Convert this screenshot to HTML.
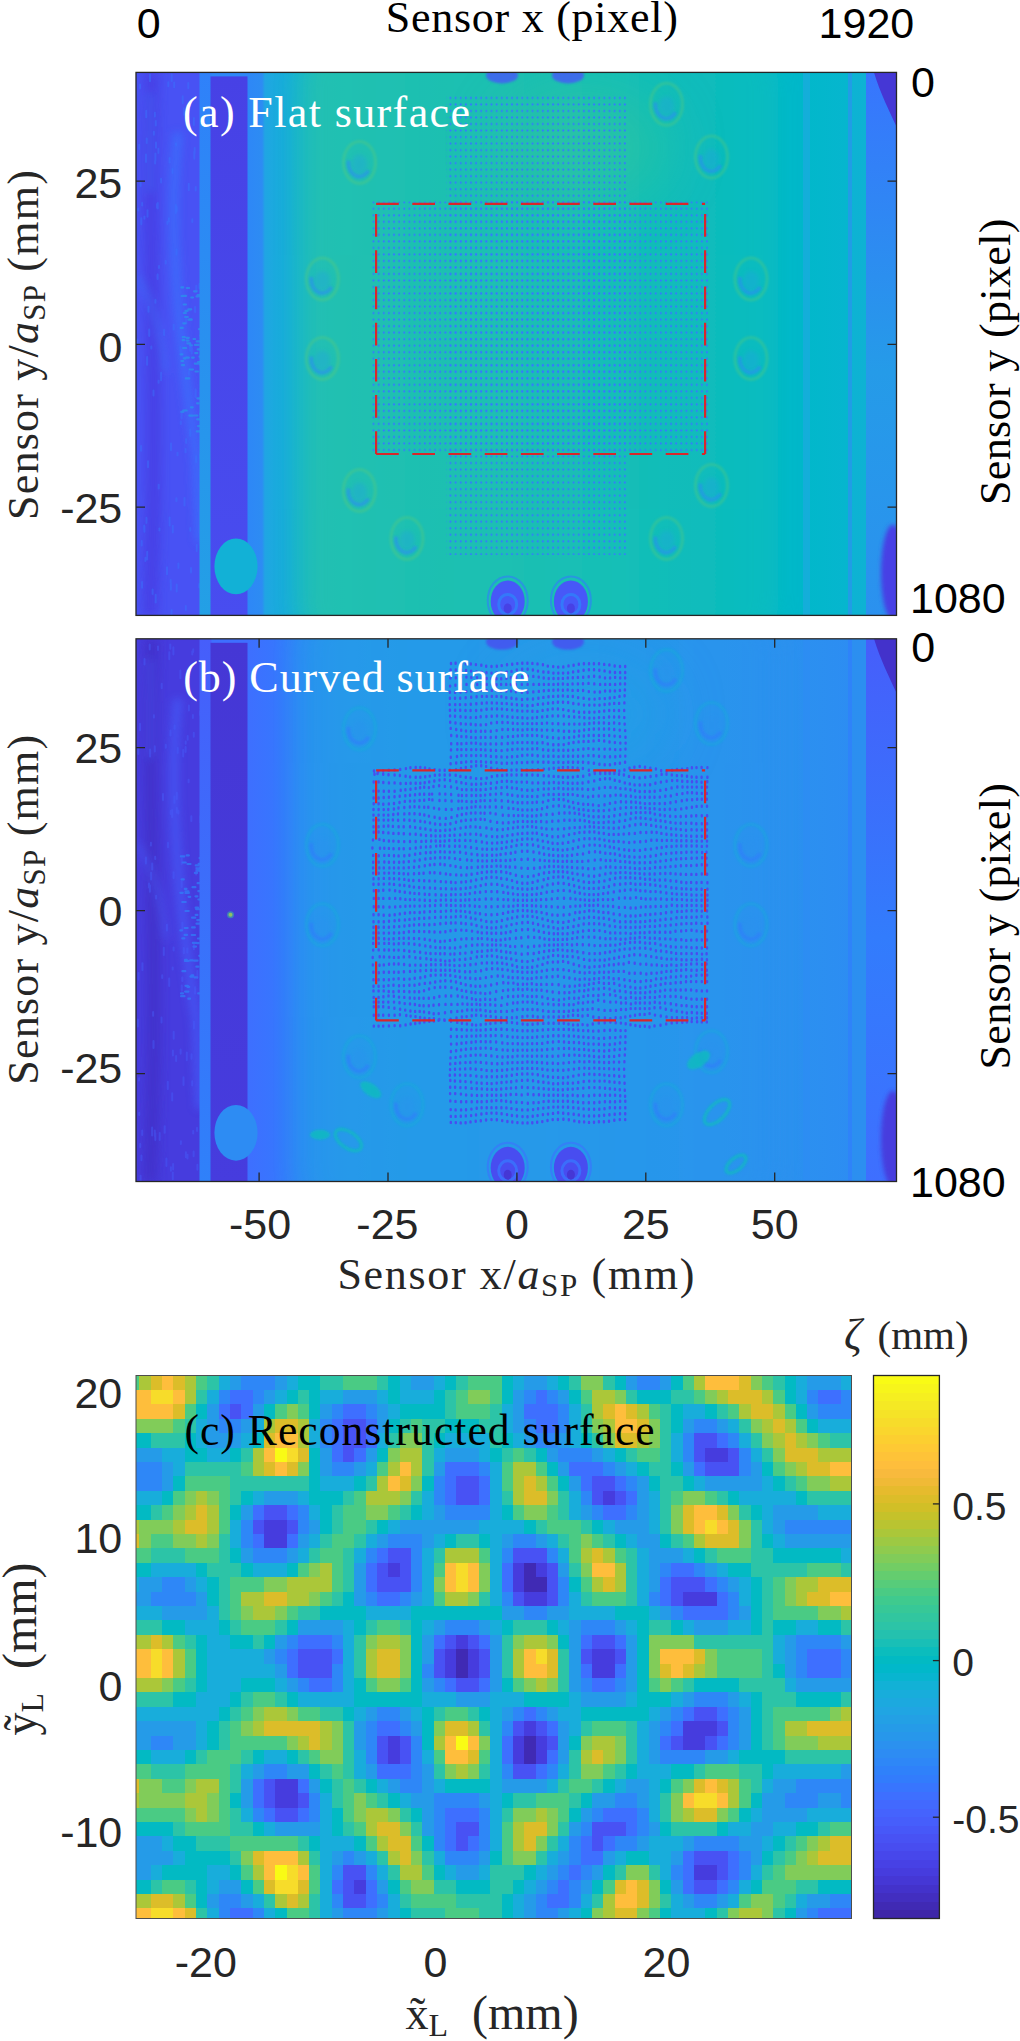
<!DOCTYPE html><html><head><meta charset="utf-8"><title>Figure</title><style>html,body{margin:0;padding:0;background:#fff;}svg{display:block;}</style></head><body><svg width="1020" height="2041" viewBox="0 0 1020 2041">
<defs>
<filter id="blur20" x="-50%" y="-50%" width="200%" height="200%"><feGaussianBlur stdDeviation="30"/></filter>
<filter id="blur8" x="-20%" y="-20%" width="140%" height="140%"><feGaussianBlur stdDeviation="8"/></filter>
<filter id="blur12" x="-20%" y="-20%" width="140%" height="140%"><feGaussianBlur stdDeviation="12"/></filter>
<filter id="blur4" x="-50%" y="-50%" width="200%" height="200%"><feGaussianBlur stdDeviation="4"/></filter>
<filter id="blur2" x="-50%" y="-50%" width="200%" height="200%"><feGaussianBlur stdDeviation="2"/></filter>
<filter id="blur1" x="-50%" y="-50%" width="200%" height="200%"><feGaussianBlur stdDeviation="1.2"/></filter>
<linearGradient id="basea" gradientUnits="userSpaceOnUse" x1="136.0" x2="896.5" y1="0" y2="0"><stop offset="0.1466" stop-color="#2e87f7"/><stop offset="0.1657" stop-color="#2d8cf3"/><stop offset="0.1696" stop-color="#20a5e3"/><stop offset="0.1788" stop-color="#1ca9df"/><stop offset="0.2156" stop-color="#12b1d6"/><stop offset="0.2551" stop-color="#08b5d0"/><stop offset="0.3208" stop-color="#01b8ca"/><stop offset="0.4129" stop-color="#02bac3"/><stop offset="0.6759" stop-color="#02bac3"/><stop offset="0.8205" stop-color="#01b8ca"/><stop offset="0.8731" stop-color="#01b8ca"/><stop offset="0.9599" stop-color="#08b5d0"/></linearGradient>
<linearGradient id="stripa" x1="0" x2="0" y1="0" y2="1"><stop offset="0" stop-color="#2f81fa"/><stop offset="1" stop-color="#23a0e5"/></linearGradient>
<linearGradient id="darka" x1="0" x2="0" y1="0" y2="1"><stop offset="0" stop-color="#4741e5"/><stop offset="1" stop-color="#484df0"/></linearGradient>
<linearGradient id="platea" x1="0" x2="1" y1="0" y2="0"><stop offset="0" stop-color="#2cc4a7"/><stop offset="0.5" stop-color="#24c1ae"/><stop offset="1" stop-color="#0bbdbd"/></linearGradient>
<linearGradient id="rba" x1="0" x2="0" y1="0" y2="1"><stop offset="0" stop-color="#3875fe"/><stop offset="0.55" stop-color="#259be8"/><stop offset="1" stop-color="#2b91ef"/></linearGradient>
<pattern id="dotsa" x="370.94" y="199.04" width="5.13" height="6.52" patternUnits="userSpaceOnUse"><circle cx="2.56" cy="3.26" r="1.08" fill="#327cfc"/></pattern>
<linearGradient id="baseb" gradientUnits="userSpaceOnUse" x1="136.0" x2="896.5" y1="0" y2="0"><stop offset="0.1466" stop-color="#3e6fff"/><stop offset="0.1788" stop-color="#3875fe"/><stop offset="0.2156" stop-color="#2e87f7"/><stop offset="0.2682" stop-color="#2b91ef"/><stop offset="0.3471" stop-color="#2797eb"/><stop offset="0.6759" stop-color="#2797eb"/><stop offset="0.8600" stop-color="#2b91ef"/><stop offset="0.9599" stop-color="#2d8cf3"/></linearGradient>
<linearGradient id="stripb" x1="0" x2="0" y1="0" y2="1"><stop offset="0" stop-color="#465efb"/><stop offset="1" stop-color="#2f81fa"/></linearGradient>
<linearGradient id="darkb" x1="0" x2="0" y1="0" y2="1"><stop offset="0" stop-color="#4537d5"/><stop offset="1" stop-color="#463cde"/></linearGradient>
<linearGradient id="plateb" x1="0" x2="1" y1="0" y2="0"><stop offset="0" stop-color="#23a0e5"/><stop offset="0.5" stop-color="#259be8"/><stop offset="1" stop-color="#2b91ef"/></linearGradient>
<linearGradient id="rbb" x1="0" x2="0" y1="0" y2="1"><stop offset="0" stop-color="#465efb"/><stop offset="0.55" stop-color="#327cfc"/><stop offset="1" stop-color="#3e6fff"/></linearGradient>
<pattern id="dotsb" x="370.94" y="765.44" width="5.13" height="6.52" patternUnits="userSpaceOnUse"><circle cx="2.56" cy="3.26" r="1.7" fill="#484df0"/></pattern>
</defs>
<rect width="1020" height="2041" fill="#ffffff"/>
<clipPath id="clipa"><rect x="136.0" y="72.4" width="760.5" height="543.0"/></clipPath>
<g clip-path="url(#clipa)">
<rect x="136.0" y="72.4" width="760.5" height="543.0" fill="url(#basea)"/>
<rect x="300" y="42.400000000000006" width="478" height="603.0" rx="40" fill="url(#platea)" opacity="0.75" filter="url(#blur12)"/>
<ellipse cx="585" cy="147.4" rx="80" ry="55" fill="#37c897" opacity="0.5" filter="url(#blur20)"/>
<rect x="136.0" y="72.4" width="75.0" height="543.0" fill="#4852f4"/>
<g filter="url(#blur4)" opacity="0.85">
<path d="M152,72.4 C146,222.4 160,372.4 150,615.4" stroke="#4741e5" stroke-width="16" fill="none"/>
<path d="M178,132.4 C168,222.4 178,332.4 196,452.4 L200,542.4" stroke="#3875fe" stroke-width="9" fill="none" opacity="0.8"/>
<path d="M137,277.4 C150,297.4 160,322.4 166,372.4" stroke="#3875fe" stroke-width="4" fill="none" opacity="0.7"/>
<path d="M150,92.4 L150,192.4" stroke="#3875fe" stroke-width="5" fill="none" opacity="0.5"/>
</g>
<path d="M188.4 309.3h2.8M181.9 365.1h2.2M181.5 361.0h1.6M191.3 297.5h1.7M191.0 407.3h1.7M185.8 378.4h3.4M195.0 344.9h3.5M181.2 411.9h2.1M183.8 304.5h2.1M201.2 313.6h2.7M196.6 341.4h2.6M181.6 296.0h1.9M197.7 349.4h2.1M195.2 353.1h2.1M200.7 388.8h2.0M194.9 363.6h3.3M199.0 329.2h3.5M183.1 348.0h3.0M184.0 358.3h1.6M197.4 398.3h2.6M202.8 332.9h2.9M195.5 371.5h2.4M201.8 424.4h2.4M197.3 296.2h2.9M196.8 431.4h3.1M187.4 343.3h2.8M180.6 354.3h1.8M183.0 295.9h3.0M183.4 323.3h2.3M202.7 299.1h2.4M194.3 415.5h3.1M202.5 327.8h2.3M189.3 415.6h3.4M183.9 313.0h2.0M186.1 357.7h2.7M186.8 288.0h2.3M189.6 369.5h3.4M198.0 362.1h2.7M197.6 295.2h3.3M200.3 414.2h3.1M190.2 345.3h1.7M196.5 296.4h1.6M185.4 310.9h2.2M181.4 287.4h1.8M182.6 340.1h1.6M202.7 376.4h1.8M186.6 337.8h2.2M183.2 410.5h3.5M192.1 357.6h1.7M182.7 337.1h2.0M201.6 310.8h1.5M204.7 364.0h1.8M194.1 291.3h2.6M205.4 412.6h2.9M186.8 340.6h1.8M200.1 364.6h3.1M188.6 319.7h3.1M205.6 411.0h3.1M201.3 394.7h2.0M193.5 339.0h1.6M180.7 327.9h2.0M198.0 426.1h2.4M204.4 430.7h3.4M189.5 319.4h2.0M185.1 317.0h2.7M203.4 409.3h2.5M197.0 403.3h1.7M197.2 419.3h3.1M199.5 356.7h1.9M200.5 335.6h3.1" stroke="#2797eb" stroke-width="2.2" stroke-linecap="round" opacity="0.7"/>
<path d="M206.0 287.3v4.4M204.2 466.0v3.0M146.0 154.5v7.4M194.3 151.8v7.0M206.6 429.3v4.1M176.0 143.5v2.1M205.9 425.2v5.2M203.3 308.0v7.2M195.7 187.0v3.5M157.8 203.0v5.5M155.4 299.9v2.8M201.6 264.5v4.7M178.4 563.4v4.5M202.2 344.8v5.2M174.2 82.6v4.6M150.0 74.5v6.8M149.2 329.5v6.4M176.5 249.4v5.1M176.4 498.3v2.6M176.8 207.3v3.7M191.8 348.1v5.4M191.0 567.9v4.7M180.5 346.9v5.1M186.2 318.0v5.2M170.9 583.6v6.2M199.2 584.0v3.6M176.7 584.6v7.0M146.7 138.4v4.7M142.2 203.1v2.4M184.5 498.1v7.4M148.0 461.3v6.0M147.2 551.8v7.8M152.6 589.6v4.4M171.6 609.9v7.0M148.5 306.7v5.1M161.1 178.7v3.9M188.3 83.0v5.3M168.3 82.2v4.0M181.3 350.6v2.4M206.9 500.5v7.8M144.4 216.6v2.2M192.3 219.3v2.8M167.0 567.3v6.9M155.4 153.5v7.5M177.5 452.7v2.5M141.1 446.1v4.6M142.1 581.9v5.8M193.9 117.9v7.1M141.7 540.9v4.7M161.1 372.7v7.6M156.0 142.6v5.2M153.9 131.8v3.0M140.6 182.0v3.9M158.7 484.8v3.7M172.5 169.0v4.1M138.3 208.4v2.1M189.0 371.6v3.1M170.7 579.9v2.6M195.1 307.1v5.0M196.3 285.8v5.0M185.8 605.9v4.1M196.1 456.2v5.8M165.7 261.1v2.3M146.2 110.8v6.4M155.1 161.0v2.5M196.7 545.1v6.0M157.0 203.9v3.8M169.6 157.9v4.7M155.7 594.7v7.8M175.8 205.1v7.8M159.0 266.0v2.0M164.1 330.1v5.0M151.3 346.5v2.0M155.8 121.1v4.4M140.0 84.6v3.8M153.5 390.4v5.2M190.3 429.4v6.3M199.4 283.9v4.0M206.9 153.6v6.3M182.7 96.2v7.0M200.3 413.0v6.4M194.7 148.0v5.1M172.8 525.8v6.8M195.7 389.5v7.4M185.5 448.9v3.4M139.2 144.7v4.2M144.4 526.3v5.4M181.6 412.4v6.1M171.7 74.2v6.8M190.1 345.5v5.2M183.8 108.3v6.4M154.9 112.8v3.6M188.8 183.8v6.4M206.3 340.6v4.3M171.0 443.6v6.6M180.8 421.4v2.5M147.5 210.3v6.5M158.6 380.7v2.1M141.3 218.3v6.0M186.1 439.3v3.7M173.7 324.7v4.8M145.4 557.7v3.2M206.4 580.8v2.1M169.6 517.6v7.8M168.9 218.3v3.3M204.1 186.8v5.5M147.1 357.0v7.7M146.4 517.8v5.1M200.0 454.3v3.4M200.7 336.4v2.1M137.3 339.4v4.7M158.4 148.8v4.1M159.4 528.6v2.0M190.3 528.0v2.7M202.8 459.6v7.4M157.6 274.5v4.4M207.9 392.3v4.2M167.4 221.8v2.3M144.2 525.6v3.7M203.4 207.8v3.6" stroke="#3875fe" stroke-width="2" stroke-linecap="round" opacity="0.45"/>
<rect x="199.5" y="72.4" width="12" height="543.0" fill="url(#stripa)"/>
<rect x="210.5" y="76.4" width="37" height="543.0" fill="url(#darka)"/>
<rect x="803" y="72.4" width="7" height="543.0" fill="#1ca9df" opacity="0.7"/>
<rect x="848" y="72.4" width="4" height="543.0" fill="#2797eb" opacity="0.8"/>
<rect x="852" y="72.4" width="14" height="543.0" fill="#12b1d6" opacity="0.6"/>
<rect x="866" y="72.4" width="30.5" height="543.0" fill="url(#rba)"/>
<path d="M874,72.4 L897,72.4 L897,127.4 C890,112.4 880,92.4 874,72.4Z" fill="#4537d5"/>
<ellipse cx="893" cy="572.4" rx="12" ry="48" fill="#4741e5" filter="url(#blur2)"/>
<ellipse cx="236" cy="566.4" rx="21.6" ry="27.9" fill="#12b1d6"/>
<rect x="446" y="94.9" width="181" height="460" fill="url(#dotsa)"/>
<rect x="372" y="201.4" width="336" height="252" fill="url(#dotsa)"/>
<ellipse cx="359.5" cy="162.4" rx="16" ry="21" fill="none" stroke="#64cd6f" stroke-width="3" opacity="0.35" filter="url(#blur1)"/>
<path d="M348.5,160.4 A11 14 0 0 0 368.5,170.4" fill="none" stroke="#2d8cf3" stroke-width="4" opacity="0.6" filter="url(#blur1)"/>
<ellipse cx="359.5" cy="164.4" rx="8" ry="10" fill="#23a0e5" opacity="0.35" filter="url(#blur2)"/>
<ellipse cx="322.4" cy="278.9" rx="16" ry="21" fill="none" stroke="#64cd6f" stroke-width="3" opacity="0.35" filter="url(#blur1)"/>
<path d="M311.4,276.9 A11 14 0 0 0 331.4,286.9" fill="none" stroke="#2d8cf3" stroke-width="4" opacity="0.6" filter="url(#blur1)"/>
<ellipse cx="322.4" cy="280.9" rx="8" ry="10" fill="#23a0e5" opacity="0.35" filter="url(#blur2)"/>
<ellipse cx="322.4" cy="358.4" rx="16" ry="21" fill="none" stroke="#64cd6f" stroke-width="3" opacity="0.35" filter="url(#blur1)"/>
<path d="M311.4,356.4 A11 14 0 0 0 331.4,366.4" fill="none" stroke="#2d8cf3" stroke-width="4" opacity="0.6" filter="url(#blur1)"/>
<ellipse cx="322.4" cy="360.4" rx="8" ry="10" fill="#23a0e5" opacity="0.35" filter="url(#blur2)"/>
<ellipse cx="359.4" cy="490.4" rx="16" ry="21" fill="none" stroke="#64cd6f" stroke-width="3" opacity="0.35" filter="url(#blur1)"/>
<path d="M348.4,488.4 A11 14 0 0 0 368.4,498.4" fill="none" stroke="#2d8cf3" stroke-width="4" opacity="0.6" filter="url(#blur1)"/>
<ellipse cx="359.4" cy="492.4" rx="8" ry="10" fill="#23a0e5" opacity="0.35" filter="url(#blur2)"/>
<ellipse cx="407" cy="538.4" rx="16" ry="21" fill="none" stroke="#64cd6f" stroke-width="3" opacity="0.35" filter="url(#blur1)"/>
<path d="M396,536.4 A11 14 0 0 0 416,546.4" fill="none" stroke="#2d8cf3" stroke-width="4" opacity="0.6" filter="url(#blur1)"/>
<ellipse cx="407" cy="540.4" rx="8" ry="10" fill="#23a0e5" opacity="0.35" filter="url(#blur2)"/>
<ellipse cx="666.5" cy="104.2" rx="16" ry="21" fill="none" stroke="#64cd6f" stroke-width="3" opacity="0.35" filter="url(#blur1)"/>
<path d="M655.5,102.2 A11 14 0 0 0 675.5,112.2" fill="none" stroke="#2d8cf3" stroke-width="4" opacity="0.6" filter="url(#blur1)"/>
<ellipse cx="666.5" cy="106.2" rx="8" ry="10" fill="#23a0e5" opacity="0.35" filter="url(#blur2)"/>
<ellipse cx="711.5" cy="157.10000000000002" rx="16" ry="21" fill="none" stroke="#64cd6f" stroke-width="3" opacity="0.35" filter="url(#blur1)"/>
<path d="M700.5,155.10000000000002 A11 14 0 0 0 720.5,165.10000000000002" fill="none" stroke="#2d8cf3" stroke-width="4" opacity="0.6" filter="url(#blur1)"/>
<ellipse cx="711.5" cy="159.10000000000002" rx="8" ry="10" fill="#23a0e5" opacity="0.35" filter="url(#blur2)"/>
<ellipse cx="751" cy="278.9" rx="16" ry="21" fill="none" stroke="#64cd6f" stroke-width="3" opacity="0.35" filter="url(#blur1)"/>
<path d="M740,276.9 A11 14 0 0 0 760,286.9" fill="none" stroke="#2d8cf3" stroke-width="4" opacity="0.6" filter="url(#blur1)"/>
<ellipse cx="751" cy="280.9" rx="8" ry="10" fill="#23a0e5" opacity="0.35" filter="url(#blur2)"/>
<ellipse cx="751" cy="358.4" rx="16" ry="21" fill="none" stroke="#64cd6f" stroke-width="3" opacity="0.35" filter="url(#blur1)"/>
<path d="M740,356.4 A11 14 0 0 0 760,366.4" fill="none" stroke="#2d8cf3" stroke-width="4" opacity="0.6" filter="url(#blur1)"/>
<ellipse cx="751" cy="360.4" rx="8" ry="10" fill="#23a0e5" opacity="0.35" filter="url(#blur2)"/>
<ellipse cx="711.5" cy="485.4" rx="16" ry="21" fill="none" stroke="#64cd6f" stroke-width="3" opacity="0.35" filter="url(#blur1)"/>
<path d="M700.5,483.4 A11 14 0 0 0 720.5,493.4" fill="none" stroke="#2d8cf3" stroke-width="4" opacity="0.6" filter="url(#blur1)"/>
<ellipse cx="711.5" cy="487.4" rx="8" ry="10" fill="#23a0e5" opacity="0.35" filter="url(#blur2)"/>
<ellipse cx="666.5" cy="538.4" rx="16" ry="21" fill="none" stroke="#64cd6f" stroke-width="3" opacity="0.35" filter="url(#blur1)"/>
<path d="M655.5,536.4 A11 14 0 0 0 675.5,546.4" fill="none" stroke="#2d8cf3" stroke-width="4" opacity="0.6" filter="url(#blur1)"/>
<ellipse cx="666.5" cy="540.4" rx="8" ry="10" fill="#23a0e5" opacity="0.35" filter="url(#blur2)"/>
<ellipse cx="502" cy="75.4" rx="16" ry="8" fill="#4758f8" opacity="0.8" filter="url(#blur1)"/>
<ellipse cx="568" cy="75.4" rx="16" ry="8" fill="#4758f8" opacity="0.8" filter="url(#blur1)"/>
<path d="M490,569.0 H590" stroke="#64cd6f" stroke-width="2.5" opacity="0.5" filter="url(#blur1)"/>
<ellipse cx="507.7" cy="600.4" rx="20" ry="24" fill="none" stroke="#327cfc" stroke-width="2" opacity="0.6"/>
<ellipse cx="507.7" cy="601.4" rx="17" ry="21" fill="#4758f8"/>
<ellipse cx="507.7" cy="604.4" rx="9" ry="10" fill="none" stroke="#2f81fa" stroke-width="3" opacity="0.8"/>
<ellipse cx="507.7" cy="608.4" rx="4" ry="5" fill="#4741e5"/>
<ellipse cx="570.9" cy="600.4" rx="20" ry="24" fill="none" stroke="#327cfc" stroke-width="2" opacity="0.6"/>
<ellipse cx="570.9" cy="601.4" rx="17" ry="21" fill="#4758f8"/>
<ellipse cx="570.9" cy="604.4" rx="9" ry="10" fill="none" stroke="#2f81fa" stroke-width="3" opacity="0.8"/>
<ellipse cx="570.9" cy="608.4" rx="4" ry="5" fill="#4741e5"/>
<path d="M376.1,203.9 H705.1" stroke="#d9262b" stroke-width="2.2" stroke-dasharray="22.7 13.5" fill="none"/>
<path d="M376.1,454.0 H705.1" stroke="#d9262b" stroke-width="2.2" stroke-dasharray="22.7 13.5" fill="none"/>
<path d="M376.1,454.0 V203.9" stroke="#d9262b" stroke-width="2.2" stroke-dasharray="22.7 13.5" fill="none"/>
<path d="M705.1,454.0 V203.9" stroke="#d9262b" stroke-width="2.2" stroke-dasharray="22.7 13.5" fill="none"/>
</g>
<clipPath id="clipb"><rect x="136.0" y="638.8" width="760.5" height="543.0"/></clipPath>
<g clip-path="url(#clipb)">
<rect x="136.0" y="638.8" width="760.5" height="543.0" fill="url(#baseb)"/>
<rect x="300" y="608.8" width="478" height="603.0" rx="40" fill="url(#plateb)" opacity="0.5" filter="url(#blur12)"/>
<ellipse cx="585" cy="713.8" rx="80" ry="55" fill="#20a5e3" opacity="0.5" filter="url(#blur20)"/>
<rect x="136.0" y="638.8" width="75.0" height="543.0" fill="#463cde"/>
<g filter="url(#blur4)" opacity="0.85">
<path d="M152,638.8 C146,788.8 160,938.8 150,1181.8" stroke="#4332cb" stroke-width="16" fill="none"/>
<path d="M178,698.8 C168,788.8 178,898.8 196,1018.8 L200,1108.8" stroke="#465efb" stroke-width="9" fill="none" opacity="0.8"/>
<path d="M137,843.8 C150,863.8 160,888.8 166,938.8" stroke="#465efb" stroke-width="4" fill="none" opacity="0.7"/>
<path d="M150,658.8 L150,758.8" stroke="#465efb" stroke-width="5" fill="none" opacity="0.5"/>
</g>
<path d="M191.8 935.0h3.3M192.1 927.4h2.7M184.8 928.0h2.8M200.6 867.4h2.1M182.4 971.2h2.9M181.1 996.2h3.4M197.0 943.1h1.8M180.4 930.4h1.6M184.9 888.9h1.6M192.1 917.7h3.2M193.5 946.6h2.5M197.2 920.1h2.1M205.9 998.2h3.2M198.4 899.5h2.0M187.5 864.0h3.0M190.4 976.6h2.3M204.9 976.7h1.5M185.5 985.8h2.4M205.5 911.4h1.6M196.4 966.7h2.0M182.3 902.0h3.4M199.7 870.9h2.0M182.6 862.5h3.1M184.6 934.9h2.4M185.0 959.9h1.8M196.7 870.7h2.3M185.5 892.9h3.4M200.9 897.9h3.3M185.5 911.0h3.2M196.7 868.3h3.5M185.5 891.3h3.0M188.6 896.8h1.6M182.3 938.3h2.0M195.6 907.7h2.4M204.9 923.9h2.6M202.5 880.3h1.8M203.6 972.4h2.0M184.9 961.0h3.4M185.1 991.6h3.3M195.7 914.9h1.7M181.0 993.4h2.0M198.3 891.1h3.1M195.5 896.3h1.9M198.7 863.8h2.0M194.5 977.4h2.7M187.3 986.8h1.9M180.4 892.8h2.4M181.6 879.4h2.2M194.9 872.9h2.2M203.2 996.0h2.8M198.0 938.5h1.8M180.9 856.4h3.3M198.2 993.4h1.5M196.5 923.7h3.0M188.3 998.7h1.7M194.2 960.7h3.3M199.2 955.8h3.1M203.8 904.8h2.9M203.4 980.1h2.3M200.6 979.0h2.6M196.2 909.2h2.7M195.8 865.4h2.8M205.8 981.4h3.0M190.1 960.4h2.7M191.5 975.4h1.7M199.5 858.1h2.7M192.5 887.2h2.9M192.9 942.9h3.3M186.7 855.4h2.1M197.6 883.2h1.8" stroke="#2f81fa" stroke-width="2.2" stroke-linecap="round" opacity="0.7"/>
<path d="M201.3 997.2v4.7M200.3 816.3v6.0M151.1 872.8v6.8M201.9 1116.8v4.3M178.4 810.7v2.8M172.2 1093.3v7.1M187.5 1154.7v3.7M149.0 883.5v3.7M152.2 863.6v5.8M172.1 810.0v7.0M206.7 884.5v2.4M139.2 1112.7v2.2M187.3 948.6v3.9M193.2 649.2v2.8M169.3 652.2v7.0M153.9 715.3v2.3M181.7 881.2v5.8M183.5 1077.2v7.8M185.6 747.0v4.9M149.7 644.6v4.8M187.7 736.1v3.6M161.5 1017.4v5.1M180.6 1049.4v4.4M193.2 1130.9v2.5M203.2 1031.1v2.8M169.2 978.5v7.5M163.8 947.7v7.3M193.6 1151.5v4.8M183.2 750.1v6.3M195.1 987.2v6.3M152.1 1127.5v7.9M206.4 930.4v6.7M159.7 1132.9v7.1M161.7 683.7v4.6M176.1 1056.0v4.9M139.0 1078.2v2.4M193.8 732.7v4.0M192.9 715.1v2.9M173.7 1031.7v7.0M185.9 1152.3v5.0M204.4 685.5v3.3M174.4 796.4v6.4M182.4 922.7v7.1M176.8 808.1v4.3M197.0 1127.8v3.2M197.4 1164.7v5.1M177.7 747.9v5.2M172.7 967.4v2.2M205.8 919.0v4.4M193.9 944.4v4.9M186.1 674.6v5.2M166.4 1158.4v7.5M156.1 895.7v2.8M167.8 1081.7v7.4M170.8 811.0v3.1M180.9 1141.2v2.8M192.3 651.2v3.2M153.1 1011.9v3.9M162.2 975.3v2.6M188.9 705.5v5.1M154.8 746.2v5.2M168.0 842.8v4.5M174.6 725.5v3.2M181.8 985.5v5.2M197.4 971.0v7.1M153.5 1041.0v6.9M201.1 810.3v3.9M202.5 757.3v8.0M200.0 711.5v3.4M188.6 779.7v2.6M196.1 867.7v6.7M145.9 857.5v6.1M138.3 747.9v6.1M201.7 1164.6v2.7M172.9 1050.5v5.0M185.7 741.4v2.4M144.5 659.1v5.3M173.6 947.6v2.9M150.1 749.5v7.0M207.3 1142.1v2.6M141.4 1155.5v4.8M191.3 816.3v4.8M173.6 872.3v5.6M137.9 1019.5v7.1M149.9 885.3v6.4M165.8 744.8v3.0M173.4 647.2v7.4M193.9 1021.4v7.2M181.7 858.4v5.6M172.8 1172.4v6.8M155.3 1133.6v6.5M192.2 1081.2v4.4M200.7 1116.6v6.2M191.5 1054.3v4.4M188.3 677.1v4.1M170.3 644.6v4.1M182.3 977.6v3.4M204.1 1000.5v4.0M183.8 948.1v5.2M164.7 1181.7v5.9M186.8 1052.4v7.9M138.6 973.0v6.4M155.2 856.8v2.3M150.9 842.8v2.6M154.8 1130.6v5.3M173.1 1164.0v5.4M207.7 985.2v6.9M142.4 963.3v6.6M140.2 1143.9v3.0M170.5 730.6v5.0M180.4 670.6v7.7M166.9 924.8v5.6M163.0 794.0v5.9M176.8 792.8v6.3M158.0 646.4v3.5M140.0 723.8v6.5M164.7 1126.2v6.5M140.6 1175.7v7.7M142.2 1130.5v4.6M170.9 1167.2v3.5" stroke="#465efb" stroke-width="2" stroke-linecap="round" opacity="0.45"/>
<rect x="199.5" y="638.8" width="12" height="543.0" fill="url(#stripb)"/>
<rect x="210.5" y="642.8" width="37" height="543.0" fill="url(#darkb)"/>
<rect x="803" y="638.8" width="7" height="543.0" fill="#2d8cf3" opacity="0.7"/>
<rect x="848" y="638.8" width="4" height="543.0" fill="#2f81fa" opacity="0.8"/>
<rect x="852" y="638.8" width="14" height="543.0" fill="#2b91ef" opacity="0.6"/>
<rect x="866" y="638.8" width="30.5" height="543.0" fill="url(#rbb)"/>
<path d="M874,638.8 L897,638.8 L897,693.8 C890,678.8 880,658.8 874,638.8Z" fill="#4332cb"/>
<ellipse cx="893" cy="1138.8" rx="12" ry="48" fill="#463cde" filter="url(#blur2)"/>
<circle cx="230.5" cy="914.8" r="2" fill="#e6bb2d"/><circle cx="230.5" cy="914.8" r="3.5" fill="#37c897" opacity="0.5"/>
<ellipse cx="236" cy="1132.8" rx="21.6" ry="27.9" fill="#2d8cf3"/>
<path d="M451.0 663.0v1M455.6 662.7v1M460.9 663.0v1M465.8 663.3v1M470.8 663.5v1M475.9 664.1v1M481.3 664.8v1M486.2 665.7v1M491.5 666.0v1M496.8 665.8v1M501.7 665.1v1M507.0 664.2v1M512.2 663.7v1M517.3 663.1v1M522.3 662.7v1M527.4 662.7v1M532.4 662.9v1M537.5 663.4v1M542.9 664.2v1M547.8 665.6v1M553.2 666.1v1M558.2 666.6v1M563.3 666.4v1M568.5 665.4v1M573.6 664.8v1M578.8 663.8v1M583.9 663.3v1M589.0 663.3v1M593.9 663.3v1M599.0 663.3v1M604.2 663.9v1M609.4 664.4v1M614.7 665.5v1M620.0 666.0v1M625.2 666.0v1M450.6 669.5v1M455.8 669.5v1M461.1 669.8v1M466.0 670.0v1M471.1 670.6v1M476.5 671.4v1M481.6 672.0v1M486.5 672.2v1M491.5 672.6v1M496.4 672.4v1M501.4 672.0v1M506.7 671.8v1M511.5 670.9v1M516.8 669.5v1M522.2 668.7v1M527.6 668.8v1M532.9 669.5v1M538.0 670.6v1M543.4 671.5v1M548.4 671.7v1M553.4 672.6v1M558.3 672.6v1M563.1 672.6v1M568.1 672.4v1M573.1 671.4v1M578.3 670.8v1M583.6 669.7v1M588.9 669.2v1M594.0 669.3v1M599.3 669.8v1M604.6 670.4v1M609.9 671.5v1M615.0 672.0v1M620.1 672.0v1M625.2 672.0v1M450.4 677.4v1M455.8 677.2v1M460.9 676.6v1M466.4 676.6v1M471.3 676.9v1M477.0 677.1v1M481.8 677.6v1M486.7 678.0v1M491.5 678.0v1M496.5 678.2v1M501.2 678.3v1M506.4 677.8v1M510.9 677.2v1M516.2 676.7v1M522.0 676.2v1M527.7 675.8v1M533.3 675.9v1M538.7 676.6v1M543.7 677.5v1M548.7 678.0v1M553.5 678.0v1M558.3 678.0v1M562.9 677.9v1M567.8 677.4v1M572.8 677.3v1M577.9 676.9v1M583.2 676.8v1M588.7 676.3v1M594.1 675.8v1M599.7 676.4v1M605.0 677.4v1M610.1 677.4v1M615.1 676.9v1M620.2 677.4v1M625.1 677.4v1M450.1 685.6v1M455.4 684.8v1M460.5 684.2v1M466.5 683.9v1M471.3 683.9v1M477.2 683.9v1M481.9 683.9v1M486.7 683.9v1M491.7 684.1v1M496.5 684.3v1M501.1 683.9v1M506.2 683.9v1M510.8 684.1v1M515.9 684.3v1M521.8 683.9v1M527.6 683.9v1M533.5 683.9v1M539.0 683.9v1M543.9 683.9v1M548.7 683.9v1M553.5 683.9v1M558.1 683.8v1M562.9 683.5v1M567.7 683.9v1M572.6 683.4v1M577.9 683.4v1M583.0 683.3v1M588.5 682.9v1M594.3 683.4v1M600.1 683.9v1M605.2 683.9v1M610.0 683.9v1M615.1 683.9v1M620.2 683.4v1M625.0 683.4v1M449.9 691.8v1M455.1 691.9v1M460.4 691.6v1M466.2 691.1v1M471.3 690.5v1M477.0 690.2v1M481.9 689.9v1M486.7 689.9v1M491.8 689.9v1M496.5 690.1v1M501.1 690.5v1M506.2 690.5v1M511.1 690.6v1M515.9 691.2v1M521.9 691.7v1M527.5 692.0v1M533.3 691.4v1M538.8 690.9v1M543.8 690.3v1M548.7 689.9v1M553.4 689.8v1M558.1 689.5v1M562.9 689.8v1M567.7 689.4v1M572.6 689.9v1M577.9 689.9v1M583.1 690.0v1M588.8 691.1v1M594.6 691.6v1M599.9 691.5v1M605.1 690.5v1M610.0 690.5v1M614.9 690.4v1M619.9 689.9v1M624.9 689.4v1M449.9 697.8v1M455.0 697.8v1M460.2 697.8v1M465.7 697.3v1M471.2 696.7v1M476.6 696.2v1M481.9 695.9v1M486.7 695.9v1M491.8 695.9v1M496.6 695.9v1M501.4 696.3v1M506.3 697.2v1M511.5 697.7v1M516.4 698.4v1M522.0 699.0v1M527.4 698.6v1M533.0 698.5v1M538.4 697.8v1M543.4 696.9v1M548.5 696.3v1M553.2 695.9v1M558.1 695.8v1M562.9 695.4v1M567.8 695.9v1M572.8 696.0v1M578.1 697.1v1M583.6 697.7v1M589.2 698.6v1M594.6 698.6v1M599.6 698.1v1M604.8 698.1v1M609.8 697.5v1M614.5 696.9v1M619.5 695.9v1M624.6 695.3v1M449.7 704.1v1M455.2 704.1v1M460.0 704.1v1M465.5 704.1v1M470.8 703.8v1M476.3 703.3v1M481.8 702.7v1M486.7 702.4v1M491.8 702.4v1M496.8 702.6v1M501.8 702.9v1M506.7 703.1v1M511.8 703.7v1M516.9 704.2v1M522.1 704.8v1M527.4 705.2v1M532.6 704.9v1M537.8 703.9v1M543.0 703.4v1M548.1 702.8v1M553.0 702.3v1M557.9 701.8v1M563.0 701.8v1M568.1 702.0v1M573.3 703.0v1M578.6 703.6v1M584.0 704.6v1M589.3 704.6v1M594.4 704.6v1M599.5 704.6v1M604.6 704.0v1M609.5 703.5v1M614.2 702.9v1M619.1 702.9v1M624.4 702.4v1M449.9 709.7v1M455.1 709.8v1M460.2 709.7v1M465.5 710.0v1M470.6 710.0v1M476.1 710.0v1M481.3 709.6v1M486.6 708.7v1M491.8 708.4v1M497.0 708.4v1M501.9 708.6v1M507.0 709.1v1M512.2 709.6v1M517.3 710.2v1M522.3 710.6v1M527.4 710.6v1M532.4 710.7v1M537.4 710.9v1M542.6 709.9v1M547.7 709.2v1M552.7 708.4v1M557.9 708.5v1M563.2 709.1v1M568.5 710.1v1M573.8 710.7v1M579.0 711.7v1M584.2 711.7v1M589.3 711.7v1M594.4 711.6v1M599.2 711.1v1M604.2 710.5v1M609.2 710.0v1M614.1 710.0v1M619.0 710.0v1M624.2 710.0v1M450.1 715.4v1M455.0 715.7v1M460.5 716.2v1M465.6 716.8v1M470.6 717.1v1M476.0 716.9v1M480.7 716.3v1M486.4 716.0v1M491.7 715.8v1M497.0 715.4v1M502.2 715.6v1M507.4 716.2v1M512.5 716.7v1M517.5 717.1v1M522.4 717.3v1M527.4 717.6v1M532.4 717.5v1M537.0 717.0v1M542.2 716.4v1M547.2 715.9v1M552.6 715.4v1M558.1 715.4v1M563.7 715.5v1M568.9 716.1v1M574.2 716.5v1M579.3 716.6v1M584.3 717.2v1M589.4 717.6v1M594.1 717.6v1M599.0 717.1v1M603.9 717.1v1M609.1 716.5v1M614.1 716.5v1M619.1 716.5v1M624.3 717.1v1M450.2 721.7v1M455.5 722.5v1M460.8 723.3v1M465.8 723.6v1M470.8 723.8v1M475.7 724.2v1M480.7 724.4v1M486.0 724.1v1M491.2 722.6v1M496.9 722.0v1M502.4 722.0v1M507.7 722.1v1M512.8 722.7v1M517.5 723.1v1M522.6 723.1v1M527.5 723.1v1M532.2 723.1v1M536.7 723.1v1M541.9 722.9v1M547.0 722.6v1M552.6 723.1v1M558.2 723.2v1M563.9 723.6v1M569.1 723.6v1M574.3 723.6v1M579.4 723.6v1M584.4 723.5v1M589.3 723.0v1M594.0 722.5v1M598.9 722.5v1M603.9 722.5v1M609.0 723.0v1M614.1 722.5v1M619.4 723.1v1M624.7 723.6v1M450.7 727.9v1M456.2 729.0v1M461.2 729.8v1M466.0 730.4v1M471.0 730.7v1M475.7 730.7v1M480.9 730.7v1M485.3 730.7v1M490.8 730.7v1M496.6 730.1v1M502.4 729.0v1M507.9 729.0v1M513.1 729.0v1M517.7 729.2v1M522.5 729.4v1M527.4 729.0v1M532.2 729.0v1M536.8 729.2v1M541.8 729.6v1M547.1 729.6v1M552.7 729.7v1M558.5 730.2v1M563.9 730.7v1M569.1 730.7v1M574.3 730.7v1M579.2 730.5v1M584.1 729.5v1M589.0 729.0v1M593.8 728.5v1M598.9 728.5v1M604.0 728.5v1M609.0 728.5v1M614.2 729.0v1M619.7 729.6v1M625.2 730.1v1M451.2 735.0v1M456.9 735.5v1M461.4 736.1v1M466.3 736.3v1M471.1 736.9v1M475.7 737.2v1M480.8 737.0v1M485.4 736.9v1M490.7 737.0v1M496.0 736.8v1M502.1 736.8v1M507.9 736.1v1M513.0 735.9v1M517.8 735.4v1M522.3 735.0v1M527.4 735.0v1M532.2 735.0v1M537.1 735.1v1M542.0 735.8v1M547.3 736.8v1M553.0 737.3v1M558.6 737.7v1M564.0 737.2v1M569.1 737.1v1M574.1 736.5v1M578.9 735.5v1M583.8 735.5v1M588.7 735.0v1M593.7 735.0v1M598.9 735.0v1M604.0 735.0v1M609.2 735.0v1M614.6 735.6v1M620.0 736.1v1M625.5 736.7v1M451.2 743.2v1M457.3 743.2v1M461.4 743.2v1M466.4 742.9v1M471.3 742.6v1M475.9 742.8v1M480.6 743.4v1M485.5 743.5v1M490.6 743.4v1M496.1 743.5v1M501.7 743.2v1M507.7 743.0v1M512.6 742.4v1M517.5 742.1v1M522.3 742.1v1M527.4 742.1v1M532.3 742.2v1M537.2 742.5v1M542.6 742.3v1M547.8 743.4v1M553.3 744.3v1M558.5 744.3v1M563.7 744.1v1M568.7 743.0v1M573.5 742.0v1M578.6 741.4v1M583.6 741.0v1M588.5 740.9v1M593.6 740.4v1M598.9 739.9v1M604.2 740.5v1M609.5 741.5v1M614.9 742.1v1M620.3 742.6v1M625.6 742.6v1M451.0 749.4v1M457.3 749.1v1M461.4 749.1v1M466.2 749.1v1M471.3 749.1v1M476.1 749.1v1M480.9 749.1v1M485.4 749.4v1M490.8 749.7v1M496.0 749.9v1M501.6 750.1v1M507.4 749.5v1M512.3 749.0v1M517.5 748.6v1M522.3 748.6v1M527.4 748.6v1M532.4 748.4v1M537.2 748.3v1M543.1 749.3v1M548.3 749.7v1M553.4 749.7v1M558.5 749.7v1M563.4 749.7v1M568.2 749.7v1M573.1 749.6v1M578.2 749.1v1M583.4 748.5v1M588.4 748.1v1M593.4 748.6v1M598.9 748.6v1M604.6 748.6v1M609.9 748.6v1M615.2 749.1v1M620.4 749.1v1M625.5 748.6v1M450.8 756.7v1M457.0 756.0v1M461.4 755.1v1M466.2 755.1v1M471.3 755.1v1M476.1 755.1v1M480.9 755.1v1M485.8 755.3v1M490.9 755.9v1M496.3 756.2v1M501.5 756.4v1M507.1 756.6v1M512.0 756.2v1M517.3 755.9v1M522.2 755.0v1M527.4 754.6v1M532.3 754.7v1M537.7 755.2v1M543.4 755.7v1M548.3 755.7v1M553.5 755.8v1M558.5 756.1v1M563.4 755.7v1M568.2 755.7v1M573.0 755.7v1M578.0 755.7v1M583.1 755.6v1M588.4 755.1v1M593.6 755.2v1M599.0 755.7v1M604.6 756.2v1M610.0 756.2v1M615.3 756.2v1M620.2 755.7v1M625.3 755.6v1M450.6 763.3v1M456.2 762.5v1M461.3 761.9v1M466.1 761.4v1M471.3 761.1v1M476.1 761.1v1M481.0 761.3v1M486.0 761.6v1M491.1 761.7v1M496.5 762.1v1M501.7 762.7v1M506.9 762.8v1M511.9 762.6v1M516.8 762.2v1M521.9 762.1v1M527.3 762.0v1M532.5 761.6v1M537.9 761.6v1M543.4 761.7v1M548.4 761.8v1M553.6 762.1v1M558.4 761.8v1M563.3 762.1v1M568.2 761.7v1M573.0 761.7v1M578.0 761.7v1M583.0 761.7v1M588.4 762.2v1M593.9 762.8v1M599.4 763.8v1M604.7 764.3v1M609.9 764.3v1M615.0 763.2v1M619.9 762.7v1M625.1 761.7v1M374.0 770.4v1M378.2 771.2v1M383.2 770.3v1M388.8 769.8v1M394.6 769.5v1M400.2 768.9v1M405.9 768.1v1M410.4 767.3v1M415.7 766.9v1M420.3 766.9v1M425.0 767.4v1M429.5 768.4v1M434.6 769.3v1M439.6 769.7v1M444.7 769.8v1M449.9 769.7v1M456.0 769.2v1M461.0 767.9v1M465.8 766.9v1M471.3 766.1v1M476.1 765.2v1M481.2 765.2v1M486.1 765.9v1M491.2 767.6v1M497.2 768.7v1M501.9 769.1v1M506.9 769.6v1M511.5 769.6v1M516.6 769.5v1M521.7 769.5v1M526.8 769.5v1M532.4 769.5v1M538.0 769.3v1M543.8 768.6v1M549.0 768.5v1M553.7 767.8v1M558.7 767.6v1M563.0 767.0v1M567.9 766.9v1M572.7 767.1v1M577.6 767.8v1M582.9 768.0v1M588.8 769.7v1M594.6 771.3v1M600.2 771.5v1M605.2 771.5v1M609.7 771.5v1M614.5 771.4v1M619.3 770.5v1M624.4 769.5v1M629.5 767.7v1M634.4 766.8v1M639.7 766.0v1M645.0 766.7v1M650.3 767.6v1M655.9 768.5v1M661.2 770.2v1M666.6 770.5v1M672.1 769.8v1M677.0 769.0v1M682.0 768.8v1M687.3 768.1v1M691.9 767.2v1M696.5 767.1v1M701.6 767.0v1M707.4 767.1v1M374.5 773.8v1M377.5 773.1v1M383.2 773.8v1M388.5 774.2v1M394.6 774.5v1M399.9 775.0v1M405.6 775.7v1M410.1 776.4v1M415.7 776.7v1M420.3 776.7v1M425.2 776.3v1M429.8 775.6v1M434.9 774.8v1M439.6 774.5v1M444.7 774.5v1M449.9 774.5v1M455.7 774.8v1M460.4 775.9v1M465.8 776.7v1M470.7 777.3v1M476.1 778.1v1M481.2 778.1v1M486.7 777.6v1M491.8 776.1v1M497.2 775.2v1M502.2 775.0v1M506.9 774.5v1M511.5 774.5v1M516.6 774.5v1M521.7 774.5v1M526.8 774.5v1M532.4 774.5v1M537.8 774.7v1M543.7 775.2v1M548.7 775.4v1M553.7 775.9v1M558.4 776.1v1M562.9 776.7v1M567.9 776.7v1M572.9 776.6v1M577.7 775.9v1M583.2 775.8v1M589.4 774.3v1M594.8 773.0v1M600.2 773.0v1M605.2 773.0v1M609.7 773.0v1M614.4 773.1v1M619.0 773.8v1M623.9 774.5v1M629.0 775.9v1M634.1 776.7v1M639.6 777.4v1M645.2 776.7v1M650.6 776.0v1M656.3 775.3v1M661.6 773.9v1M666.5 773.8v1M671.8 774.4v1M676.9 775.1v1M681.9 775.2v1M687.0 775.8v1M691.7 776.5v1M696.5 776.7v1M701.6 776.7v1M707.4 776.7v1M373.7 781.5v1M378.6 781.4v1M383.3 782.0v1M388.9 782.4v1M394.6 782.4v1M400.5 783.0v1M405.9 782.9v1M410.6 782.7v1M415.7 782.8v1M420.3 782.8v1M424.7 782.3v1M429.2 781.4v1M434.3 780.5v1M439.5 779.6v1M444.7 779.2v1M450.1 780.0v1M456.3 781.3v1M461.4 782.2v1M466.0 783.1v1M471.6 783.7v1M476.1 783.8v1M481.1 783.5v1M485.8 782.9v1M490.9 782.7v1M496.9 782.0v1M501.8 780.9v1M506.9 780.8v1M511.6 781.1v1M516.6 781.6v1M521.7 781.6v1M526.9 781.8v1M532.5 782.4v1M538.1 782.4v1M543.8 782.5v1M549.0 782.4v1M553.8 782.0v1M558.7 782.5v1M563.1 782.1v1M567.9 782.8v1M572.6 782.8v1M577.5 782.7v1M582.6 782.5v1M588.4 781.5v1M594.2 780.4v1M600.0 778.9v1M605.1 778.2v1M609.9 778.3v1M614.8 779.8v1M619.6 780.7v1M624.8 782.4v1M629.8 783.4v1M634.6 784.4v1M639.7 784.5v1M644.8 784.4v1M650.1 784.3v1M655.4 782.7v1M660.9 781.6v1M666.6 780.8v1M672.1 780.1v1M677.2 780.1v1M682.2 780.8v1M687.4 781.0v1M692.0 781.2v1M696.6 781.2v1M701.6 781.8v1M707.3 781.3v1M373.5 790.6v1M378.6 790.6v1M383.8 790.7v1M388.9 790.7v1M394.6 790.7v1M400.7 789.8v1M405.4 789.2v1M410.5 788.7v1M415.6 788.0v1M420.1 787.2v1M424.2 786.8v1M428.9 787.1v1M433.5 786.0v1M439.1 785.2v1M444.9 785.9v1M451.0 786.4v1M457.1 787.7v1M461.9 789.1v1M466.4 789.2v1M471.6 789.3v1M476.1 789.3v1M480.6 789.3v1M485.7 788.9v1M490.8 788.1v1M496.0 787.5v1M501.6 787.1v1M507.0 786.8v1M512.0 787.4v1M516.8 788.0v1M521.8 789.3v1M527.3 789.8v1M532.4 789.8v1M538.0 789.0v1M543.8 788.4v1M548.6 788.4v1M554.0 788.1v1M558.5 787.8v1M563.3 788.3v1M568.0 788.4v1M572.6 788.4v1M577.5 788.4v1M582.4 788.5v1M588.0 789.0v1M593.4 788.8v1M599.2 787.7v1M604.9 786.9v1M610.4 786.9v1M615.5 787.2v1M620.4 788.1v1M625.5 788.4v1M630.4 789.3v1M635.0 790.2v1M639.7 791.0v1M644.8 791.0v1M649.7 791.0v1M654.7 790.7v1M660.3 789.9v1M666.0 789.0v1M671.6 787.4v1M677.3 786.5v1M682.5 786.5v1M687.4 786.6v1M692.0 786.6v1M696.7 786.6v1M701.8 786.7v1M707.0 786.6v1M373.6 797.5v1M378.6 797.5v1M383.7 797.0v1M388.9 796.8v1M394.5 796.3v1M399.7 795.8v1M405.3 795.2v1M410.0 794.8v1M415.0 794.2v1M419.7 793.8v1M424.2 793.7v1M429.3 793.8v1M432.1 793.6v1M439.6 793.4v1M445.3 793.6v1M451.1 794.0v1M458.5 794.7v1M461.9 795.0v1M466.4 795.0v1M471.6 795.0v1M476.1 795.0v1M480.6 795.0v1M485.1 794.6v1M490.3 794.0v1M495.9 793.6v1M501.3 793.3v1M507.5 794.0v1M512.2 794.8v1M517.7 795.5v1M522.3 795.8v1M527.4 795.9v1M532.1 796.0v1M537.4 796.0v1M543.6 794.6v1M548.6 794.0v1M553.6 794.0v1M558.8 793.9v1M563.5 794.0v1M568.0 794.0v1M572.7 794.1v1M577.6 794.9v1M582.8 795.6v1M588.1 796.4v1M593.1 795.7v1M598.7 795.5v1M604.7 795.4v1M610.3 795.3v1M615.7 794.6v1M620.7 794.8v1M625.8 795.5v1M630.9 795.7v1M635.5 796.6v1M640.0 796.8v1M644.8 796.8v1M649.7 796.8v1M654.5 796.8v1M659.8 796.6v1M665.3 795.8v1M670.8 795.4v1M676.8 793.9v1M682.4 793.1v1M687.4 792.3v1M692.0 792.2v1M696.8 792.8v1M701.8 792.9v1M706.9 792.9v1M373.7 803.3v1M378.6 803.3v1M383.3 803.7v1M388.8 803.4v1M394.0 803.0v1M399.5 802.0v1M404.8 800.9v1M410.0 800.6v1M414.5 800.5v1M419.6 800.0v1M424.2 799.7v1M429.1 798.9v1M432.4 799.4v1M439.5 800.0v1M445.4 800.0v1M451.6 800.5v1M458.5 800.6v1M461.9 800.6v1M466.5 800.9v1M471.6 801.3v1M476.0 801.0v1M480.5 800.3v1M484.7 800.1v1M490.2 800.1v1M495.5 799.8v1M501.7 800.2v1M508.1 800.7v1M512.8 801.6v1M517.7 802.2v1M522.3 802.2v1M527.4 802.2v1M532.4 802.1v1M536.8 801.8v1M542.9 801.6v1M548.3 800.1v1M553.6 798.9v1M558.8 798.9v1M563.6 799.2v1M568.2 800.6v1M573.1 802.0v1M578.2 802.9v1M583.3 803.7v1M588.1 803.9v1M593.0 804.4v1M598.7 805.1v1M604.5 804.3v1M609.9 802.9v1M615.4 802.0v1M620.9 801.3v1M626.0 801.5v1M631.2 801.5v1M635.8 801.7v1M640.1 802.4v1M644.9 803.1v1M649.7 803.1v1M654.5 803.1v1M659.6 803.1v1M664.9 803.0v1M670.4 802.3v1M675.9 801.3v1M681.8 800.3v1M686.9 799.4v1M692.1 799.3v1M697.1 798.8v1M701.8 798.7v1M706.8 798.7v1M373.5 809.0v1M378.6 809.0v1M383.7 809.1v1M388.3 809.0v1M393.9 808.5v1M398.5 807.5v1M404.3 807.0v1M409.9 806.5v1M414.5 806.2v1M419.2 806.5v1M424.2 806.7v1M428.3 806.8v1M434.0 807.6v1M439.1 808.5v1M445.9 808.9v1M451.6 809.0v1M458.3 808.3v1M461.9 807.6v1M466.9 807.4v1M471.5 806.8v1M475.5 806.3v1M480.2 806.4v1M485.1 806.5v1M489.8 806.4v1M495.9 806.5v1M501.9 806.7v1M508.5 807.7v1M513.3 808.1v1M517.9 808.9v1M522.4 809.4v1M527.4 809.4v1M532.0 809.4v1M537.0 809.1v1M542.0 808.3v1M547.2 806.7v1M553.3 805.6v1M558.8 805.2v1M564.3 805.8v1M569.3 806.4v1M573.9 807.6v1M578.8 809.0v1M583.5 809.3v1M588.4 809.9v1M593.5 810.1v1M598.6 810.3v1M603.8 810.1v1M609.2 809.6v1M614.8 808.7v1M620.5 807.8v1M626.0 807.1v1M631.2 807.1v1M636.0 807.1v1M640.6 807.3v1M645.2 807.6v1M649.8 808.2v1M654.5 808.3v1M659.7 808.9v1M664.7 809.0v1M669.9 808.8v1M675.4 809.1v1M681.2 808.4v1M686.5 807.5v1M691.9 806.8v1M696.6 805.9v1M701.8 805.8v1M707.0 805.8v1M373.5 814.6v1M378.6 814.6v1M383.7 814.6v1M388.3 814.6v1M393.3 814.0v1M398.0 813.5v1M404.3 813.4v1M409.4 813.3v1M414.5 813.2v1M419.8 813.7v1M424.3 814.5v1M428.9 815.6v1M434.6 816.8v1M439.7 817.7v1M445.8 817.9v1M451.5 816.9v1M457.2 815.3v1M461.8 814.0v1M466.3 813.3v1M471.0 812.6v1M475.5 812.5v1M480.6 812.6v1M484.6 812.7v1M490.3 812.6v1M495.7 813.4v1M502.8 814.7v1M508.6 815.0v1M513.8 815.1v1M518.3 815.1v1M522.5 815.0v1M527.4 815.5v1M532.0 815.5v1M536.5 815.3v1M541.1 814.5v1M546.6 814.0v1M552.7 813.7v1M559.0 812.8v1M564.5 812.5v1M569.6 812.5v1M574.7 812.8v1M579.2 813.4v1M583.9 814.7v1M588.7 815.6v1M593.5 816.2v1M598.6 816.2v1M603.8 816.2v1M608.9 816.1v1M614.3 815.2v1M620.0 814.3v1M625.7 813.4v1M631.1 812.8v1M636.0 812.1v1M640.6 812.1v1M645.4 812.1v1M650.1 812.3v1M654.8 813.6v1M660.1 814.5v1M664.8 815.2v1M670.1 815.8v1M675.6 816.1v1M680.7 816.0v1M686.0 815.7v1M691.4 815.5v1M696.2 815.2v1M701.8 815.2v1M707.1 815.2v1M373.5 819.6v1M378.6 819.6v1M383.7 819.6v1M388.3 819.6v1M392.9 819.4v1M398.1 819.7v1M404.2 819.5v1M409.5 819.7v1M414.6 820.3v1M420.3 820.7v1M424.9 821.4v1M430.0 822.4v1M435.1 823.5v1M440.2 824.0v1M445.3 824.0v1M450.4 823.3v1M456.0 821.8v1M461.2 820.4v1M465.8 819.8v1M470.9 819.4v1M475.5 819.0v1M480.6 818.8v1M484.8 819.1v1M490.5 820.8v1M497.1 821.9v1M502.9 822.4v1M508.5 822.2v1M513.7 821.6v1M517.8 821.1v1M522.9 820.9v1M527.5 821.1v1M532.0 821.1v1M536.1 821.1v1M541.1 821.0v1M546.6 821.4v1M552.3 820.8v1M558.4 820.4v1M564.3 819.7v1M569.6 819.7v1M574.7 819.7v1M579.9 819.7v1M584.7 820.3v1M589.2 821.2v1M593.8 822.1v1M598.6 822.1v1M603.7 822.0v1M608.6 821.4v1M613.8 821.8v1M619.4 820.8v1M625.1 819.9v1M630.5 818.4v1M635.7 817.5v1M640.6 817.5v1M645.5 818.1v1M650.6 818.7v1M655.7 819.8v1M660.6 820.2v1M665.4 821.0v1M670.5 821.9v1M675.6 822.6v1M680.7 822.7v1M686.0 822.7v1M691.4 822.7v1M696.3 823.2v1M701.8 823.3v1M707.1 823.3v1M373.5 826.2v1M378.6 826.2v1M383.7 825.7v1M388.3 825.5v1M392.9 825.9v1M398.6 826.3v1M403.7 826.3v1M410.0 826.3v1M415.2 827.0v1M420.3 827.7v1M425.4 828.5v1M430.6 829.4v1M435.6 830.0v1M440.2 830.1v1M445.3 829.8v1M449.9 829.4v1M454.9 828.6v1M460.6 827.6v1M465.8 826.8v1M470.4 826.3v1M475.6 826.4v1M480.1 826.9v1M486.4 827.4v1M491.6 828.5v1M497.2 829.2v1M502.8 829.0v1M508.0 828.3v1M513.1 827.4v1M517.8 826.8v1M522.8 826.6v1M527.5 826.1v1M532.1 826.3v1M536.2 826.9v1M541.6 827.6v1M546.4 828.4v1M552.2 828.6v1M558.0 828.6v1M564.1 828.2v1M569.5 827.6v1M574.7 827.1v1M579.8 827.0v1M584.9 826.4v1M589.7 826.2v1M594.0 826.5v1M598.7 827.1v1M603.5 827.1v1M608.7 827.4v1M613.7 827.7v1M618.8 827.4v1M624.2 826.5v1M629.6 825.3v1M635.3 824.3v1M640.8 823.7v1M646.0 824.0v1M651.2 824.9v1M656.1 825.8v1M660.8 826.4v1M666.0 827.3v1M671.1 828.2v1M676.0 828.6v1M680.8 829.1v1M686.0 829.7v1M691.5 829.3v1M696.7 829.5v1M701.8 829.5v1M707.0 829.5v1M373.7 831.8v1M378.6 831.5v1M383.2 832.0v1M388.4 832.4v1M393.4 832.9v1M398.6 833.0v1M403.8 833.3v1M410.0 833.6v1M415.7 833.8v1M420.9 834.4v1M426.0 835.0v1M431.1 835.3v1M435.6 835.5v1M440.2 835.5v1M444.7 835.3v1M449.8 834.9v1M454.5 834.7v1M460.1 834.4v1M465.3 833.8v1M470.4 833.6v1M476.1 833.7v1M480.8 834.5v1M486.4 835.6v1M492.1 836.1v1M497.2 836.3v1M502.3 836.0v1M507.4 835.1v1M512.5 834.2v1M517.7 833.4v1M522.3 832.9v1M527.4 832.7v1M532.5 832.6v1M536.8 832.8v1M542.1 834.1v1M547.0 835.1v1M552.4 836.3v1M558.0 836.2v1M563.6 835.5v1M569.0 834.1v1M574.5 833.1v1M579.4 832.1v1M584.4 831.8v1M589.5 831.5v1M594.3 831.5v1M598.9 832.4v1M603.8 833.0v1M608.9 833.9v1M613.7 833.9v1M618.6 833.9v1M623.7 833.6v1M629.1 833.3v1M634.8 832.9v1M640.5 832.0v1M646.2 832.0v1M651.7 831.8v1M656.6 832.0v1M661.4 832.9v1M666.5 833.8v1M671.4 834.2v1M676.2 834.7v1M681.3 835.1v1M686.3 835.4v1M691.2 835.7v1M696.7 835.7v1M701.8 835.7v1M707.0 835.7v1M373.0 839.4v1M379.4 838.9v1M383.8 840.0v1M388.9 840.5v1M393.4 840.6v1M398.6 841.0v1M404.2 841.1v1M410.0 841.0v1M415.7 841.0v1M421.4 840.9v1M426.0 840.8v1M431.1 840.5v1M435.7 840.5v1M440.2 840.8v1M444.7 840.5v1M449.3 840.0v1M455.0 840.0v1M459.5 840.0v1M465.3 839.9v1M470.4 840.1v1M476.1 840.7v1M481.9 841.5v1M486.9 842.4v1M492.1 842.6v1M497.2 842.4v1M501.8 841.9v1M506.8 841.4v1M512.0 840.5v1M517.1 839.6v1M522.2 838.8v1M527.4 838.4v1M532.1 838.6v1M537.6 839.5v1M542.8 840.6v1M548.0 841.6v1M552.6 842.7v1M557.6 843.1v1M562.7 842.7v1M568.2 841.9v1M573.5 840.5v1M579.0 839.2v1M584.4 838.2v1M589.5 838.2v1M594.7 838.3v1M599.5 838.6v1M604.4 839.6v1M609.2 840.4v1M613.7 841.0v1M618.6 841.0v1M623.7 841.6v1M629.1 842.1v1M634.5 841.6v1M640.2 841.2v1M645.9 840.7v1M651.3 839.8v1M656.8 839.7v1M661.9 840.0v1M666.8 839.9v1M671.6 839.9v1M676.6 840.2v1M681.3 840.2v1M686.4 840.2v1M691.6 840.5v1M696.7 840.6v1M701.8 840.6v1M707.0 840.6v1M372.4 847.5v1M380.0 847.8v1M384.3 847.7v1M388.9 847.9v1M393.5 848.2v1M399.1 848.3v1M403.7 848.3v1M410.0 848.1v1M415.7 847.5v1M420.8 846.8v1M426.0 846.4v1M430.5 846.2v1M436.2 845.6v1M440.2 845.3v1M444.2 845.4v1M449.3 845.7v1M455.0 845.8v1M459.6 845.7v1M465.3 846.3v1M471.0 847.0v1M476.7 847.9v1M482.4 848.6v1M486.9 848.8v1M492.1 848.8v1M496.6 848.6v1M501.7 848.0v1M506.3 847.0v1M511.4 846.1v1M516.5 845.0v1M521.7 844.1v1M527.3 844.2v1M533.0 844.5v1M538.3 845.8v1M543.4 847.2v1M548.5 848.1v1M553.2 848.9v1M557.8 849.3v1M562.7 849.6v1M567.4 849.0v1M572.8 848.2v1M578.1 846.8v1M583.9 845.5v1M589.5 844.6v1M594.7 844.6v1M599.8 845.1v1M605.0 845.5v1M609.8 846.4v1M614.0 847.3v1M618.9 848.4v1M624.3 849.3v1M629.1 849.7v1M634.3 849.9v1M639.9 849.9v1M645.4 849.0v1M651.0 848.6v1M656.8 847.6v1M661.7 847.0v1M666.5 846.1v1M671.6 846.0v1M676.5 845.6v1M681.3 845.5v1M686.4 845.5v1M691.6 845.5v1M696.7 845.5v1M701.8 845.9v1M706.9 845.6v1M373.2 854.9v1M378.7 855.3v1M384.3 854.9v1M388.9 854.9v1M394.0 855.2v1M398.6 855.4v1M404.3 855.3v1M409.4 854.7v1M415.1 853.8v1M420.2 852.9v1M425.9 852.3v1M430.5 852.0v1M435.1 851.6v1M440.2 851.2v1M444.7 851.4v1M449.8 851.6v1M454.4 851.6v1M460.1 851.8v1M465.9 852.7v1M471.6 853.6v1M477.3 854.2v1M482.4 854.8v1M486.9 854.8v1M492.1 854.8v1M496.6 854.6v1M500.6 854.0v1M505.7 853.3v1M510.8 852.8v1M515.4 851.7v1M522.0 850.8v1M527.4 850.8v1M533.5 851.5v1M539.3 852.5v1M544.1 853.7v1M549.1 854.5v1M553.3 854.9v1M558.2 855.3v1M562.5 855.2v1M567.3 855.2v1M572.0 854.7v1M577.3 853.9v1M583.0 853.4v1M589.1 851.7v1M595.0 851.3v1M600.1 851.7v1M605.3 852.7v1M610.3 853.1v1M614.9 853.5v1M619.8 854.8v1M624.6 855.7v1M629.4 856.2v1M634.5 856.6v1M639.7 856.6v1M645.0 856.2v1M650.5 855.7v1M655.9 855.0v1M661.1 853.6v1M666.1 853.1v1M671.4 852.6v1M676.2 852.2v1M681.3 852.1v1M686.4 851.7v1M691.6 851.6v1M696.8 851.6v1M702.1 852.0v1M706.5 851.7v1M373.2 861.8v1M378.7 861.6v1M384.3 861.5v1M388.9 861.7v1M394.0 861.8v1M399.1 861.8v1M403.7 861.5v1M408.8 861.1v1M414.5 860.4v1M419.7 859.5v1M425.4 858.5v1M430.5 857.9v1M435.0 857.4v1M440.2 857.2v1M444.7 857.2v1M449.3 857.4v1M455.0 858.1v1M460.1 858.9v1M467.0 859.5v1M471.6 860.0v1M477.9 860.2v1M482.4 860.4v1M486.9 860.4v1M492.1 860.2v1M496.1 859.9v1M500.6 860.0v1M505.7 860.0v1M510.3 859.7v1M514.9 859.1v1M521.5 859.0v1M527.8 858.8v1M534.1 859.2v1M539.9 859.7v1M544.7 860.1v1M549.2 860.4v1M553.8 860.5v1M557.9 860.8v1M562.7 860.9v1M567.0 860.8v1M571.8 860.9v1M577.3 860.9v1M582.3 860.9v1M588.3 860.4v1M594.8 859.6v1M600.7 859.2v1M605.8 860.0v1M610.3 860.0v1M615.2 860.0v1M620.3 860.9v1M625.2 861.3v1M629.7 861.8v1M634.6 862.2v1M639.7 862.2v1M644.8 862.2v1M650.2 861.9v1M655.4 861.4v1M660.4 860.6v1M665.9 860.0v1M671.0 859.2v1M676.2 858.6v1M681.1 858.2v1M686.0 858.1v1M691.6 857.7v1M696.8 857.6v1M702.1 857.2v1M706.5 857.6v1M373.1 867.4v1M379.3 867.4v1M383.8 867.4v1M389.4 867.4v1M394.0 867.4v1M398.6 867.4v1M403.7 867.4v1M408.8 867.1v1M414.0 866.7v1M419.1 866.2v1M424.8 865.3v1M429.9 864.4v1M434.5 864.0v1M440.2 863.8v1M444.7 864.2v1M450.4 865.1v1M455.6 866.0v1M460.7 866.9v1M467.0 867.2v1M471.6 867.0v1M477.8 866.8v1M482.4 866.3v1M486.9 866.0v1M491.5 865.9v1M496.6 865.6v1M500.7 865.7v1M505.7 866.2v1M509.8 866.5v1M515.3 866.8v1M521.5 867.6v1M527.8 867.9v1M534.1 867.8v1M539.9 867.2v1M544.7 866.4v1M549.2 866.0v1M553.8 866.0v1M558.3 866.1v1M562.5 866.5v1M567.3 866.6v1M572.0 867.0v1M577.3 867.4v1M582.7 867.5v1M588.2 868.3v1M594.2 868.3v1M600.5 867.4v1M605.8 866.5v1M610.3 866.5v1M615.5 867.0v1M620.6 867.0v1M625.2 867.0v1M630.0 867.4v1M634.9 867.9v1M639.7 868.3v1M644.8 867.9v1M649.9 867.9v1M655.1 867.0v1M660.2 867.0v1M665.3 866.6v1M670.5 866.1v1M675.6 865.7v1M680.9 865.2v1M686.3 865.1v1M691.1 865.1v1M696.7 864.8v1M701.8 864.3v1M707.0 864.6v1M373.2 872.6v1M378.7 872.8v1M384.3 872.6v1M388.9 872.6v1M394.0 872.6v1M399.1 872.9v1M403.7 873.3v1M408.2 873.5v1M414.0 873.2v1M419.1 873.0v1M423.6 872.7v1M429.9 872.3v1M434.5 872.3v1M440.2 872.7v1M445.9 873.4v1M450.4 874.1v1M456.2 874.4v1M461.3 874.6v1M466.4 874.5v1M471.6 873.8v1M477.3 872.9v1M481.8 871.9v1M486.9 871.5v1M491.5 871.2v1M496.1 871.2v1M501.2 871.3v1M506.3 872.0v1M510.4 873.1v1M515.9 874.8v1M522.1 875.9v1M527.9 876.1v1M533.6 875.4v1M538.8 874.0v1M544.0 872.5v1M549.1 871.9v1M553.8 871.2v1M558.3 871.2v1M562.9 871.3v1M567.4 871.8v1M572.4 872.7v1M577.5 873.6v1M583.0 874.5v1M588.7 875.4v1M594.1 875.7v1M599.6 874.8v1M605.3 873.4v1M610.6 872.6v1M615.5 872.6v1M620.3 872.1v1M625.5 872.1v1M630.3 872.6v1M635.1 872.6v1M639.7 873.1v1M644.5 873.5v1M649.7 873.5v1M654.7 873.5v1M660.2 873.1v1M665.3 873.0v1M670.5 873.0v1M675.6 873.4v1M680.7 873.8v1M686.0 873.9v1M691.4 873.9v1M696.3 873.9v1M701.8 873.5v1M707.1 873.8v1M373.5 878.2v1M378.6 878.2v1M383.8 877.9v1M389.4 878.0v1M394.0 878.2v1M399.1 878.5v1M404.3 878.9v1M408.8 879.7v1M413.4 880.0v1M419.1 880.0v1M424.2 880.2v1M429.4 880.4v1M435.0 880.6v1M440.8 881.1v1M445.9 881.4v1M451.0 881.8v1M455.6 882.1v1M461.3 881.6v1M465.9 881.2v1M471.0 880.5v1M476.1 879.4v1M481.8 878.2v1M486.4 877.3v1M491.5 876.8v1M496.6 877.1v1M501.2 878.0v1M506.8 878.8v1M512.0 880.1v1M517.1 881.8v1M522.3 882.8v1M527.4 882.7v1M532.6 881.9v1M537.7 880.5v1M543.7 879.2v1M548.2 877.9v1M553.5 876.7v1M558.3 876.4v1M562.9 876.5v1M568.2 877.4v1M573.1 878.8v1M578.5 880.1v1M583.8 881.4v1M589.0 881.9v1M593.7 881.8v1M599.0 881.3v1M604.4 880.4v1M609.8 879.0v1M615.2 877.7v1M620.3 877.3v1M625.5 877.3v1M630.3 877.3v1M635.1 877.7v1M640.2 877.7v1M645.1 878.7v1M649.9 878.7v1M654.8 879.6v1M659.8 879.5v1M665.3 879.5v1M670.6 880.3v1M676.2 880.8v1M681.3 881.7v1M686.3 882.2v1M691.1 881.9v1M696.5 882.2v1M701.6 881.9v1M707.4 882.2v1M373.5 883.8v1M378.6 883.8v1M383.8 883.6v1M389.4 883.4v1M394.0 883.9v1M399.7 884.6v1M404.3 885.0v1M409.4 885.7v1M413.9 886.6v1M419.1 887.0v1M424.2 887.2v1M429.9 887.4v1M435.1 887.7v1M440.8 888.1v1M445.9 888.3v1M451.6 888.4v1M455.6 888.4v1M460.7 888.2v1M465.8 887.7v1M470.4 887.1v1M475.5 886.2v1M480.7 885.1v1M485.8 884.0v1M491.5 883.7v1M497.2 883.9v1M502.3 884.9v1M507.4 886.4v1M512.6 887.3v1M517.7 888.1v1M522.3 888.5v1M527.4 888.7v1M532.1 888.3v1M537.1 887.7v1M542.3 886.4v1M547.4 884.4v1M552.9 883.5v1M558.2 882.8v1M563.7 883.0v1M569.0 884.0v1M574.1 885.3v1M579.2 886.7v1M584.0 887.6v1M589.0 887.9v1M593.7 887.9v1M598.7 887.8v1M603.8 886.9v1M608.9 886.0v1M614.4 884.2v1M620.1 883.7v1M625.5 883.3v1M630.6 882.9v1M635.4 883.8v1M640.3 883.8v1M645.1 883.8v1M650.2 884.2v1M655.4 884.7v1M660.2 885.6v1M665.7 886.0v1M671.4 887.3v1M676.3 887.8v1M681.7 888.3v1M686.3 888.4v1M691.1 888.7v1M696.5 888.8v1M701.6 888.8v1M707.4 888.8v1M373.8 890.2v1M378.6 890.2v1M383.3 889.8v1M389.5 889.6v1M395.1 890.3v1M399.7 891.0v1M404.8 891.7v1M410.0 892.4v1M414.5 892.9v1M419.1 893.3v1M424.8 893.8v1M429.4 894.0v1M435.6 894.2v1M441.3 894.5v1M445.9 894.6v1M451.1 894.3v1M455.6 894.1v1M460.7 894.1v1M465.3 893.8v1M469.8 893.1v1M475.0 892.3v1M480.1 891.7v1M485.8 891.1v1M491.5 891.1v1M497.2 891.2v1M503.4 891.9v1M508.1 892.8v1M513.1 893.4v1M517.8 894.1v1M522.8 894.2v1M527.0 894.5v1M532.0 894.1v1M536.6 893.8v1M541.2 892.9v1M546.7 891.8v1M552.4 890.9v1M558.0 890.1v1M563.7 889.9v1M569.8 890.4v1M574.9 891.8v1M579.8 892.7v1M584.6 893.6v1M589.2 894.1v1M593.7 894.1v1M598.3 894.0v1M603.2 893.1v1M608.0 892.5v1M613.8 891.4v1M619.8 890.4v1M624.9 889.8v1M630.6 889.3v1M635.7 889.4v1M640.3 890.2v1M645.4 890.5v1M650.5 891.1v1M655.6 891.1v1M660.7 891.6v1M666.3 892.5v1M672.0 893.1v1M676.7 893.6v1M681.7 893.7v1M686.4 894.0v1M691.5 894.5v1M696.5 894.6v1M701.6 894.6v1M707.4 894.6v1M373.8 897.9v1M378.6 897.9v1M383.3 897.9v1M389.5 897.9v1M395.2 897.9v1M400.3 898.3v1M405.4 898.9v1M410.0 899.1v1M414.5 899.1v1M419.6 899.4v1M424.8 899.7v1M429.9 900.0v1M435.6 900.1v1M440.8 899.6v1M445.9 899.5v1M451.0 899.7v1M455.6 899.7v1M460.7 899.7v1M465.3 899.5v1M469.3 899.2v1M474.9 899.1v1M479.5 898.9v1M485.8 898.5v1M491.5 898.5v1M497.7 898.7v1M503.5 899.1v1M508.1 899.2v1M513.7 899.5v1M517.9 899.7v1M522.9 899.7v1M527.0 899.7v1M531.9 899.7v1M536.2 899.5v1M541.0 899.1v1M546.2 899.0v1M551.8 898.4v1M557.5 897.9v1M564.0 897.7v1M570.4 898.0v1M575.5 898.6v1M580.4 899.1v1M584.8 899.4v1M589.2 899.7v1M593.7 899.7v1M598.0 899.3v1M603.0 899.1v1M608.0 899.1v1M612.9 899.1v1M619.0 897.7v1M624.9 897.4v1M630.3 897.7v1M636.0 897.1v1M641.1 897.9v1M645.7 898.5v1M650.5 898.5v1M655.6 898.5v1M661.0 898.5v1M666.7 899.0v1M672.0 898.8v1M676.8 899.1v1M681.9 899.1v1M686.8 899.6v1M691.6 899.7v1M696.5 899.7v1M701.6 899.7v1M707.4 899.7v1M373.8 906.2v1M378.6 906.2v1M383.3 906.5v1M389.5 906.6v1M395.2 906.4v1M400.3 906.1v1M405.4 905.7v1M410.0 905.6v1M414.5 905.6v1M419.7 905.6v1M424.8 905.4v1M429.9 905.3v1M435.1 905.0v1M440.8 904.7v1M446.4 904.8v1M451.0 905.0v1M455.6 905.1v1M460.7 905.3v1M464.7 905.2v1M469.7 905.3v1M474.9 905.8v1M479.5 906.1v1M485.8 906.2v1M491.5 906.2v1M497.7 906.1v1M503.5 905.8v1M508.6 905.7v1M513.3 905.6v1M517.8 905.0v1M522.9 905.0v1M527.0 905.1v1M531.9 905.3v1M536.1 905.4v1M541.0 905.7v1M546.2 906.0v1M551.7 906.3v1M557.8 906.6v1M563.8 906.7v1M570.3 906.1v1M575.5 905.6v1M580.1 905.5v1M585.0 904.7v1M589.4 905.0v1M593.4 905.0v1M598.0 904.8v1M603.2 905.6v1M608.0 905.6v1M613.1 906.0v1M618.9 906.9v1M624.9 906.9v1M630.6 907.5v1M635.7 907.5v1M640.9 906.6v1M645.7 906.3v1M650.5 906.2v1M655.6 906.0v1M661.0 905.9v1M666.5 905.7v1M671.8 904.8v1M677.1 905.2v1M681.9 905.3v1M686.8 905.0v1M691.6 905.0v1M696.5 905.0v1M701.6 905.2v1M707.4 905.0v1M373.5 914.3v1M378.6 914.3v1M383.7 914.7v1M389.5 914.7v1M394.7 914.2v1M399.8 913.4v1M404.9 912.7v1M410.0 912.3v1M414.5 912.1v1M419.7 912.0v1M424.3 911.5v1M429.9 911.1v1M435.1 910.9v1M440.8 910.9v1M446.0 910.6v1M451.0 910.3v1M456.1 910.5v1M460.7 910.6v1M465.2 911.1v1M469.8 911.8v1M475.4 912.4v1M480.0 913.3v1M485.8 914.1v1M491.5 914.3v1M497.2 913.9v1M503.0 912.9v1M508.1 911.8v1M512.7 910.9v1M517.7 910.2v1M522.9 910.0v1M527.4 910.2v1M532.0 910.7v1M536.5 911.2v1M541.6 912.1v1M546.7 913.3v1M552.3 914.4v1M557.6 914.8v1M563.6 914.5v1M569.5 914.0v1M575.2 912.3v1M579.7 911.8v1M584.5 911.1v1M589.2 910.3v1M593.7 910.4v1M598.6 911.3v1M603.4 911.9v1M608.3 912.2v1M613.7 913.4v1M619.7 914.3v1M625.4 915.5v1M630.6 915.5v1M635.5 915.5v1M640.3 914.9v1M645.4 914.3v1M650.3 914.0v1M655.3 913.4v1M660.8 913.1v1M666.0 912.2v1M671.5 911.6v1M677.2 911.0v1M681.7 910.9v1M686.5 910.4v1M691.6 910.3v1M696.7 910.3v1M701.8 910.6v1M707.0 910.4v1M373.5 921.2v1M378.6 921.2v1M383.8 921.2v1M389.0 920.7v1M394.6 920.3v1M399.2 919.8v1M404.9 919.4v1M409.5 918.9v1M414.5 918.5v1M419.2 918.0v1M424.2 917.7v1M429.4 917.4v1M435.1 916.9v1M440.8 916.7v1M445.9 916.6v1M451.0 916.6v1M455.7 916.2v1M460.7 916.0v1M465.8 916.5v1M470.8 917.5v1M475.5 918.6v1M481.1 919.6v1M486.3 920.9v1M491.5 921.4v1M496.7 921.1v1M501.9 920.0v1M507.5 918.5v1M512.1 917.4v1M517.2 916.5v1M522.8 915.8v1M527.5 915.7v1M532.5 916.1v1M537.1 917.1v1M542.5 918.4v1M547.8 919.9v1M552.6 921.3v1M558.0 921.8v1M563.3 921.9v1M568.6 920.9v1M574.1 919.4v1M579.3 917.9v1M584.1 917.4v1M589.0 916.8v1M594.0 916.9v1M598.8 917.5v1M603.7 917.8v1M609.1 918.7v1M614.5 920.3v1M620.0 921.2v1M625.5 921.2v1M630.6 921.2v1M635.4 921.2v1M640.3 921.2v1M645.2 920.9v1M650.0 920.3v1M655.1 920.2v1M660.3 919.4v1M665.6 918.7v1M671.1 918.4v1M676.5 917.3v1M681.7 916.9v1M686.4 916.8v1M691.6 916.8v1M696.6 916.6v1M701.6 916.0v1M707.3 916.5v1M373.5 926.8v1M378.6 926.8v1M383.8 926.8v1M388.9 926.8v1M394.1 926.3v1M399.2 926.1v1M404.4 925.5v1M409.4 925.0v1M414.0 924.5v1M419.1 924.3v1M424.2 924.3v1M429.3 924.3v1M434.6 923.9v1M440.3 923.2v1M445.9 922.8v1M451.0 922.5v1M455.6 922.4v1M461.2 922.7v1M465.8 923.2v1M471.5 923.7v1M476.5 925.0v1M481.7 926.4v1M486.9 927.0v1M491.5 927.5v1M496.1 927.2v1M501.3 926.5v1M506.5 925.6v1M511.5 924.1v1M516.6 923.1v1M522.3 922.2v1M527.8 921.9v1M533.0 922.7v1M538.1 924.0v1M543.3 925.4v1M548.4 926.3v1M553.5 927.3v1M557.9 928.3v1M562.8 927.6v1M567.9 926.9v1M573.5 926.0v1M578.5 925.0v1M583.7 923.5v1M589.0 923.3v1M594.1 923.3v1M599.2 923.4v1M604.3 924.3v1M609.7 925.4v1M615.1 926.1v1M620.3 926.8v1M625.5 926.8v1M630.6 927.0v1M635.4 926.8v1M640.0 926.8v1M644.9 926.1v1M649.9 925.9v1M654.9 925.9v1M659.9 925.2v1M665.4 925.2v1M670.7 924.6v1M676.2 924.1v1M681.4 923.4v1M686.4 923.1v1M691.4 923.1v1M696.2 922.7v1M701.6 922.9v1M707.5 922.7v1M373.5 932.4v1M378.6 932.4v1M383.8 932.6v1M388.9 932.6v1M394.0 932.5v1M399.1 932.4v1M403.8 932.0v1M408.9 931.3v1M414.0 931.0v1M419.1 931.0v1M424.2 931.1v1M429.3 931.3v1M434.5 931.5v1M440.2 931.6v1M445.4 931.2v1M450.5 930.3v1M455.6 929.7v1M461.3 929.6v1M466.3 929.9v1M472.0 930.6v1M477.7 931.6v1M481.8 932.4v1M486.9 932.5v1M491.5 932.7v1M496.1 932.8v1M501.2 932.8v1M505.8 932.3v1M510.5 931.2v1M516.0 929.9v1M522.1 929.2v1M527.9 929.0v1M533.9 929.5v1M538.8 930.8v1M543.9 931.9v1M549.0 932.8v1M553.8 933.3v1M557.9 933.3v1M562.7 933.3v1M567.5 933.2v1M572.9 932.3v1M577.8 931.4v1M583.1 930.5v1M588.8 929.9v1M594.1 929.9v1M599.5 930.1v1M605.1 931.1v1M610.2 932.4v1M615.2 932.4v1M620.3 932.6v1M625.7 932.6v1M630.6 933.1v1M635.2 932.4v1M640.0 932.2v1M644.6 932.2v1M649.6 931.7v1M654.8 931.7v1M659.8 931.7v1M665.3 931.7v1M670.3 931.7v1M675.5 930.7v1M681.2 930.5v1M686.1 930.1v1M691.5 929.8v1M696.6 930.4v1M701.8 931.1v1M707.0 930.6v1M373.3 937.8v1M378.7 937.8v1M384.2 938.3v1M388.9 938.6v1M393.6 938.2v1M399.1 937.9v1M403.7 937.8v1M408.8 937.8v1M414.0 938.0v1M419.1 938.1v1M424.7 938.7v1M429.8 939.6v1M435.0 940.5v1M440.2 941.0v1M444.8 940.6v1M450.0 939.9v1M455.1 939.2v1M461.3 938.6v1M466.4 938.3v1M472.1 938.2v1M477.9 938.1v1M481.8 938.1v1M487.4 938.5v1M492.0 939.2v1M496.1 939.7v1M500.7 939.4v1M505.3 938.8v1M509.8 938.2v1M515.9 937.7v1M521.3 937.2v1M528.2 936.5v1M534.2 936.9v1M539.7 937.3v1M544.5 938.4v1M549.2 939.0v1M553.8 939.0v1M557.9 939.0v1M562.7 938.9v1M567.1 938.7v1M572.3 938.1v1M577.2 937.2v1M582.9 936.6v1M588.7 936.6v1M594.4 936.8v1M600.0 937.5v1M605.5 938.2v1M610.3 938.2v1M615.5 938.2v1M620.6 938.8v1M625.5 938.6v1M630.4 937.7v1M634.9 937.7v1M639.7 937.0v1M644.8 937.1v1M649.9 937.8v1M654.8 937.8v1M659.8 938.2v1M665.3 938.4v1M670.4 938.6v1M675.7 939.2v1M681.3 939.3v1M686.2 939.9v1M691.2 939.6v1M696.7 939.5v1M701.8 939.5v1M707.0 939.5v1M373.2 942.9v1M378.7 942.9v1M384.3 942.9v1M388.9 942.9v1M393.9 943.4v1M398.7 943.2v1M403.7 943.0v1M408.8 943.2v1M414.4 943.7v1M419.6 944.5v1M425.3 945.4v1M430.4 946.2v1M435.5 947.0v1M440.2 947.3v1M444.7 947.3v1M449.9 947.4v1M455.0 947.4v1M460.4 946.6v1M466.0 945.4v1M472.1 944.8v1M477.4 944.4v1M482.3 944.2v1M487.5 944.6v1M492.1 944.5v1M496.1 944.5v1M500.6 944.6v1M505.6 945.0v1M510.2 945.9v1M515.1 946.1v1M521.8 945.6v1M528.0 946.4v1M534.1 945.8v1M539.5 945.4v1M544.6 944.7v1M549.2 944.6v1M553.8 944.5v1M557.9 944.4v1M562.4 944.3v1M567.2 943.9v1M572.0 944.5v1M577.0 944.0v1M582.8 944.2v1M589.0 944.4v1M594.6 945.1v1M600.2 945.1v1M605.5 944.9v1M610.3 944.7v1M615.3 944.6v1M620.1 943.6v1M625.0 942.7v1M630.1 942.0v1M634.9 941.8v1M639.9 941.8v1M645.1 942.5v1M649.9 942.7v1M655.2 943.0v1M660.6 944.4v1M665.8 945.4v1M670.8 946.3v1M675.8 946.6v1M681.3 946.6v1M686.4 946.6v1M691.5 947.2v1M696.7 947.3v1M701.8 947.5v1M707.0 947.4v1M373.2 949.6v1M378.7 949.4v1M384.3 949.5v1M388.9 949.5v1M394.0 949.6v1M398.6 949.6v1M404.2 950.0v1M409.3 950.7v1M414.5 951.1v1M420.1 951.7v1M425.8 952.6v1M430.5 953.0v1M435.6 953.1v1M440.2 953.2v1M444.7 953.3v1M450.3 953.6v1M454.5 953.5v1M460.1 953.0v1M465.4 952.6v1M471.7 951.7v1M477.3 951.1v1M481.9 950.7v1M487.5 950.2v1M491.6 949.8v1M496.5 949.7v1M501.1 950.7v1M506.2 951.5v1M510.4 952.1v1M515.7 952.8v1M521.7 953.8v1M527.8 953.3v1M533.7 953.0v1M539.0 952.0v1M544.1 951.0v1M549.1 950.3v1M553.4 949.9v1M557.8 949.3v1M562.6 949.6v1M567.4 950.2v1M572.3 950.3v1M577.4 951.3v1M583.3 952.3v1M589.3 953.1v1M594.7 953.1v1M599.9 953.0v1M605.1 952.3v1M609.9 951.4v1M614.7 950.4v1M619.6 949.5v1M624.6 948.6v1M629.8 948.5v1M634.6 947.6v1M639.9 947.6v1M645.3 947.7v1M650.6 948.6v1M655.9 950.2v1M661.0 950.5v1M666.4 951.3v1M671.3 952.1v1M676.1 952.9v1M681.3 953.1v1M686.4 953.1v1M691.6 953.1v1M696.8 953.1v1M702.0 953.6v1M706.6 953.2v1M372.7 957.0v1M379.7 956.2v1M383.9 956.4v1M389.3 956.6v1M394.0 956.9v1M398.6 956.9v1M403.8 956.4v1M409.4 956.2v1M415.4 957.2v1M420.3 957.8v1M426.4 958.3v1M431.0 959.0v1M435.6 959.4v1M440.6 959.8v1M445.2 960.6v1M449.6 960.3v1M454.4 959.5v1M459.7 959.1v1M465.3 958.7v1M470.7 957.9v1M476.8 956.5v1M481.8 955.9v1M487.1 955.6v1M491.9 955.4v1M497.1 956.2v1M501.6 957.1v1M506.3 957.7v1M511.2 958.4v1M516.4 959.9v1M522.1 960.8v1M527.5 961.1v1M532.8 960.1v1M538.3 958.6v1M543.5 957.5v1M548.3 956.4v1M553.1 955.0v1M558.1 955.1v1M562.9 955.7v1M567.4 955.9v1M572.7 956.2v1M578.3 957.3v1M584.0 958.9v1M589.5 959.7v1M594.7 959.6v1M599.8 959.6v1M604.7 959.5v1M609.3 958.6v1M614.2 957.8v1M619.0 956.8v1M624.1 956.0v1M629.3 955.0v1M634.3 954.3v1M640.1 954.4v1M645.8 955.2v1M651.2 956.1v1M656.5 956.9v1M661.4 957.8v1M666.8 958.6v1M671.4 958.6v1M676.3 958.7v1M681.6 959.3v1M686.4 959.4v1M691.6 959.3v1M696.7 959.3v1M701.9 958.7v1M706.9 959.2v1M372.9 964.4v1M379.5 964.8v1M383.8 964.4v1M389.0 963.8v1M394.0 963.5v1M398.6 963.5v1M404.1 964.0v1M409.8 964.8v1M415.3 964.6v1M420.7 964.7v1M426.1 964.6v1M431.1 964.2v1M435.6 964.2v1M440.8 964.2v1M445.3 964.2v1M449.7 964.6v1M454.4 965.1v1M459.5 965.1v1M464.8 964.8v1M470.4 964.3v1M475.8 963.6v1M481.8 962.6v1M486.9 962.4v1M492.1 962.4v1M497.2 962.4v1M502.2 962.7v1M506.8 963.6v1M512.3 964.8v1M517.0 966.2v1M522.3 966.9v1M527.4 966.9v1M532.2 966.7v1M537.3 965.6v1M542.5 963.9v1M547.5 962.3v1M552.9 961.6v1M557.9 961.5v1M563.1 960.9v1M568.2 962.0v1M573.7 963.7v1M579.1 965.3v1M584.6 966.2v1M589.4 966.8v1M594.5 966.1v1M599.5 966.0v1M604.2 965.2v1M609.0 964.4v1M613.8 964.3v1M618.6 963.5v1M623.6 963.5v1M628.9 962.0v1M634.7 962.8v1M640.4 963.6v1M646.2 963.7v1M651.6 964.4v1M656.8 964.5v1M661.9 965.1v1M666.7 965.1v1M671.3 964.4v1M676.5 964.9v1M681.4 964.3v1M686.3 964.1v1M691.2 963.5v1M696.8 963.4v1M702.0 964.0v1M706.6 963.5v1M373.4 971.8v1M378.8 972.2v1M383.8 971.8v1M388.9 971.8v1M394.0 971.8v1M398.6 971.7v1M403.9 971.2v1M410.0 970.9v1M415.1 970.8v1M420.4 970.3v1M426.0 969.9v1M431.1 969.8v1M435.6 969.8v1M440.8 969.8v1M445.3 969.8v1M449.9 969.8v1M454.8 970.3v1M459.5 970.8v1M465.1 971.2v1M470.0 971.3v1M475.5 970.9v1M481.0 970.2v1M486.5 968.7v1M492.1 968.2v1M497.6 968.4v1M502.4 969.0v1M507.7 969.6v1M512.6 970.8v1M517.6 971.1v1M522.3 971.7v1M527.4 971.7v1M532.0 971.7v1M536.7 971.5v1M541.8 970.6v1M546.9 969.7v1M552.8 969.0v1M557.7 969.0v1M563.5 969.2v1M568.9 970.1v1M574.4 971.0v1M579.7 971.9v1M584.7 972.5v1M589.5 971.9v1M594.4 972.5v1M599.3 971.7v1M604.0 971.7v1M608.7 971.6v1M613.5 970.9v1M618.6 970.9v1M623.8 970.9v1M629.3 972.7v1M634.8 972.8v1M640.7 972.8v1M646.3 973.5v1M651.4 972.8v1M656.7 972.6v1M661.5 971.8v1M666.4 970.9v1M671.1 970.8v1M676.3 970.0v1M681.2 969.8v1M686.1 969.2v1M691.4 969.7v1M696.7 969.8v1M701.9 969.1v1M706.8 969.7v1M373.5 979.2v1M378.6 979.2v1M383.8 979.2v1M388.9 979.2v1M393.6 978.6v1M398.6 978.3v1M404.1 978.8v1M409.6 978.6v1M414.7 977.7v1M420.3 977.3v1M425.1 976.3v1M430.7 975.0v1M435.6 974.6v1M440.8 974.6v1M445.3 974.5v1M450.3 975.0v1M455.4 975.9v1M460.0 976.8v1M465.3 977.4v1M470.2 977.8v1M475.5 978.3v1M480.2 977.9v1M485.9 977.1v1M491.6 976.1v1M497.7 975.5v1M502.8 975.8v1M508.4 976.7v1M512.7 977.3v1M517.7 977.3v1M522.7 977.6v1M527.5 978.2v1M531.7 978.0v1M536.5 977.3v1M541.3 977.1v1M546.7 976.5v1M552.5 976.3v1M557.9 975.7v1M564.0 976.7v1M569.4 977.5v1M575.0 978.4v1M579.7 979.0v1M584.7 978.4v1M589.4 979.0v1M594.2 978.2v1M599.0 978.1v1M603.8 977.3v1M608.8 977.3v1M613.6 978.2v1M618.8 978.3v1M624.4 979.2v1M629.8 980.1v1M635.0 981.0v1M640.6 981.0v1M646.1 980.2v1M651.0 980.1v1M656.1 978.4v1M661.2 978.2v1M665.9 977.4v1M670.8 976.5v1M676.0 976.4v1M681.0 975.6v1M686.2 976.2v1M691.1 975.6v1M696.4 974.8v1M701.8 974.6v1M707.1 974.6v1M373.5 985.7v1M378.6 985.7v1M383.7 985.7v1M388.5 985.1v1M393.5 984.8v1M399.0 985.3v1M403.9 985.1v1M409.4 984.8v1M414.5 984.8v1M419.4 983.7v1M424.8 982.9v1M430.1 982.4v1M435.2 981.5v1M440.4 980.6v1M445.3 980.2v1M450.9 980.6v1M456.0 981.5v1M460.9 982.9v1M465.7 984.3v1M470.8 985.2v1M475.5 985.7v1M480.1 985.7v1M485.4 985.4v1M491.1 984.5v1M496.9 983.2v1M503.3 982.3v1M508.2 982.6v1M513.4 982.6v1M517.8 983.8v1M522.9 983.8v1M527.1 983.6v1M531.8 983.2v1M536.6 983.9v1M541.2 983.9v1M546.6 983.9v1M552.3 983.9v1M558.6 984.2v1M564.4 985.7v1M569.6 985.7v1M574.9 985.6v1M579.5 984.8v1M584.5 984.7v1M589.0 983.8v1M593.7 982.9v1M598.9 982.1v1M603.9 982.9v1M608.9 982.9v1M614.2 983.0v1M619.5 984.8v1M625.0 985.7v1M630.4 986.6v1M635.3 987.5v1M640.3 987.5v1M645.6 986.7v1M650.5 985.8v1M655.5 984.9v1M660.7 984.0v1M665.4 983.0v1M670.5 982.9v1M675.7 982.2v1M680.8 982.0v1M686.0 981.3v1M691.0 981.1v1M696.2 981.1v1M701.8 981.1v1M707.1 981.1v1M373.5 990.4v1M378.6 990.4v1M383.7 990.4v1M388.7 991.0v1M393.4 991.3v1M398.8 990.7v1M404.1 990.9v1M409.4 991.3v1M414.5 991.3v1M419.1 991.3v1M424.0 990.3v1M429.1 988.5v1M434.7 987.1v1M440.2 986.7v1M445.3 986.7v1M451.4 987.1v1M457.0 988.5v1M461.7 989.9v1M466.2 990.8v1M471.4 991.7v1M475.5 992.2v1M480.5 992.6v1M485.2 993.1v1M490.1 992.5v1M496.2 991.0v1M503.0 990.1v1M508.1 989.5v1M513.3 989.2v1M518.2 988.8v1M522.6 989.2v1M527.3 988.8v1M532.0 989.5v1M536.6 989.5v1M541.5 989.7v1M547.0 990.6v1M552.7 991.5v1M559.0 992.2v1M564.5 992.2v1M569.3 992.1v1M574.3 991.2v1M579.3 990.4v1M584.2 990.3v1M588.4 989.4v1M593.4 988.5v1M598.7 988.5v1M604.1 987.7v1M609.5 988.6v1M614.7 990.4v1M619.9 990.4v1M625.6 991.3v1M630.8 992.2v1M635.4 992.2v1M640.3 992.2v1M645.2 992.2v1M650.0 991.4v1M655.1 991.3v1M660.2 990.5v1M665.1 989.6v1M670.5 989.5v1M675.6 989.5v1M680.7 989.5v1M685.8 989.5v1M691.1 989.5v1M696.5 990.2v1M701.8 990.4v1M707.0 990.4v1M373.7 996.9v1M378.6 996.9v1M383.4 996.3v1M388.5 995.4v1M393.8 995.7v1M399.0 996.6v1M404.3 996.9v1M409.8 997.5v1M414.5 997.8v1M419.1 997.8v1M423.6 997.8v1M428.8 997.8v1M434.1 997.3v1M439.4 996.0v1M445.7 995.5v1M451.2 995.5v1M457.7 995.5v1M462.3 996.4v1M466.8 997.3v1M471.9 998.2v1M475.9 999.1v1M480.3 999.3v1M485.2 998.7v1M490.1 999.1v1M495.3 999.0v1M502.0 997.2v1M508.0 996.0v1M513.2 996.0v1M518.0 995.7v1M522.7 995.3v1M527.5 996.0v1M532.0 996.0v1M536.6 996.0v1M542.2 996.4v1M547.7 998.0v1M553.3 998.9v1M558.9 999.5v1M564.1 998.6v1M569.1 997.8v1M574.2 997.8v1M578.8 997.6v1M583.5 995.9v1M588.1 995.1v1M593.3 995.1v1M598.4 995.0v1M603.9 994.1v1M610.0 994.2v1M615.5 995.1v1M620.6 996.9v1M625.7 997.8v1M630.9 996.9v1M635.7 997.8v1M640.1 997.8v1M644.9 997.0v1M649.9 996.9v1M654.9 996.9v1M659.7 996.1v1M664.9 996.0v1M670.5 996.0v1M675.7 996.0v1M681.1 996.8v1M686.2 997.7v1M691.4 998.6v1M696.7 998.7v1M701.8 998.7v1M707.0 998.7v1M373.8 1001.6v1M378.6 1001.6v1M383.2 1001.6v1M388.3 1001.6v1M394.0 1001.6v1M399.5 1002.2v1M404.7 1003.1v1M410.0 1003.4v1M414.9 1004.0v1M419.5 1004.9v1M423.6 1005.3v1M428.8 1005.3v1M433.5 1004.8v1M439.0 1004.3v1M445.5 1003.9v1M451.4 1003.9v1M457.5 1003.9v1M462.5 1003.4v1M467.4 1003.8v1M471.8 1003.9v1M476.5 1003.8v1M480.1 1004.3v1M485.2 1004.3v1M490.3 1004.3v1M495.3 1004.7v1M501.3 1004.9v1M507.2 1003.7v1M513.1 1002.5v1M517.5 1002.2v1M522.8 1001.6v1M527.5 1001.6v1M532.4 1001.8v1M537.0 1002.7v1M542.6 1003.4v1M548.2 1003.6v1M553.6 1004.3v1M558.8 1004.3v1M563.9 1004.3v1M569.0 1004.3v1M573.6 1004.1v1M578.3 1002.5v1M583.0 1002.4v1M587.9 1001.6v1M592.8 1001.4v1M598.2 999.8v1M604.2 1000.7v1M610.3 1001.6v1M616.0 1001.6v1M621.1 1002.5v1M625.9 1002.5v1M630.9 1003.4v1M635.6 1002.5v1M640.0 1002.5v1M644.8 1002.5v1M649.8 1002.5v1M654.8 1001.7v1M659.8 1002.4v1M665.1 1002.5v1M670.8 1003.3v1M676.2 1004.2v1M681.6 1005.1v1M686.5 1005.3v1M691.8 1006.0v1M696.7 1006.2v1M701.8 1006.2v1M707.0 1006.2v1M373.8 1006.3v1M378.6 1006.3v1M383.2 1006.3v1M388.7 1006.9v1M394.4 1007.8v1M400.1 1008.7v1M405.2 1009.6v1M410.4 1010.5v1M415.1 1010.9v1M419.7 1010.9v1M424.0 1011.4v1M429.1 1012.3v1M433.7 1013.2v1M438.7 1013.1v1M445.0 1012.2v1M451.2 1011.3v1M457.3 1010.9v1M462.1 1010.4v1M467.2 1009.5v1M471.9 1009.4v1M476.3 1009.6v1M480.4 1009.4v1M485.6 1010.3v1M490.3 1010.9v1M495.5 1010.9v1M501.1 1010.9v1M506.8 1010.9v1M512.4 1010.3v1M517.2 1009.0v1M522.8 1009.0v1M527.5 1009.0v1M532.5 1009.0v1M537.5 1009.2v1M543.0 1010.2v1M548.5 1010.9v1M553.6 1010.9v1M558.8 1010.9v1M563.9 1010.9v1M568.8 1010.7v1M573.2 1009.9v1M577.9 1009.8v1M582.7 1009.0v1M587.6 1008.9v1M592.6 1008.2v1M598.5 1009.1v1M604.6 1009.9v1M610.4 1009.9v1M615.9 1009.9v1M621.0 1009.0v1M625.9 1009.0v1M630.7 1008.1v1M635.4 1008.1v1M640.0 1008.1v1M644.8 1008.1v1M649.5 1008.1v1M654.5 1007.3v1M660.3 1007.2v1M665.8 1008.8v1M671.4 1009.8v1M676.7 1010.7v1M682.1 1011.6v1M686.8 1012.5v1M691.8 1012.0v1M697.0 1012.5v1M701.8 1012.7v1M706.8 1012.7v1M373.8 1014.8v1M378.6 1014.8v1M383.2 1014.8v1M388.9 1014.8v1M394.6 1014.8v1M399.9 1014.2v1M406.3 1015.0v1M410.6 1015.6v1M415.5 1016.1v1M420.1 1016.9v1M424.6 1017.8v1M429.3 1018.1v1M433.9 1018.1v1M439.3 1019.0v1M444.3 1019.4v1M450.6 1018.6v1M456.5 1017.4v1M461.9 1016.5v1M466.6 1016.1v1M471.7 1015.3v1M476.1 1014.8v1M481.1 1015.1v1M485.8 1015.6v1M490.7 1015.9v1M495.9 1016.8v1M501.2 1017.3v1M506.8 1017.3v1M512.0 1017.3v1M516.8 1017.0v1M522.4 1016.2v1M527.4 1015.6v1M532.9 1015.8v1M537.7 1016.5v1M543.3 1016.5v1M548.5 1016.5v1M553.6 1016.5v1M558.8 1016.5v1M563.6 1016.3v1M568.2 1015.5v1M573.0 1014.8v1M578.0 1014.9v1M582.5 1015.5v1M587.8 1014.9v1M593.3 1016.5v1M598.9 1017.3v1M604.9 1017.4v1M610.3 1018.1v1M615.6 1017.3v1M620.7 1017.3v1M625.3 1016.5v1M630.2 1015.6v1M635.0 1014.8v1M639.8 1014.0v1M644.6 1013.9v1M649.6 1013.1v1M655.0 1014.6v1M660.8 1015.5v1M666.5 1016.4v1M671.9 1017.2v1M676.9 1017.3v1M682.3 1017.3v1M687.0 1017.3v1M691.9 1018.0v1M696.8 1017.5v1M701.8 1017.3v1M706.9 1017.3v1M373.8 1025.6v1M378.6 1025.6v1M383.2 1025.6v1M388.9 1025.4v1M394.6 1025.1v1M400.2 1025.3v1M405.6 1024.4v1M410.6 1023.5v1M415.2 1023.0v1M419.7 1022.3v1M424.3 1021.4v1M429.3 1020.8v1M433.9 1020.5v1M438.6 1019.7v1M444.7 1019.7v1M451.0 1020.7v1M457.2 1021.9v1M461.9 1022.8v1M466.9 1023.4v1M472.1 1024.2v1M476.1 1024.6v1M480.7 1024.3v1M485.8 1023.6v1M490.4 1023.1v1M495.5 1022.4v1M501.1 1022.0v1M506.8 1022.0v1M512.0 1022.1v1M517.1 1022.8v1M522.7 1023.5v1M527.5 1024.0v1M532.6 1023.8v1M537.7 1023.2v1M543.3 1022.9v1M548.5 1022.7v1M553.6 1022.7v1M558.8 1022.7v1M563.8 1022.8v1M568.5 1023.6v1M573.1 1024.4v1M577.8 1024.4v1M582.6 1024.1v1M587.5 1024.6v1M592.8 1023.5v1M598.8 1022.5v1M604.7 1022.2v1M610.4 1021.5v1M615.7 1022.3v1M620.9 1022.6v1M625.7 1023.3v1M630.5 1024.3v1M635.4 1025.0v1M640.0 1025.7v1M644.8 1025.8v1M649.5 1026.5v1M654.5 1025.4v1M660.5 1024.7v1M666.2 1023.4v1M671.7 1022.4v1M676.9 1022.0v1M682.3 1021.7v1M686.9 1021.4v1M691.7 1021.0v1M697.1 1021.3v1M701.8 1021.4v1M706.8 1021.4v1M451.1 1028.8v1M456.6 1029.0v1M461.7 1029.3v1M466.8 1029.6v1M471.4 1029.6v1M476.4 1029.6v1M480.6 1029.6v1M485.7 1029.2v1M490.8 1028.9v1M495.9 1028.9v1M501.4 1028.8v1M506.9 1029.1v1M512.6 1029.5v1M517.2 1030.1v1M522.6 1030.2v1M527.5 1030.2v1M532.5 1030.2v1M537.4 1029.9v1M542.8 1029.4v1M548.2 1029.1v1M553.4 1028.9v1M558.5 1028.9v1M563.7 1028.9v1M568.8 1029.0v1M573.4 1029.4v1M578.3 1029.7v1M583.2 1030.1v1M588.2 1030.3v1M593.2 1030.6v1M598.6 1030.5v1M604.4 1030.0v1M610.0 1029.8v1M615.5 1029.8v1M620.6 1030.1v1M625.5 1030.1v1M450.9 1036.0v1M456.9 1036.0v1M461.8 1036.1v1M466.6 1035.8v1M471.6 1035.6v1M476.2 1035.5v1M480.5 1035.2v1M485.7 1035.3v1M490.8 1035.3v1M495.6 1035.1v1M501.6 1035.3v1M507.4 1036.0v1M512.7 1036.6v1M517.5 1036.7v1M522.6 1037.1v1M527.5 1037.0v1M532.3 1036.9v1M537.1 1036.5v1M542.7 1036.1v1M548.0 1035.8v1M553.3 1035.3v1M558.5 1035.2v1M563.7 1035.3v1M568.8 1035.5v1M573.9 1035.6v1M578.5 1036.3v1M583.4 1036.6v1M588.4 1037.1v1M593.5 1037.2v1M598.7 1037.9v1M604.1 1037.7v1M609.9 1037.3v1M615.3 1037.1v1M620.5 1036.4v1M625.4 1036.3v1M451.1 1043.6v1M456.7 1043.5v1M461.5 1042.8v1M466.2 1042.3v1M471.4 1041.8v1M475.8 1041.3v1M480.8 1041.1v1M485.7 1041.3v1M490.5 1041.2v1M496.1 1041.5v1M502.3 1042.5v1M507.6 1043.1v1M512.7 1043.1v1M517.8 1043.3v1M522.4 1043.4v1M527.4 1043.2v1M532.2 1043.1v1M537.0 1043.1v1M542.2 1042.9v1M547.6 1042.0v1M553.0 1041.5v1M558.7 1041.1v1M564.0 1041.5v1M568.9 1041.9v1M573.9 1042.0v1M579.0 1042.2v1M583.9 1043.0v1M588.5 1043.5v1M593.6 1043.6v1M598.8 1043.7v1M604.2 1044.2v1M609.7 1044.0v1M614.9 1043.4v1M620.0 1042.5v1M625.4 1042.0v1M450.9 1051.0v1M456.1 1050.2v1M461.1 1049.4v1M465.9 1048.8v1M471.0 1048.3v1M475.7 1048.0v1M480.6 1047.8v1M485.7 1047.6v1M491.0 1048.0v1M496.5 1048.9v1M502.7 1049.4v1M507.6 1049.7v1M513.0 1049.8v1M517.6 1049.8v1M522.6 1049.6v1M527.2 1049.8v1M532.2 1049.6v1M537.0 1049.5v1M541.9 1049.4v1M547.2 1049.0v1M552.7 1048.5v1M558.6 1048.1v1M564.0 1048.0v1M569.1 1048.0v1M574.2 1048.5v1M579.1 1048.9v1M584.1 1049.0v1M588.8 1049.6v1M593.7 1050.1v1M599.0 1050.2v1M604.2 1050.5v1M609.2 1050.0v1M614.5 1049.2v1M619.8 1048.9v1M625.1 1048.4v1M450.5 1057.4v1M455.6 1056.9v1M460.5 1056.1v1M465.6 1055.4v1M470.7 1054.9v1M475.7 1054.6v1M480.5 1054.6v1M485.9 1054.9v1M491.4 1055.4v1M497.2 1056.1v1M502.5 1056.5v1M507.8 1056.2v1M512.5 1056.2v1M517.5 1055.6v1M522.6 1055.6v1M527.4 1055.6v1M532.0 1055.8v1M537.0 1055.6v1M541.8 1055.6v1M547.1 1055.7v1M552.6 1055.7v1M558.2 1055.6v1M563.9 1054.8v1M569.1 1054.7v1M574.5 1054.6v1M579.3 1054.9v1M584.4 1055.1v1M589.2 1055.4v1M594.0 1056.0v1M599.0 1056.4v1M604.0 1056.0v1M609.1 1056.0v1M614.1 1055.9v1M619.3 1055.0v1M624.8 1054.5v1M450.2 1063.4v1M455.3 1062.9v1M460.1 1062.4v1M465.5 1062.1v1M470.3 1061.9v1M475.7 1061.6v1M480.8 1061.9v1M486.3 1062.5v1M491.8 1063.0v1M497.3 1063.3v1M502.2 1063.0v1M507.6 1062.5v1M512.4 1062.1v1M517.5 1062.1v1M522.4 1061.9v1M527.4 1061.5v1M532.2 1061.7v1M537.0 1062.0v1M542.0 1062.2v1M547.2 1062.7v1M552.8 1062.8v1M558.0 1063.1v1M563.5 1062.6v1M568.9 1062.1v1M574.2 1061.6v1M579.4 1061.1v1M584.3 1061.4v1M589.3 1061.1v1M594.2 1061.5v1M599.2 1061.6v1M604.1 1062.0v1M609.0 1062.0v1M613.9 1061.6v1M619.1 1061.6v1M624.4 1061.2v1M450.1 1069.1v1M455.0 1068.8v1M460.0 1068.6v1M465.2 1068.4v1M470.5 1068.3v1M475.7 1068.7v1M481.4 1069.1v1M486.6 1069.9v1M491.8 1070.2v1M497.0 1070.0v1M502.1 1069.7v1M507.1 1069.3v1M512.3 1068.6v1M517.3 1068.3v1M522.3 1067.9v1M527.4 1067.9v1M532.2 1067.9v1M537.2 1068.1v1M542.4 1068.8v1M547.5 1069.4v1M552.9 1069.8v1M557.9 1069.8v1M563.3 1069.8v1M568.5 1069.2v1M573.9 1068.6v1M579.1 1068.0v1M584.4 1067.6v1M589.2 1067.9v1M594.3 1067.6v1M599.3 1068.0v1M604.1 1068.1v1M609.1 1068.2v1M614.0 1068.6v1M619.0 1068.7v1M624.1 1068.7v1M449.8 1074.7v1M454.9 1074.5v1M460.0 1074.6v1M465.4 1074.8v1M470.6 1075.1v1M476.3 1075.6v1M481.6 1076.2v1M486.7 1076.3v1M491.8 1076.3v1M497.0 1076.2v1M501.9 1076.0v1M506.6 1075.5v1M511.8 1074.8v1M516.9 1073.9v1M522.2 1073.5v1M527.4 1073.4v1M532.5 1073.6v1M537.8 1074.3v1M543.0 1075.4v1M547.9 1076.3v1M553.0 1076.8v1M558.1 1076.9v1M563.1 1077.2v1M568.0 1076.6v1M573.3 1075.6v1M578.7 1074.6v1M584.1 1074.0v1M589.3 1073.6v1M594.4 1074.0v1M599.5 1074.1v1M604.4 1074.6v1M609.2 1075.1v1M614.2 1075.2v1M619.2 1075.7v1M624.3 1075.7v1M450.3 1080.0v1M454.9 1080.5v1M460.3 1080.8v1M465.5 1081.1v1M471.1 1081.6v1M476.7 1082.4v1M481.6 1082.7v1M487.0 1082.9v1M491.6 1083.1v1M496.7 1082.6v1M501.5 1082.0v1M506.5 1081.6v1M511.2 1081.3v1M516.5 1080.4v1M522.0 1079.9v1M527.6 1079.7v1M533.0 1080.3v1M538.3 1081.2v1M543.4 1081.8v1M548.5 1082.4v1M553.2 1083.2v1M558.0 1083.2v1M563.0 1082.8v1M567.8 1082.7v1M572.9 1082.6v1M578.2 1082.0v1M583.7 1081.0v1M589.2 1080.6v1M594.4 1080.6v1M599.6 1080.6v1M604.6 1080.6v1M609.5 1081.2v1M614.5 1081.7v1M619.5 1082.3v1M624.6 1082.8v1M450.2 1086.8v1M455.1 1086.8v1M460.4 1087.1v1M465.7 1087.3v1M471.6 1087.9v1M476.8 1088.2v1M481.8 1088.4v1M487.1 1088.7v1M491.8 1088.9v1M496.4 1089.0v1M501.2 1088.5v1M506.3 1088.0v1M511.0 1087.6v1M516.0 1087.3v1M522.0 1086.7v1M527.7 1087.1v1M533.4 1087.2v1M538.6 1087.8v1M543.7 1088.3v1M548.7 1088.7v1M553.4 1088.8v1M558.0 1089.2v1M562.8 1089.2v1M567.8 1088.7v1M572.7 1088.6v1M577.7 1088.1v1M583.3 1087.6v1M589.1 1087.1v1M594.4 1087.1v1M599.7 1087.2v1M605.0 1087.7v1M609.9 1088.2v1M614.9 1088.7v1M619.8 1089.3v1M624.8 1089.8v1M450.1 1093.1v1M455.2 1093.1v1M460.9 1093.6v1M466.1 1094.4v1M471.7 1094.7v1M477.0 1094.9v1M481.7 1095.0v1M487.1 1094.7v1M491.8 1094.7v1M496.3 1094.7v1M501.1 1094.7v1M506.0 1094.5v1M510.7 1094.0v1M516.2 1093.9v1M521.7 1094.4v1M527.8 1093.8v1M533.5 1094.2v1M538.9 1094.3v1M543.9 1094.7v1M548.7 1094.7v1M553.5 1094.7v1M558.0 1094.7v1M562.9 1094.8v1M567.6 1095.2v1M572.7 1094.8v1M577.7 1095.3v1M583.2 1095.3v1M588.9 1095.2v1M594.3 1094.7v1M599.8 1094.7v1M605.1 1094.7v1M610.0 1094.7v1M615.1 1094.7v1M620.2 1095.2v1M625.1 1095.8v1M450.3 1100.4v1M455.5 1100.9v1M461.1 1101.2v1M466.2 1101.2v1M471.7 1101.2v1M477.2 1101.2v1M481.6 1101.2v1M486.8 1101.0v1M491.6 1100.5v1M496.3 1100.1v1M501.3 1100.3v1M506.1 1100.8v1M510.9 1101.4v1M516.4 1101.8v1M522.0 1102.1v1M527.8 1102.7v1M533.5 1102.3v1M538.6 1102.1v1M543.6 1101.1v1M548.6 1100.7v1M553.5 1100.7v1M558.0 1100.7v1M563.0 1100.7v1M567.8 1100.8v1M573.0 1101.3v1M578.0 1101.8v1M583.3 1102.3v1M588.8 1102.3v1M594.2 1102.3v1M599.5 1101.7v1M604.9 1101.2v1M610.0 1101.2v1M615.0 1101.2v1M620.1 1100.7v1M625.3 1100.7v1M450.7 1109.1v1M455.6 1109.4v1M461.1 1109.4v1M466.0 1109.2v1M471.4 1108.6v1M476.7 1107.8v1M481.6 1107.2v1M486.7 1107.2v1M491.5 1107.2v1M496.3 1107.2v1M501.4 1107.2v1M506.4 1107.4v1M511.4 1108.1v1M516.7 1109.0v1M522.2 1109.4v1M527.7 1109.4v1M533.1 1109.1v1M538.1 1108.2v1M543.3 1107.6v1M548.4 1107.1v1M553.4 1106.6v1M558.0 1106.6v1M563.0 1106.6v1M568.0 1106.7v1M573.3 1107.3v1M578.4 1107.8v1M583.6 1108.4v1M588.9 1108.8v1M594.1 1108.8v1M599.3 1108.8v1M604.5 1108.2v1M609.8 1107.2v1M615.0 1107.2v1M620.1 1107.2v1M625.3 1107.2v1M450.8 1115.9v1M455.6 1115.9v1M460.8 1115.7v1M465.8 1115.4v1M471.1 1115.1v1M476.0 1114.4v1M481.4 1113.5v1M486.5 1112.9v1M491.5 1112.6v1M496.5 1112.8v1M501.6 1113.3v1M507.0 1114.1v1M511.9 1115.0v1M517.0 1115.5v1M522.5 1116.1v1M527.5 1116.3v1M532.7 1115.8v1M537.6 1115.1v1M542.9 1114.1v1M548.0 1113.6v1M553.0 1112.9v1M558.1 1112.2v1M563.2 1112.7v1M568.3 1113.2v1M573.7 1113.8v1M578.8 1114.4v1M583.9 1115.4v1M589.0 1115.4v1M594.1 1115.4v1M599.1 1115.3v1M604.1 1114.8v1M609.4 1114.2v1M614.7 1113.7v1M620.0 1113.2v1M625.2 1113.2v1M450.8 1121.9v1M455.8 1122.1v1M460.7 1122.4v1M465.6 1122.2v1M470.5 1121.4v1M475.7 1120.8v1M480.8 1120.3v1M486.1 1119.5v1M491.5 1119.1v1M496.8 1119.3v1M502.2 1120.1v1M507.4 1121.0v1M512.3 1121.5v1M517.4 1122.1v1M522.6 1122.4v1M527.5 1122.4v1M532.3 1122.3v1M537.2 1121.7v1M542.3 1121.1v1M547.5 1120.0v1M552.7 1119.1v1M557.9 1119.0v1M563.4 1118.7v1M568.8 1119.3v1M574.3 1120.4v1M579.2 1121.3v1M584.1 1121.4v1M589.0 1121.9v1M594.0 1121.8v1M598.9 1121.3v1M603.9 1121.3v1M609.0 1120.7v1M614.3 1119.7v1M619.8 1119.1v1M625.2 1119.1v1" stroke="#484df0" stroke-width="2.4" stroke-linecap="round" fill="none"/>
<ellipse cx="359.5" cy="728.8" rx="16" ry="21" fill="none" stroke="#08b5d0" stroke-width="3" opacity="0.35" filter="url(#blur1)"/>
<path d="M348.5,726.8 A11 14 0 0 0 368.5,736.8" fill="none" stroke="#327cfc" stroke-width="4" opacity="0.6" filter="url(#blur1)"/>
<ellipse cx="359.5" cy="730.8" rx="8" ry="10" fill="#2b91ef" opacity="0.35" filter="url(#blur2)"/>
<ellipse cx="322.4" cy="845.3" rx="16" ry="21" fill="none" stroke="#08b5d0" stroke-width="3" opacity="0.35" filter="url(#blur1)"/>
<path d="M311.4,843.3 A11 14 0 0 0 331.4,853.3" fill="none" stroke="#327cfc" stroke-width="4" opacity="0.6" filter="url(#blur1)"/>
<ellipse cx="322.4" cy="847.3" rx="8" ry="10" fill="#2b91ef" opacity="0.35" filter="url(#blur2)"/>
<ellipse cx="322.4" cy="924.8" rx="16" ry="21" fill="none" stroke="#08b5d0" stroke-width="3" opacity="0.35" filter="url(#blur1)"/>
<path d="M311.4,922.8 A11 14 0 0 0 331.4,932.8" fill="none" stroke="#327cfc" stroke-width="4" opacity="0.6" filter="url(#blur1)"/>
<ellipse cx="322.4" cy="926.8" rx="8" ry="10" fill="#2b91ef" opacity="0.35" filter="url(#blur2)"/>
<ellipse cx="359.4" cy="1056.8" rx="16" ry="21" fill="none" stroke="#08b5d0" stroke-width="3" opacity="0.35" filter="url(#blur1)"/>
<path d="M348.4,1054.8 A11 14 0 0 0 368.4,1064.8" fill="none" stroke="#327cfc" stroke-width="4" opacity="0.6" filter="url(#blur1)"/>
<ellipse cx="359.4" cy="1058.8" rx="8" ry="10" fill="#2b91ef" opacity="0.35" filter="url(#blur2)"/>
<ellipse cx="407" cy="1104.8" rx="16" ry="21" fill="none" stroke="#08b5d0" stroke-width="3" opacity="0.35" filter="url(#blur1)"/>
<path d="M396,1102.8 A11 14 0 0 0 416,1112.8" fill="none" stroke="#327cfc" stroke-width="4" opacity="0.6" filter="url(#blur1)"/>
<ellipse cx="407" cy="1106.8" rx="8" ry="10" fill="#2b91ef" opacity="0.35" filter="url(#blur2)"/>
<ellipse cx="666.5" cy="670.5999999999999" rx="16" ry="21" fill="none" stroke="#08b5d0" stroke-width="3" opacity="0.35" filter="url(#blur1)"/>
<path d="M655.5,668.5999999999999 A11 14 0 0 0 675.5,678.5999999999999" fill="none" stroke="#327cfc" stroke-width="4" opacity="0.6" filter="url(#blur1)"/>
<ellipse cx="666.5" cy="672.5999999999999" rx="8" ry="10" fill="#2b91ef" opacity="0.35" filter="url(#blur2)"/>
<ellipse cx="711.5" cy="723.5" rx="16" ry="21" fill="none" stroke="#08b5d0" stroke-width="3" opacity="0.35" filter="url(#blur1)"/>
<path d="M700.5,721.5 A11 14 0 0 0 720.5,731.5" fill="none" stroke="#327cfc" stroke-width="4" opacity="0.6" filter="url(#blur1)"/>
<ellipse cx="711.5" cy="725.5" rx="8" ry="10" fill="#2b91ef" opacity="0.35" filter="url(#blur2)"/>
<ellipse cx="751" cy="845.3" rx="16" ry="21" fill="none" stroke="#08b5d0" stroke-width="3" opacity="0.35" filter="url(#blur1)"/>
<path d="M740,843.3 A11 14 0 0 0 760,853.3" fill="none" stroke="#327cfc" stroke-width="4" opacity="0.6" filter="url(#blur1)"/>
<ellipse cx="751" cy="847.3" rx="8" ry="10" fill="#2b91ef" opacity="0.35" filter="url(#blur2)"/>
<ellipse cx="751" cy="924.8" rx="16" ry="21" fill="none" stroke="#08b5d0" stroke-width="3" opacity="0.35" filter="url(#blur1)"/>
<path d="M740,922.8 A11 14 0 0 0 760,932.8" fill="none" stroke="#327cfc" stroke-width="4" opacity="0.6" filter="url(#blur1)"/>
<ellipse cx="751" cy="926.8" rx="8" ry="10" fill="#2b91ef" opacity="0.35" filter="url(#blur2)"/>
<ellipse cx="711.5" cy="1051.8" rx="16" ry="21" fill="none" stroke="#08b5d0" stroke-width="3" opacity="0.35" filter="url(#blur1)"/>
<path d="M700.5,1049.8 A11 14 0 0 0 720.5,1059.8" fill="none" stroke="#327cfc" stroke-width="4" opacity="0.6" filter="url(#blur1)"/>
<ellipse cx="711.5" cy="1053.8" rx="8" ry="10" fill="#2b91ef" opacity="0.35" filter="url(#blur2)"/>
<ellipse cx="666.5" cy="1104.8" rx="16" ry="21" fill="none" stroke="#08b5d0" stroke-width="3" opacity="0.35" filter="url(#blur1)"/>
<path d="M655.5,1102.8 A11 14 0 0 0 675.5,1112.8" fill="none" stroke="#327cfc" stroke-width="4" opacity="0.6" filter="url(#blur1)"/>
<ellipse cx="666.5" cy="1106.8" rx="8" ry="10" fill="#2b91ef" opacity="0.35" filter="url(#blur2)"/>
<ellipse cx="370.7" cy="1089.8" rx="12" ry="6" transform="rotate(35 370.7 1089.8)" fill="#0bbdbd" opacity="0.8" filter="url(#blur1)"/>
<ellipse cx="348.4" cy="1140.0" rx="15" ry="8" transform="rotate(35 348.4 1140.0)" fill="none" stroke="#0bbdbd" stroke-width="3" opacity="0.8" filter="url(#blur1)"/>
<ellipse cx="698.6" cy="1060.0" rx="13" ry="7" transform="rotate(-35 698.6 1060.0)" fill="#0bbdbd" opacity="0.8" filter="url(#blur1)"/>
<ellipse cx="717" cy="1112.0" rx="16" ry="8" transform="rotate(-45 717 1112.0)" fill="none" stroke="#0bbdbd" stroke-width="3" opacity="0.8" filter="url(#blur1)"/>
<ellipse cx="736" cy="1164.0" rx="12" ry="6" transform="rotate(-40 736 1164.0)" fill="none" stroke="#0bbdbd" stroke-width="3" opacity="0.8" filter="url(#blur1)"/>
<ellipse cx="320" cy="1134.8" rx="10" ry="5" transform="rotate(0 320 1134.8)" fill="#0bbdbd" opacity="0.8" filter="url(#blur1)"/>
<ellipse cx="502" cy="641.8" rx="16" ry="8" fill="#484df0" opacity="0.8" filter="url(#blur1)"/>
<ellipse cx="568" cy="641.8" rx="16" ry="8" fill="#484df0" opacity="0.8" filter="url(#blur1)"/>
<path d="M490,1135.4 H590" stroke="#08b5d0" stroke-width="2.5" opacity="0.5" filter="url(#blur1)"/>
<ellipse cx="507.7" cy="1166.8" rx="20" ry="24" fill="none" stroke="#3e6fff" stroke-width="2" opacity="0.6"/>
<ellipse cx="507.7" cy="1167.8" rx="17" ry="21" fill="#484df0"/>
<ellipse cx="507.7" cy="1170.8" rx="9" ry="10" fill="none" stroke="#3875fe" stroke-width="3" opacity="0.8"/>
<ellipse cx="507.7" cy="1174.8" rx="4" ry="5" fill="#4537d5"/>
<ellipse cx="570.9" cy="1166.8" rx="20" ry="24" fill="none" stroke="#3e6fff" stroke-width="2" opacity="0.6"/>
<ellipse cx="570.9" cy="1167.8" rx="17" ry="21" fill="#484df0"/>
<ellipse cx="570.9" cy="1170.8" rx="9" ry="10" fill="none" stroke="#3875fe" stroke-width="3" opacity="0.8"/>
<ellipse cx="570.9" cy="1174.8" rx="4" ry="5" fill="#4537d5"/>
<path d="M376.1,770.3 H705.1" stroke="#d9262b" stroke-width="2.2" stroke-dasharray="22.7 13.5" fill="none"/>
<path d="M376.1,1020.4 H705.1" stroke="#d9262b" stroke-width="2.2" stroke-dasharray="22.7 13.5" fill="none"/>
<path d="M376.1,1020.4 V770.3" stroke="#d9262b" stroke-width="2.2" stroke-dasharray="22.7 13.5" fill="none"/>
<path d="M705.1,1020.4 V770.3" stroke="#d9262b" stroke-width="2.2" stroke-dasharray="22.7 13.5" fill="none"/>
</g>
<g shape-rendering="crispEdges">
<rect x="136.00" y="1375.50" width="3.80" height="14.80" fill="#4acb84"/>
<rect x="139.40" y="1375.50" width="11.72" height="14.80" fill="#abc739"/>
<rect x="150.72" y="1375.50" width="11.72" height="14.80" fill="#dcbd29"/>
<rect x="162.04" y="1375.50" width="11.72" height="14.80" fill="#febe3c"/>
<rect x="173.35" y="1375.50" width="11.72" height="14.80" fill="#dcbd29"/>
<rect x="184.67" y="1375.50" width="11.72" height="14.80" fill="#abc739"/>
<rect x="195.99" y="1375.50" width="11.72" height="14.80" fill="#4acb84"/>
<rect x="207.31" y="1375.50" width="11.72" height="14.80" fill="#2cc4a7"/>
<rect x="218.63" y="1375.50" width="11.72" height="14.80" fill="#18addb"/>
<rect x="229.94" y="1375.50" width="11.72" height="14.80" fill="#259be8"/>
<rect x="241.26" y="1375.50" width="11.72" height="14.80" fill="#2e87f7"/>
<rect x="252.58" y="1375.50" width="11.72" height="14.80" fill="#2e87f7"/>
<rect x="263.90" y="1375.50" width="11.72" height="14.80" fill="#2e87f7"/>
<rect x="275.22" y="1375.50" width="11.72" height="14.80" fill="#259be8"/>
<rect x="286.53" y="1375.50" width="11.72" height="14.80" fill="#18addb"/>
<rect x="297.85" y="1375.50" width="11.72" height="14.80" fill="#02bac3"/>
<rect x="309.17" y="1375.50" width="11.72" height="14.80" fill="#02bac3"/>
<rect x="320.49" y="1375.50" width="11.72" height="14.80" fill="#2cc4a7"/>
<rect x="331.81" y="1375.50" width="11.72" height="14.80" fill="#2cc4a7"/>
<rect x="343.12" y="1375.50" width="11.72" height="14.80" fill="#4acb84"/>
<rect x="354.44" y="1375.50" width="11.72" height="14.80" fill="#4acb84"/>
<rect x="365.76" y="1375.50" width="11.72" height="14.80" fill="#4acb84"/>
<rect x="377.08" y="1375.50" width="11.72" height="14.80" fill="#2cc4a7"/>
<rect x="388.40" y="1375.50" width="11.72" height="14.80" fill="#02bac3"/>
<rect x="399.71" y="1375.50" width="11.72" height="14.80" fill="#18addb"/>
<rect x="411.03" y="1375.50" width="11.72" height="14.80" fill="#259be8"/>
<rect x="422.35" y="1375.50" width="11.72" height="14.80" fill="#259be8"/>
<rect x="433.67" y="1375.50" width="11.72" height="14.80" fill="#18addb"/>
<rect x="444.99" y="1375.50" width="11.72" height="14.80" fill="#02bac3"/>
<rect x="456.30" y="1375.50" width="11.72" height="14.80" fill="#2cc4a7"/>
<rect x="467.62" y="1375.50" width="11.72" height="14.80" fill="#4acb84"/>
<rect x="478.94" y="1375.50" width="11.72" height="14.80" fill="#4acb84"/>
<rect x="490.26" y="1375.50" width="11.72" height="14.80" fill="#4acb84"/>
<rect x="501.58" y="1375.50" width="11.72" height="14.80" fill="#02bac3"/>
<rect x="512.89" y="1375.50" width="11.72" height="14.80" fill="#18addb"/>
<rect x="524.21" y="1375.50" width="11.72" height="14.80" fill="#259be8"/>
<rect x="535.53" y="1375.50" width="11.72" height="14.80" fill="#259be8"/>
<rect x="546.85" y="1375.50" width="11.72" height="14.80" fill="#18addb"/>
<rect x="558.17" y="1375.50" width="11.72" height="14.80" fill="#02bac3"/>
<rect x="569.48" y="1375.50" width="11.72" height="14.80" fill="#2cc4a7"/>
<rect x="580.80" y="1375.50" width="11.72" height="14.80" fill="#81cc59"/>
<rect x="592.12" y="1375.50" width="11.72" height="14.80" fill="#81cc59"/>
<rect x="603.44" y="1375.50" width="11.72" height="14.80" fill="#2cc4a7"/>
<rect x="614.76" y="1375.50" width="11.72" height="14.80" fill="#02bac3"/>
<rect x="626.07" y="1375.50" width="11.72" height="14.80" fill="#259be8"/>
<rect x="637.39" y="1375.50" width="11.72" height="14.80" fill="#2e87f7"/>
<rect x="648.71" y="1375.50" width="11.72" height="14.80" fill="#2e87f7"/>
<rect x="660.03" y="1375.50" width="11.72" height="14.80" fill="#259be8"/>
<rect x="671.35" y="1375.50" width="11.72" height="14.80" fill="#02bac3"/>
<rect x="682.66" y="1375.50" width="11.72" height="14.80" fill="#4acb84"/>
<rect x="693.98" y="1375.50" width="11.72" height="14.80" fill="#abc739"/>
<rect x="705.30" y="1375.50" width="11.72" height="14.80" fill="#febe3c"/>
<rect x="716.62" y="1375.50" width="11.72" height="14.80" fill="#febe3c"/>
<rect x="727.94" y="1375.50" width="11.72" height="14.80" fill="#febe3c"/>
<rect x="739.25" y="1375.50" width="11.72" height="14.80" fill="#dcbd29"/>
<rect x="750.57" y="1375.50" width="11.72" height="14.80" fill="#81cc59"/>
<rect x="761.89" y="1375.50" width="11.72" height="14.80" fill="#4acb84"/>
<rect x="773.21" y="1375.50" width="11.72" height="14.80" fill="#2cc4a7"/>
<rect x="784.53" y="1375.50" width="11.72" height="14.80" fill="#02bac3"/>
<rect x="795.84" y="1375.50" width="11.72" height="14.80" fill="#18addb"/>
<rect x="807.16" y="1375.50" width="11.72" height="14.80" fill="#259be8"/>
<rect x="818.48" y="1375.50" width="11.72" height="14.80" fill="#259be8"/>
<rect x="829.80" y="1375.50" width="11.72" height="14.80" fill="#259be8"/>
<rect x="841.12" y="1375.50" width="10.78" height="14.80" fill="#18addb"/>
<rect x="136.00" y="1389.90" width="3.80" height="14.80" fill="#febe3c"/>
<rect x="139.40" y="1389.90" width="11.72" height="14.80" fill="#febe3c"/>
<rect x="150.72" y="1389.90" width="11.72" height="14.80" fill="#f7dc2a"/>
<rect x="162.04" y="1389.90" width="11.72" height="14.80" fill="#f7dc2a"/>
<rect x="173.35" y="1389.90" width="11.72" height="14.80" fill="#febe3c"/>
<rect x="184.67" y="1389.90" width="11.72" height="14.80" fill="#abc739"/>
<rect x="195.99" y="1389.90" width="11.72" height="14.80" fill="#2cc4a7"/>
<rect x="207.31" y="1389.90" width="11.72" height="14.80" fill="#18addb"/>
<rect x="218.63" y="1389.90" width="11.72" height="14.80" fill="#2e87f7"/>
<rect x="229.94" y="1389.90" width="11.72" height="14.80" fill="#3e6fff"/>
<rect x="241.26" y="1389.90" width="11.72" height="14.80" fill="#3e6fff"/>
<rect x="252.58" y="1389.90" width="11.72" height="14.80" fill="#2e87f7"/>
<rect x="263.90" y="1389.90" width="11.72" height="14.80" fill="#259be8"/>
<rect x="275.22" y="1389.90" width="11.72" height="14.80" fill="#18addb"/>
<rect x="286.53" y="1389.90" width="11.72" height="14.80" fill="#02bac3"/>
<rect x="297.85" y="1389.90" width="11.72" height="14.80" fill="#2cc4a7"/>
<rect x="309.17" y="1389.90" width="11.72" height="14.80" fill="#02bac3"/>
<rect x="320.49" y="1389.90" width="11.72" height="14.80" fill="#18addb"/>
<rect x="331.81" y="1389.90" width="11.72" height="14.80" fill="#18addb"/>
<rect x="343.12" y="1389.90" width="11.72" height="14.80" fill="#259be8"/>
<rect x="354.44" y="1389.90" width="11.72" height="14.80" fill="#259be8"/>
<rect x="365.76" y="1389.90" width="11.72" height="14.80" fill="#259be8"/>
<rect x="377.08" y="1389.90" width="11.72" height="14.80" fill="#18addb"/>
<rect x="388.40" y="1389.90" width="11.72" height="14.80" fill="#02bac3"/>
<rect x="399.71" y="1389.90" width="11.72" height="14.80" fill="#18addb"/>
<rect x="411.03" y="1389.90" width="11.72" height="14.80" fill="#18addb"/>
<rect x="422.35" y="1389.90" width="11.72" height="14.80" fill="#18addb"/>
<rect x="433.67" y="1389.90" width="11.72" height="14.80" fill="#02bac3"/>
<rect x="444.99" y="1389.90" width="11.72" height="14.80" fill="#2cc4a7"/>
<rect x="456.30" y="1389.90" width="11.72" height="14.80" fill="#4acb84"/>
<rect x="467.62" y="1389.90" width="11.72" height="14.80" fill="#81cc59"/>
<rect x="478.94" y="1389.90" width="11.72" height="14.80" fill="#81cc59"/>
<rect x="490.26" y="1389.90" width="11.72" height="14.80" fill="#4acb84"/>
<rect x="501.58" y="1389.90" width="11.72" height="14.80" fill="#02bac3"/>
<rect x="512.89" y="1389.90" width="11.72" height="14.80" fill="#259be8"/>
<rect x="524.21" y="1389.90" width="11.72" height="14.80" fill="#2e87f7"/>
<rect x="535.53" y="1389.90" width="11.72" height="14.80" fill="#3e6fff"/>
<rect x="546.85" y="1389.90" width="11.72" height="14.80" fill="#2e87f7"/>
<rect x="558.17" y="1389.90" width="11.72" height="14.80" fill="#259be8"/>
<rect x="569.48" y="1389.90" width="11.72" height="14.80" fill="#02bac3"/>
<rect x="580.80" y="1389.90" width="11.72" height="14.80" fill="#4acb84"/>
<rect x="592.12" y="1389.90" width="11.72" height="14.80" fill="#abc739"/>
<rect x="603.44" y="1389.90" width="11.72" height="14.80" fill="#abc739"/>
<rect x="614.76" y="1389.90" width="11.72" height="14.80" fill="#81cc59"/>
<rect x="626.07" y="1389.90" width="11.72" height="14.80" fill="#2cc4a7"/>
<rect x="637.39" y="1389.90" width="11.72" height="14.80" fill="#02bac3"/>
<rect x="648.71" y="1389.90" width="11.72" height="14.80" fill="#02bac3"/>
<rect x="660.03" y="1389.90" width="11.72" height="14.80" fill="#02bac3"/>
<rect x="671.35" y="1389.90" width="11.72" height="14.80" fill="#2cc4a7"/>
<rect x="682.66" y="1389.90" width="11.72" height="14.80" fill="#2cc4a7"/>
<rect x="693.98" y="1389.90" width="11.72" height="14.80" fill="#4acb84"/>
<rect x="705.30" y="1389.90" width="11.72" height="14.80" fill="#81cc59"/>
<rect x="716.62" y="1389.90" width="11.72" height="14.80" fill="#abc739"/>
<rect x="727.94" y="1389.90" width="11.72" height="14.80" fill="#dcbd29"/>
<rect x="739.25" y="1389.90" width="11.72" height="14.80" fill="#dcbd29"/>
<rect x="750.57" y="1389.90" width="11.72" height="14.80" fill="#dcbd29"/>
<rect x="761.89" y="1389.90" width="11.72" height="14.80" fill="#abc739"/>
<rect x="773.21" y="1389.90" width="11.72" height="14.80" fill="#4acb84"/>
<rect x="784.53" y="1389.90" width="11.72" height="14.80" fill="#02bac3"/>
<rect x="795.84" y="1389.90" width="11.72" height="14.80" fill="#18addb"/>
<rect x="807.16" y="1389.90" width="11.72" height="14.80" fill="#2e87f7"/>
<rect x="818.48" y="1389.90" width="11.72" height="14.80" fill="#3e6fff"/>
<rect x="829.80" y="1389.90" width="11.72" height="14.80" fill="#3e6fff"/>
<rect x="841.12" y="1389.90" width="10.78" height="14.80" fill="#2e87f7"/>
<rect x="136.00" y="1404.30" width="3.80" height="14.80" fill="#febe3c"/>
<rect x="139.40" y="1404.30" width="11.72" height="14.80" fill="#febe3c"/>
<rect x="150.72" y="1404.30" width="11.72" height="14.80" fill="#febe3c"/>
<rect x="162.04" y="1404.30" width="11.72" height="14.80" fill="#febe3c"/>
<rect x="173.35" y="1404.30" width="11.72" height="14.80" fill="#dcbd29"/>
<rect x="184.67" y="1404.30" width="11.72" height="14.80" fill="#4acb84"/>
<rect x="195.99" y="1404.30" width="11.72" height="14.80" fill="#02bac3"/>
<rect x="207.31" y="1404.30" width="11.72" height="14.80" fill="#259be8"/>
<rect x="218.63" y="1404.30" width="11.72" height="14.80" fill="#3e6fff"/>
<rect x="229.94" y="1404.30" width="11.72" height="14.80" fill="#4852f4"/>
<rect x="241.26" y="1404.30" width="11.72" height="14.80" fill="#3e6fff"/>
<rect x="252.58" y="1404.30" width="11.72" height="14.80" fill="#259be8"/>
<rect x="263.90" y="1404.30" width="11.72" height="14.80" fill="#02bac3"/>
<rect x="275.22" y="1404.30" width="11.72" height="14.80" fill="#4acb84"/>
<rect x="286.53" y="1404.30" width="11.72" height="14.80" fill="#81cc59"/>
<rect x="297.85" y="1404.30" width="11.72" height="14.80" fill="#4acb84"/>
<rect x="309.17" y="1404.30" width="11.72" height="14.80" fill="#02bac3"/>
<rect x="320.49" y="1404.30" width="11.72" height="14.80" fill="#259be8"/>
<rect x="331.81" y="1404.30" width="11.72" height="14.80" fill="#2e87f7"/>
<rect x="343.12" y="1404.30" width="11.72" height="14.80" fill="#3e6fff"/>
<rect x="354.44" y="1404.30" width="11.72" height="14.80" fill="#3e6fff"/>
<rect x="365.76" y="1404.30" width="11.72" height="14.80" fill="#2e87f7"/>
<rect x="377.08" y="1404.30" width="11.72" height="14.80" fill="#259be8"/>
<rect x="388.40" y="1404.30" width="11.72" height="14.80" fill="#18addb"/>
<rect x="399.71" y="1404.30" width="11.72" height="14.80" fill="#02bac3"/>
<rect x="411.03" y="1404.30" width="11.72" height="14.80" fill="#02bac3"/>
<rect x="422.35" y="1404.30" width="11.72" height="14.80" fill="#02bac3"/>
<rect x="433.67" y="1404.30" width="11.72" height="14.80" fill="#02bac3"/>
<rect x="444.99" y="1404.30" width="11.72" height="14.80" fill="#2cc4a7"/>
<rect x="456.30" y="1404.30" width="11.72" height="14.80" fill="#4acb84"/>
<rect x="467.62" y="1404.30" width="11.72" height="14.80" fill="#4acb84"/>
<rect x="478.94" y="1404.30" width="11.72" height="14.80" fill="#4acb84"/>
<rect x="490.26" y="1404.30" width="11.72" height="14.80" fill="#2cc4a7"/>
<rect x="501.58" y="1404.30" width="11.72" height="14.80" fill="#18addb"/>
<rect x="512.89" y="1404.30" width="11.72" height="14.80" fill="#259be8"/>
<rect x="524.21" y="1404.30" width="11.72" height="14.80" fill="#3e6fff"/>
<rect x="535.53" y="1404.30" width="11.72" height="14.80" fill="#3e6fff"/>
<rect x="546.85" y="1404.30" width="11.72" height="14.80" fill="#3e6fff"/>
<rect x="558.17" y="1404.30" width="11.72" height="14.80" fill="#2e87f7"/>
<rect x="569.48" y="1404.30" width="11.72" height="14.80" fill="#18addb"/>
<rect x="580.80" y="1404.30" width="11.72" height="14.80" fill="#2cc4a7"/>
<rect x="592.12" y="1404.30" width="11.72" height="14.80" fill="#abc739"/>
<rect x="603.44" y="1404.30" width="11.72" height="14.80" fill="#dcbd29"/>
<rect x="614.76" y="1404.30" width="11.72" height="14.80" fill="#febe3c"/>
<rect x="626.07" y="1404.30" width="11.72" height="14.80" fill="#dcbd29"/>
<rect x="637.39" y="1404.30" width="11.72" height="14.80" fill="#abc739"/>
<rect x="648.71" y="1404.30" width="11.72" height="14.80" fill="#4acb84"/>
<rect x="660.03" y="1404.30" width="11.72" height="14.80" fill="#2cc4a7"/>
<rect x="671.35" y="1404.30" width="11.72" height="14.80" fill="#02bac3"/>
<rect x="682.66" y="1404.30" width="11.72" height="14.80" fill="#18addb"/>
<rect x="693.98" y="1404.30" width="11.72" height="14.80" fill="#18addb"/>
<rect x="705.30" y="1404.30" width="11.72" height="14.80" fill="#02bac3"/>
<rect x="716.62" y="1404.30" width="11.72" height="14.80" fill="#2cc4a7"/>
<rect x="727.94" y="1404.30" width="11.72" height="14.80" fill="#4acb84"/>
<rect x="739.25" y="1404.30" width="11.72" height="14.80" fill="#abc739"/>
<rect x="750.57" y="1404.30" width="11.72" height="14.80" fill="#dcbd29"/>
<rect x="761.89" y="1404.30" width="11.72" height="14.80" fill="#dcbd29"/>
<rect x="773.21" y="1404.30" width="11.72" height="14.80" fill="#abc739"/>
<rect x="784.53" y="1404.30" width="11.72" height="14.80" fill="#4acb84"/>
<rect x="795.84" y="1404.30" width="11.72" height="14.80" fill="#02bac3"/>
<rect x="807.16" y="1404.30" width="11.72" height="14.80" fill="#259be8"/>
<rect x="818.48" y="1404.30" width="11.72" height="14.80" fill="#2e87f7"/>
<rect x="829.80" y="1404.30" width="11.72" height="14.80" fill="#2e87f7"/>
<rect x="841.12" y="1404.30" width="10.78" height="14.80" fill="#2e87f7"/>
<rect x="136.00" y="1418.70" width="3.80" height="14.80" fill="#81cc59"/>
<rect x="139.40" y="1418.70" width="11.72" height="14.80" fill="#81cc59"/>
<rect x="150.72" y="1418.70" width="11.72" height="14.80" fill="#81cc59"/>
<rect x="162.04" y="1418.70" width="11.72" height="14.80" fill="#81cc59"/>
<rect x="173.35" y="1418.70" width="11.72" height="14.80" fill="#4acb84"/>
<rect x="184.67" y="1418.70" width="11.72" height="14.80" fill="#2cc4a7"/>
<rect x="195.99" y="1418.70" width="11.72" height="14.80" fill="#18addb"/>
<rect x="207.31" y="1418.70" width="11.72" height="14.80" fill="#259be8"/>
<rect x="218.63" y="1418.70" width="11.72" height="14.80" fill="#2e87f7"/>
<rect x="229.94" y="1418.70" width="11.72" height="14.80" fill="#2e87f7"/>
<rect x="241.26" y="1418.70" width="11.72" height="14.80" fill="#259be8"/>
<rect x="252.58" y="1418.70" width="11.72" height="14.80" fill="#18addb"/>
<rect x="263.90" y="1418.70" width="11.72" height="14.80" fill="#abc739"/>
<rect x="275.22" y="1418.70" width="11.72" height="14.80" fill="#dcbd29"/>
<rect x="286.53" y="1418.70" width="11.72" height="14.80" fill="#dcbd29"/>
<rect x="297.85" y="1418.70" width="11.72" height="14.80" fill="#abc739"/>
<rect x="309.17" y="1418.70" width="11.72" height="14.80" fill="#18addb"/>
<rect x="320.49" y="1418.70" width="11.72" height="14.80" fill="#2e87f7"/>
<rect x="331.81" y="1418.70" width="11.72" height="14.80" fill="#3e6fff"/>
<rect x="343.12" y="1418.70" width="11.72" height="14.80" fill="#4852f4"/>
<rect x="354.44" y="1418.70" width="11.72" height="14.80" fill="#4852f4"/>
<rect x="365.76" y="1418.70" width="11.72" height="14.80" fill="#3e6fff"/>
<rect x="377.08" y="1418.70" width="11.72" height="14.80" fill="#259be8"/>
<rect x="388.40" y="1418.70" width="11.72" height="14.80" fill="#02bac3"/>
<rect x="399.71" y="1418.70" width="11.72" height="14.80" fill="#2cc4a7"/>
<rect x="411.03" y="1418.70" width="11.72" height="14.80" fill="#4acb84"/>
<rect x="422.35" y="1418.70" width="11.72" height="14.80" fill="#2cc4a7"/>
<rect x="433.67" y="1418.70" width="11.72" height="14.80" fill="#2cc4a7"/>
<rect x="444.99" y="1418.70" width="11.72" height="14.80" fill="#02bac3"/>
<rect x="456.30" y="1418.70" width="11.72" height="14.80" fill="#02bac3"/>
<rect x="467.62" y="1418.70" width="11.72" height="14.80" fill="#02bac3"/>
<rect x="478.94" y="1418.70" width="11.72" height="14.80" fill="#2cc4a7"/>
<rect x="490.26" y="1418.70" width="11.72" height="14.80" fill="#2cc4a7"/>
<rect x="501.58" y="1418.70" width="11.72" height="14.80" fill="#18addb"/>
<rect x="512.89" y="1418.70" width="11.72" height="14.80" fill="#259be8"/>
<rect x="524.21" y="1418.70" width="11.72" height="14.80" fill="#2e87f7"/>
<rect x="535.53" y="1418.70" width="11.72" height="14.80" fill="#3e6fff"/>
<rect x="546.85" y="1418.70" width="11.72" height="14.80" fill="#3e6fff"/>
<rect x="558.17" y="1418.70" width="11.72" height="14.80" fill="#2e87f7"/>
<rect x="569.48" y="1418.70" width="11.72" height="14.80" fill="#18addb"/>
<rect x="580.80" y="1418.70" width="11.72" height="14.80" fill="#2cc4a7"/>
<rect x="592.12" y="1418.70" width="11.72" height="14.80" fill="#81cc59"/>
<rect x="603.44" y="1418.70" width="11.72" height="14.80" fill="#abc739"/>
<rect x="614.76" y="1418.70" width="11.72" height="14.80" fill="#febe3c"/>
<rect x="626.07" y="1418.70" width="11.72" height="14.80" fill="#febe3c"/>
<rect x="637.39" y="1418.70" width="11.72" height="14.80" fill="#dcbd29"/>
<rect x="648.71" y="1418.70" width="11.72" height="14.80" fill="#81cc59"/>
<rect x="660.03" y="1418.70" width="11.72" height="14.80" fill="#2cc4a7"/>
<rect x="671.35" y="1418.70" width="11.72" height="14.80" fill="#02bac3"/>
<rect x="682.66" y="1418.70" width="11.72" height="14.80" fill="#259be8"/>
<rect x="693.98" y="1418.70" width="11.72" height="14.80" fill="#2e87f7"/>
<rect x="705.30" y="1418.70" width="11.72" height="14.80" fill="#2e87f7"/>
<rect x="716.62" y="1418.70" width="11.72" height="14.80" fill="#259be8"/>
<rect x="727.94" y="1418.70" width="11.72" height="14.80" fill="#18addb"/>
<rect x="739.25" y="1418.70" width="11.72" height="14.80" fill="#2cc4a7"/>
<rect x="750.57" y="1418.70" width="11.72" height="14.80" fill="#81cc59"/>
<rect x="761.89" y="1418.70" width="11.72" height="14.80" fill="#abc739"/>
<rect x="773.21" y="1418.70" width="11.72" height="14.80" fill="#dcbd29"/>
<rect x="784.53" y="1418.70" width="11.72" height="14.80" fill="#abc739"/>
<rect x="795.84" y="1418.70" width="11.72" height="14.80" fill="#4acb84"/>
<rect x="807.16" y="1418.70" width="11.72" height="14.80" fill="#02bac3"/>
<rect x="818.48" y="1418.70" width="11.72" height="14.80" fill="#18addb"/>
<rect x="829.80" y="1418.70" width="11.72" height="14.80" fill="#18addb"/>
<rect x="841.12" y="1418.70" width="10.78" height="14.80" fill="#18addb"/>
<rect x="136.00" y="1433.10" width="3.80" height="14.80" fill="#02bac3"/>
<rect x="139.40" y="1433.10" width="11.72" height="14.80" fill="#02bac3"/>
<rect x="150.72" y="1433.10" width="11.72" height="14.80" fill="#2cc4a7"/>
<rect x="162.04" y="1433.10" width="11.72" height="14.80" fill="#2cc4a7"/>
<rect x="173.35" y="1433.10" width="11.72" height="14.80" fill="#2cc4a7"/>
<rect x="184.67" y="1433.10" width="11.72" height="14.80" fill="#02bac3"/>
<rect x="195.99" y="1433.10" width="11.72" height="14.80" fill="#18addb"/>
<rect x="207.31" y="1433.10" width="11.72" height="14.80" fill="#259be8"/>
<rect x="218.63" y="1433.10" width="11.72" height="14.80" fill="#259be8"/>
<rect x="229.94" y="1433.10" width="11.72" height="14.80" fill="#259be8"/>
<rect x="241.26" y="1433.10" width="11.72" height="14.80" fill="#18addb"/>
<rect x="252.58" y="1433.10" width="11.72" height="14.80" fill="#02bac3"/>
<rect x="263.90" y="1433.10" width="11.72" height="14.80" fill="#dcbd29"/>
<rect x="275.22" y="1433.10" width="11.72" height="14.80" fill="#febe3c"/>
<rect x="286.53" y="1433.10" width="11.72" height="14.80" fill="#febe3c"/>
<rect x="297.85" y="1433.10" width="11.72" height="14.80" fill="#abc739"/>
<rect x="309.17" y="1433.10" width="11.72" height="14.80" fill="#18addb"/>
<rect x="320.49" y="1433.10" width="11.72" height="14.80" fill="#2e87f7"/>
<rect x="331.81" y="1433.10" width="11.72" height="14.80" fill="#3e6fff"/>
<rect x="343.12" y="1433.10" width="11.72" height="14.80" fill="#4852f4"/>
<rect x="354.44" y="1433.10" width="11.72" height="14.80" fill="#4852f4"/>
<rect x="365.76" y="1433.10" width="11.72" height="14.80" fill="#3e6fff"/>
<rect x="377.08" y="1433.10" width="11.72" height="14.80" fill="#18addb"/>
<rect x="388.40" y="1433.10" width="11.72" height="14.80" fill="#2cc4a7"/>
<rect x="399.71" y="1433.10" width="11.72" height="14.80" fill="#81cc59"/>
<rect x="411.03" y="1433.10" width="11.72" height="14.80" fill="#81cc59"/>
<rect x="422.35" y="1433.10" width="11.72" height="14.80" fill="#2cc4a7"/>
<rect x="433.67" y="1433.10" width="11.72" height="14.80" fill="#02bac3"/>
<rect x="444.99" y="1433.10" width="11.72" height="14.80" fill="#18addb"/>
<rect x="456.30" y="1433.10" width="11.72" height="14.80" fill="#18addb"/>
<rect x="467.62" y="1433.10" width="11.72" height="14.80" fill="#18addb"/>
<rect x="478.94" y="1433.10" width="11.72" height="14.80" fill="#18addb"/>
<rect x="490.26" y="1433.10" width="11.72" height="14.80" fill="#2cc4a7"/>
<rect x="501.58" y="1433.10" width="11.72" height="14.80" fill="#02bac3"/>
<rect x="512.89" y="1433.10" width="11.72" height="14.80" fill="#18addb"/>
<rect x="524.21" y="1433.10" width="11.72" height="14.80" fill="#259be8"/>
<rect x="535.53" y="1433.10" width="11.72" height="14.80" fill="#2e87f7"/>
<rect x="546.85" y="1433.10" width="11.72" height="14.80" fill="#2e87f7"/>
<rect x="558.17" y="1433.10" width="11.72" height="14.80" fill="#259be8"/>
<rect x="569.48" y="1433.10" width="11.72" height="14.80" fill="#18addb"/>
<rect x="580.80" y="1433.10" width="11.72" height="14.80" fill="#02bac3"/>
<rect x="592.12" y="1433.10" width="11.72" height="14.80" fill="#2cc4a7"/>
<rect x="603.44" y="1433.10" width="11.72" height="14.80" fill="#81cc59"/>
<rect x="614.76" y="1433.10" width="11.72" height="14.80" fill="#dcbd29"/>
<rect x="626.07" y="1433.10" width="11.72" height="14.80" fill="#dcbd29"/>
<rect x="637.39" y="1433.10" width="11.72" height="14.80" fill="#abc739"/>
<rect x="648.71" y="1433.10" width="11.72" height="14.80" fill="#81cc59"/>
<rect x="660.03" y="1433.10" width="11.72" height="14.80" fill="#2cc4a7"/>
<rect x="671.35" y="1433.10" width="11.72" height="14.80" fill="#18addb"/>
<rect x="682.66" y="1433.10" width="11.72" height="14.80" fill="#2e87f7"/>
<rect x="693.98" y="1433.10" width="11.72" height="14.80" fill="#4852f4"/>
<rect x="705.30" y="1433.10" width="11.72" height="14.80" fill="#4852f4"/>
<rect x="716.62" y="1433.10" width="11.72" height="14.80" fill="#3e6fff"/>
<rect x="727.94" y="1433.10" width="11.72" height="14.80" fill="#2e87f7"/>
<rect x="739.25" y="1433.10" width="11.72" height="14.80" fill="#18addb"/>
<rect x="750.57" y="1433.10" width="11.72" height="14.80" fill="#2cc4a7"/>
<rect x="761.89" y="1433.10" width="11.72" height="14.80" fill="#81cc59"/>
<rect x="773.21" y="1433.10" width="11.72" height="14.80" fill="#abc739"/>
<rect x="784.53" y="1433.10" width="11.72" height="14.80" fill="#dcbd29"/>
<rect x="795.84" y="1433.10" width="11.72" height="14.80" fill="#abc739"/>
<rect x="807.16" y="1433.10" width="11.72" height="14.80" fill="#81cc59"/>
<rect x="818.48" y="1433.10" width="11.72" height="14.80" fill="#4acb84"/>
<rect x="829.80" y="1433.10" width="11.72" height="14.80" fill="#2cc4a7"/>
<rect x="841.12" y="1433.10" width="10.78" height="14.80" fill="#2cc4a7"/>
<rect x="136.00" y="1447.50" width="3.80" height="14.80" fill="#259be8"/>
<rect x="139.40" y="1447.50" width="11.72" height="14.80" fill="#259be8"/>
<rect x="150.72" y="1447.50" width="11.72" height="14.80" fill="#259be8"/>
<rect x="162.04" y="1447.50" width="11.72" height="14.80" fill="#18addb"/>
<rect x="173.35" y="1447.50" width="11.72" height="14.80" fill="#18addb"/>
<rect x="184.67" y="1447.50" width="11.72" height="14.80" fill="#02bac3"/>
<rect x="195.99" y="1447.50" width="11.72" height="14.80" fill="#02bac3"/>
<rect x="207.31" y="1447.50" width="11.72" height="14.80" fill="#18addb"/>
<rect x="218.63" y="1447.50" width="11.72" height="14.80" fill="#18addb"/>
<rect x="229.94" y="1447.50" width="11.72" height="14.80" fill="#02bac3"/>
<rect x="241.26" y="1447.50" width="11.72" height="14.80" fill="#2cc4a7"/>
<rect x="252.58" y="1447.50" width="11.72" height="14.80" fill="#abc739"/>
<rect x="263.90" y="1447.50" width="11.72" height="14.80" fill="#febe3c"/>
<rect x="275.22" y="1447.50" width="11.72" height="14.80" fill="#f9fb15"/>
<rect x="286.53" y="1447.50" width="11.72" height="14.80" fill="#f7dc2a"/>
<rect x="297.85" y="1447.50" width="11.72" height="14.80" fill="#dcbd29"/>
<rect x="309.17" y="1447.50" width="11.72" height="14.80" fill="#02bac3"/>
<rect x="320.49" y="1447.50" width="11.72" height="14.80" fill="#259be8"/>
<rect x="331.81" y="1447.50" width="11.72" height="14.80" fill="#3e6fff"/>
<rect x="343.12" y="1447.50" width="11.72" height="14.80" fill="#4852f4"/>
<rect x="354.44" y="1447.50" width="11.72" height="14.80" fill="#3e6fff"/>
<rect x="365.76" y="1447.50" width="11.72" height="14.80" fill="#259be8"/>
<rect x="377.08" y="1447.50" width="11.72" height="14.80" fill="#02bac3"/>
<rect x="388.40" y="1447.50" width="11.72" height="14.80" fill="#81cc59"/>
<rect x="399.71" y="1447.50" width="11.72" height="14.80" fill="#abc739"/>
<rect x="411.03" y="1447.50" width="11.72" height="14.80" fill="#abc739"/>
<rect x="422.35" y="1447.50" width="11.72" height="14.80" fill="#2cc4a7"/>
<rect x="433.67" y="1447.50" width="11.72" height="14.80" fill="#18addb"/>
<rect x="444.99" y="1447.50" width="11.72" height="14.80" fill="#259be8"/>
<rect x="456.30" y="1447.50" width="11.72" height="14.80" fill="#259be8"/>
<rect x="467.62" y="1447.50" width="11.72" height="14.80" fill="#259be8"/>
<rect x="478.94" y="1447.50" width="11.72" height="14.80" fill="#18addb"/>
<rect x="490.26" y="1447.50" width="11.72" height="14.80" fill="#02bac3"/>
<rect x="501.58" y="1447.50" width="11.72" height="14.80" fill="#2cc4a7"/>
<rect x="512.89" y="1447.50" width="11.72" height="14.80" fill="#4acb84"/>
<rect x="524.21" y="1447.50" width="11.72" height="14.80" fill="#2cc4a7"/>
<rect x="535.53" y="1447.50" width="11.72" height="14.80" fill="#02bac3"/>
<rect x="546.85" y="1447.50" width="11.72" height="14.80" fill="#259be8"/>
<rect x="558.17" y="1447.50" width="11.72" height="14.80" fill="#2e87f7"/>
<rect x="569.48" y="1447.50" width="11.72" height="14.80" fill="#2e87f7"/>
<rect x="580.80" y="1447.50" width="11.72" height="14.80" fill="#2e87f7"/>
<rect x="592.12" y="1447.50" width="11.72" height="14.80" fill="#259be8"/>
<rect x="603.44" y="1447.50" width="11.72" height="14.80" fill="#18addb"/>
<rect x="614.76" y="1447.50" width="11.72" height="14.80" fill="#02bac3"/>
<rect x="626.07" y="1447.50" width="11.72" height="14.80" fill="#2cc4a7"/>
<rect x="637.39" y="1447.50" width="11.72" height="14.80" fill="#4acb84"/>
<rect x="648.71" y="1447.50" width="11.72" height="14.80" fill="#4acb84"/>
<rect x="660.03" y="1447.50" width="11.72" height="14.80" fill="#2cc4a7"/>
<rect x="671.35" y="1447.50" width="11.72" height="14.80" fill="#18addb"/>
<rect x="682.66" y="1447.50" width="11.72" height="14.80" fill="#2e87f7"/>
<rect x="693.98" y="1447.50" width="11.72" height="14.80" fill="#4852f4"/>
<rect x="705.30" y="1447.50" width="11.72" height="14.80" fill="#463cde"/>
<rect x="716.62" y="1447.50" width="11.72" height="14.80" fill="#463cde"/>
<rect x="727.94" y="1447.50" width="11.72" height="14.80" fill="#4852f4"/>
<rect x="739.25" y="1447.50" width="11.72" height="14.80" fill="#2e87f7"/>
<rect x="750.57" y="1447.50" width="11.72" height="14.80" fill="#18addb"/>
<rect x="761.89" y="1447.50" width="11.72" height="14.80" fill="#2cc4a7"/>
<rect x="773.21" y="1447.50" width="11.72" height="14.80" fill="#81cc59"/>
<rect x="784.53" y="1447.50" width="11.72" height="14.80" fill="#dcbd29"/>
<rect x="795.84" y="1447.50" width="11.72" height="14.80" fill="#dcbd29"/>
<rect x="807.16" y="1447.50" width="11.72" height="14.80" fill="#dcbd29"/>
<rect x="818.48" y="1447.50" width="11.72" height="14.80" fill="#abc739"/>
<rect x="829.80" y="1447.50" width="11.72" height="14.80" fill="#abc739"/>
<rect x="841.12" y="1447.50" width="10.78" height="14.80" fill="#abc739"/>
<rect x="136.00" y="1461.90" width="3.80" height="14.80" fill="#2e87f7"/>
<rect x="139.40" y="1461.90" width="11.72" height="14.80" fill="#2e87f7"/>
<rect x="150.72" y="1461.90" width="11.72" height="14.80" fill="#2e87f7"/>
<rect x="162.04" y="1461.90" width="11.72" height="14.80" fill="#259be8"/>
<rect x="173.35" y="1461.90" width="11.72" height="14.80" fill="#18addb"/>
<rect x="184.67" y="1461.90" width="11.72" height="14.80" fill="#2cc4a7"/>
<rect x="195.99" y="1461.90" width="11.72" height="14.80" fill="#2cc4a7"/>
<rect x="207.31" y="1461.90" width="11.72" height="14.80" fill="#2cc4a7"/>
<rect x="218.63" y="1461.90" width="11.72" height="14.80" fill="#2cc4a7"/>
<rect x="229.94" y="1461.90" width="11.72" height="14.80" fill="#2cc4a7"/>
<rect x="241.26" y="1461.90" width="11.72" height="14.80" fill="#4acb84"/>
<rect x="252.58" y="1461.90" width="11.72" height="14.80" fill="#abc739"/>
<rect x="263.90" y="1461.90" width="11.72" height="14.80" fill="#dcbd29"/>
<rect x="275.22" y="1461.90" width="11.72" height="14.80" fill="#febe3c"/>
<rect x="286.53" y="1461.90" width="11.72" height="14.80" fill="#dcbd29"/>
<rect x="297.85" y="1461.90" width="11.72" height="14.80" fill="#81cc59"/>
<rect x="309.17" y="1461.90" width="11.72" height="14.80" fill="#02bac3"/>
<rect x="320.49" y="1461.90" width="11.72" height="14.80" fill="#259be8"/>
<rect x="331.81" y="1461.90" width="11.72" height="14.80" fill="#2e87f7"/>
<rect x="343.12" y="1461.90" width="11.72" height="14.80" fill="#2e87f7"/>
<rect x="354.44" y="1461.90" width="11.72" height="14.80" fill="#259be8"/>
<rect x="365.76" y="1461.90" width="11.72" height="14.80" fill="#18addb"/>
<rect x="377.08" y="1461.90" width="11.72" height="14.80" fill="#4acb84"/>
<rect x="388.40" y="1461.90" width="11.72" height="14.80" fill="#abc739"/>
<rect x="399.71" y="1461.90" width="11.72" height="14.80" fill="#febe3c"/>
<rect x="411.03" y="1461.90" width="11.72" height="14.80" fill="#abc739"/>
<rect x="422.35" y="1461.90" width="11.72" height="14.80" fill="#2cc4a7"/>
<rect x="433.67" y="1461.90" width="11.72" height="14.80" fill="#259be8"/>
<rect x="444.99" y="1461.90" width="11.72" height="14.80" fill="#3e6fff"/>
<rect x="456.30" y="1461.90" width="11.72" height="14.80" fill="#3e6fff"/>
<rect x="467.62" y="1461.90" width="11.72" height="14.80" fill="#3e6fff"/>
<rect x="478.94" y="1461.90" width="11.72" height="14.80" fill="#2e87f7"/>
<rect x="490.26" y="1461.90" width="11.72" height="14.80" fill="#18addb"/>
<rect x="501.58" y="1461.90" width="11.72" height="14.80" fill="#4acb84"/>
<rect x="512.89" y="1461.90" width="11.72" height="14.80" fill="#abc739"/>
<rect x="524.21" y="1461.90" width="11.72" height="14.80" fill="#abc739"/>
<rect x="535.53" y="1461.90" width="11.72" height="14.80" fill="#4acb84"/>
<rect x="546.85" y="1461.90" width="11.72" height="14.80" fill="#02bac3"/>
<rect x="558.17" y="1461.90" width="11.72" height="14.80" fill="#259be8"/>
<rect x="569.48" y="1461.90" width="11.72" height="14.80" fill="#3e6fff"/>
<rect x="580.80" y="1461.90" width="11.72" height="14.80" fill="#3e6fff"/>
<rect x="592.12" y="1461.90" width="11.72" height="14.80" fill="#3e6fff"/>
<rect x="603.44" y="1461.90" width="11.72" height="14.80" fill="#2e87f7"/>
<rect x="614.76" y="1461.90" width="11.72" height="14.80" fill="#259be8"/>
<rect x="626.07" y="1461.90" width="11.72" height="14.80" fill="#18addb"/>
<rect x="637.39" y="1461.90" width="11.72" height="14.80" fill="#02bac3"/>
<rect x="648.71" y="1461.90" width="11.72" height="14.80" fill="#2cc4a7"/>
<rect x="660.03" y="1461.90" width="11.72" height="14.80" fill="#2cc4a7"/>
<rect x="671.35" y="1461.90" width="11.72" height="14.80" fill="#02bac3"/>
<rect x="682.66" y="1461.90" width="11.72" height="14.80" fill="#259be8"/>
<rect x="693.98" y="1461.90" width="11.72" height="14.80" fill="#3e6fff"/>
<rect x="705.30" y="1461.90" width="11.72" height="14.80" fill="#4852f4"/>
<rect x="716.62" y="1461.90" width="11.72" height="14.80" fill="#4852f4"/>
<rect x="727.94" y="1461.90" width="11.72" height="14.80" fill="#4852f4"/>
<rect x="739.25" y="1461.90" width="11.72" height="14.80" fill="#2e87f7"/>
<rect x="750.57" y="1461.90" width="11.72" height="14.80" fill="#259be8"/>
<rect x="761.89" y="1461.90" width="11.72" height="14.80" fill="#02bac3"/>
<rect x="773.21" y="1461.90" width="11.72" height="14.80" fill="#4acb84"/>
<rect x="784.53" y="1461.90" width="11.72" height="14.80" fill="#81cc59"/>
<rect x="795.84" y="1461.90" width="11.72" height="14.80" fill="#abc739"/>
<rect x="807.16" y="1461.90" width="11.72" height="14.80" fill="#dcbd29"/>
<rect x="818.48" y="1461.90" width="11.72" height="14.80" fill="#dcbd29"/>
<rect x="829.80" y="1461.90" width="11.72" height="14.80" fill="#febe3c"/>
<rect x="841.12" y="1461.90" width="10.78" height="14.80" fill="#febe3c"/>
<rect x="136.00" y="1476.30" width="3.80" height="14.80" fill="#2e87f7"/>
<rect x="139.40" y="1476.30" width="11.72" height="14.80" fill="#2e87f7"/>
<rect x="150.72" y="1476.30" width="11.72" height="14.80" fill="#2e87f7"/>
<rect x="162.04" y="1476.30" width="11.72" height="14.80" fill="#259be8"/>
<rect x="173.35" y="1476.30" width="11.72" height="14.80" fill="#02bac3"/>
<rect x="184.67" y="1476.30" width="11.72" height="14.80" fill="#4acb84"/>
<rect x="195.99" y="1476.30" width="11.72" height="14.80" fill="#4acb84"/>
<rect x="207.31" y="1476.30" width="11.72" height="14.80" fill="#4acb84"/>
<rect x="218.63" y="1476.30" width="11.72" height="14.80" fill="#4acb84"/>
<rect x="229.94" y="1476.30" width="11.72" height="14.80" fill="#2cc4a7"/>
<rect x="241.26" y="1476.30" width="11.72" height="14.80" fill="#2cc4a7"/>
<rect x="252.58" y="1476.30" width="11.72" height="14.80" fill="#2cc4a7"/>
<rect x="263.90" y="1476.30" width="11.72" height="14.80" fill="#2cc4a7"/>
<rect x="275.22" y="1476.30" width="11.72" height="14.80" fill="#2cc4a7"/>
<rect x="286.53" y="1476.30" width="11.72" height="14.80" fill="#2cc4a7"/>
<rect x="297.85" y="1476.30" width="11.72" height="14.80" fill="#2cc4a7"/>
<rect x="309.17" y="1476.30" width="11.72" height="14.80" fill="#02bac3"/>
<rect x="320.49" y="1476.30" width="11.72" height="14.80" fill="#18addb"/>
<rect x="331.81" y="1476.30" width="11.72" height="14.80" fill="#18addb"/>
<rect x="343.12" y="1476.30" width="11.72" height="14.80" fill="#18addb"/>
<rect x="354.44" y="1476.30" width="11.72" height="14.80" fill="#02bac3"/>
<rect x="365.76" y="1476.30" width="11.72" height="14.80" fill="#2cc4a7"/>
<rect x="377.08" y="1476.30" width="11.72" height="14.80" fill="#abc739"/>
<rect x="388.40" y="1476.30" width="11.72" height="14.80" fill="#febe3c"/>
<rect x="399.71" y="1476.30" width="11.72" height="14.80" fill="#dcbd29"/>
<rect x="411.03" y="1476.30" width="11.72" height="14.80" fill="#81cc59"/>
<rect x="422.35" y="1476.30" width="11.72" height="14.80" fill="#02bac3"/>
<rect x="433.67" y="1476.30" width="11.72" height="14.80" fill="#2e87f7"/>
<rect x="444.99" y="1476.30" width="11.72" height="14.80" fill="#3e6fff"/>
<rect x="456.30" y="1476.30" width="11.72" height="14.80" fill="#4852f4"/>
<rect x="467.62" y="1476.30" width="11.72" height="14.80" fill="#4852f4"/>
<rect x="478.94" y="1476.30" width="11.72" height="14.80" fill="#3e6fff"/>
<rect x="490.26" y="1476.30" width="11.72" height="14.80" fill="#18addb"/>
<rect x="501.58" y="1476.30" width="11.72" height="14.80" fill="#4acb84"/>
<rect x="512.89" y="1476.30" width="11.72" height="14.80" fill="#abc739"/>
<rect x="524.21" y="1476.30" width="11.72" height="14.80" fill="#dcbd29"/>
<rect x="535.53" y="1476.30" width="11.72" height="14.80" fill="#abc739"/>
<rect x="546.85" y="1476.30" width="11.72" height="14.80" fill="#4acb84"/>
<rect x="558.17" y="1476.30" width="11.72" height="14.80" fill="#02bac3"/>
<rect x="569.48" y="1476.30" width="11.72" height="14.80" fill="#259be8"/>
<rect x="580.80" y="1476.30" width="11.72" height="14.80" fill="#3e6fff"/>
<rect x="592.12" y="1476.30" width="11.72" height="14.80" fill="#4852f4"/>
<rect x="603.44" y="1476.30" width="11.72" height="14.80" fill="#4852f4"/>
<rect x="614.76" y="1476.30" width="11.72" height="14.80" fill="#3e6fff"/>
<rect x="626.07" y="1476.30" width="11.72" height="14.80" fill="#2e87f7"/>
<rect x="637.39" y="1476.30" width="11.72" height="14.80" fill="#259be8"/>
<rect x="648.71" y="1476.30" width="11.72" height="14.80" fill="#02bac3"/>
<rect x="660.03" y="1476.30" width="11.72" height="14.80" fill="#2cc4a7"/>
<rect x="671.35" y="1476.30" width="11.72" height="14.80" fill="#2cc4a7"/>
<rect x="682.66" y="1476.30" width="11.72" height="14.80" fill="#02bac3"/>
<rect x="693.98" y="1476.30" width="11.72" height="14.80" fill="#18addb"/>
<rect x="705.30" y="1476.30" width="11.72" height="14.80" fill="#259be8"/>
<rect x="716.62" y="1476.30" width="11.72" height="14.80" fill="#259be8"/>
<rect x="727.94" y="1476.30" width="11.72" height="14.80" fill="#259be8"/>
<rect x="739.25" y="1476.30" width="11.72" height="14.80" fill="#259be8"/>
<rect x="750.57" y="1476.30" width="11.72" height="14.80" fill="#259be8"/>
<rect x="761.89" y="1476.30" width="11.72" height="14.80" fill="#18addb"/>
<rect x="773.21" y="1476.30" width="11.72" height="14.80" fill="#02bac3"/>
<rect x="784.53" y="1476.30" width="11.72" height="14.80" fill="#2cc4a7"/>
<rect x="795.84" y="1476.30" width="11.72" height="14.80" fill="#4acb84"/>
<rect x="807.16" y="1476.30" width="11.72" height="14.80" fill="#81cc59"/>
<rect x="818.48" y="1476.30" width="11.72" height="14.80" fill="#81cc59"/>
<rect x="829.80" y="1476.30" width="11.72" height="14.80" fill="#abc739"/>
<rect x="841.12" y="1476.30" width="10.78" height="14.80" fill="#abc739"/>
<rect x="136.00" y="1490.70" width="3.80" height="14.80" fill="#18addb"/>
<rect x="139.40" y="1490.70" width="11.72" height="14.80" fill="#18addb"/>
<rect x="150.72" y="1490.70" width="11.72" height="14.80" fill="#18addb"/>
<rect x="162.04" y="1490.70" width="11.72" height="14.80" fill="#02bac3"/>
<rect x="173.35" y="1490.70" width="11.72" height="14.80" fill="#4acb84"/>
<rect x="184.67" y="1490.70" width="11.72" height="14.80" fill="#81cc59"/>
<rect x="195.99" y="1490.70" width="11.72" height="14.80" fill="#abc739"/>
<rect x="207.31" y="1490.70" width="11.72" height="14.80" fill="#81cc59"/>
<rect x="218.63" y="1490.70" width="11.72" height="14.80" fill="#4acb84"/>
<rect x="229.94" y="1490.70" width="11.72" height="14.80" fill="#2cc4a7"/>
<rect x="241.26" y="1490.70" width="11.72" height="14.80" fill="#02bac3"/>
<rect x="252.58" y="1490.70" width="11.72" height="14.80" fill="#18addb"/>
<rect x="263.90" y="1490.70" width="11.72" height="14.80" fill="#259be8"/>
<rect x="275.22" y="1490.70" width="11.72" height="14.80" fill="#259be8"/>
<rect x="286.53" y="1490.70" width="11.72" height="14.80" fill="#259be8"/>
<rect x="297.85" y="1490.70" width="11.72" height="14.80" fill="#18addb"/>
<rect x="309.17" y="1490.70" width="11.72" height="14.80" fill="#02bac3"/>
<rect x="320.49" y="1490.70" width="11.72" height="14.80" fill="#02bac3"/>
<rect x="331.81" y="1490.70" width="11.72" height="14.80" fill="#02bac3"/>
<rect x="343.12" y="1490.70" width="11.72" height="14.80" fill="#2cc4a7"/>
<rect x="354.44" y="1490.70" width="11.72" height="14.80" fill="#4acb84"/>
<rect x="365.76" y="1490.70" width="11.72" height="14.80" fill="#abc739"/>
<rect x="377.08" y="1490.70" width="11.72" height="14.80" fill="#abc739"/>
<rect x="388.40" y="1490.70" width="11.72" height="14.80" fill="#abc739"/>
<rect x="399.71" y="1490.70" width="11.72" height="14.80" fill="#81cc59"/>
<rect x="411.03" y="1490.70" width="11.72" height="14.80" fill="#2cc4a7"/>
<rect x="422.35" y="1490.70" width="11.72" height="14.80" fill="#18addb"/>
<rect x="433.67" y="1490.70" width="11.72" height="14.80" fill="#2e87f7"/>
<rect x="444.99" y="1490.70" width="11.72" height="14.80" fill="#3e6fff"/>
<rect x="456.30" y="1490.70" width="11.72" height="14.80" fill="#4852f4"/>
<rect x="467.62" y="1490.70" width="11.72" height="14.80" fill="#4852f4"/>
<rect x="478.94" y="1490.70" width="11.72" height="14.80" fill="#3e6fff"/>
<rect x="490.26" y="1490.70" width="11.72" height="14.80" fill="#18addb"/>
<rect x="501.58" y="1490.70" width="11.72" height="14.80" fill="#2cc4a7"/>
<rect x="512.89" y="1490.70" width="11.72" height="14.80" fill="#abc739"/>
<rect x="524.21" y="1490.70" width="11.72" height="14.80" fill="#dcbd29"/>
<rect x="535.53" y="1490.70" width="11.72" height="14.80" fill="#dcbd29"/>
<rect x="546.85" y="1490.70" width="11.72" height="14.80" fill="#81cc59"/>
<rect x="558.17" y="1490.70" width="11.72" height="14.80" fill="#2cc4a7"/>
<rect x="569.48" y="1490.70" width="11.72" height="14.80" fill="#18addb"/>
<rect x="580.80" y="1490.70" width="11.72" height="14.80" fill="#2e87f7"/>
<rect x="592.12" y="1490.70" width="11.72" height="14.80" fill="#4852f4"/>
<rect x="603.44" y="1490.70" width="11.72" height="14.80" fill="#463cde"/>
<rect x="614.76" y="1490.70" width="11.72" height="14.80" fill="#4852f4"/>
<rect x="626.07" y="1490.70" width="11.72" height="14.80" fill="#3e6fff"/>
<rect x="637.39" y="1490.70" width="11.72" height="14.80" fill="#259be8"/>
<rect x="648.71" y="1490.70" width="11.72" height="14.80" fill="#18addb"/>
<rect x="660.03" y="1490.70" width="11.72" height="14.80" fill="#2cc4a7"/>
<rect x="671.35" y="1490.70" width="11.72" height="14.80" fill="#4acb84"/>
<rect x="682.66" y="1490.70" width="11.72" height="14.80" fill="#81cc59"/>
<rect x="693.98" y="1490.70" width="11.72" height="14.80" fill="#81cc59"/>
<rect x="705.30" y="1490.70" width="11.72" height="14.80" fill="#4acb84"/>
<rect x="716.62" y="1490.70" width="11.72" height="14.80" fill="#2cc4a7"/>
<rect x="727.94" y="1490.70" width="11.72" height="14.80" fill="#02bac3"/>
<rect x="739.25" y="1490.70" width="11.72" height="14.80" fill="#18addb"/>
<rect x="750.57" y="1490.70" width="11.72" height="14.80" fill="#18addb"/>
<rect x="761.89" y="1490.70" width="11.72" height="14.80" fill="#18addb"/>
<rect x="773.21" y="1490.70" width="11.72" height="14.80" fill="#18addb"/>
<rect x="784.53" y="1490.70" width="11.72" height="14.80" fill="#18addb"/>
<rect x="795.84" y="1490.70" width="11.72" height="14.80" fill="#02bac3"/>
<rect x="807.16" y="1490.70" width="11.72" height="14.80" fill="#2cc4a7"/>
<rect x="818.48" y="1490.70" width="11.72" height="14.80" fill="#2cc4a7"/>
<rect x="829.80" y="1490.70" width="11.72" height="14.80" fill="#2cc4a7"/>
<rect x="841.12" y="1490.70" width="10.78" height="14.80" fill="#2cc4a7"/>
<rect x="136.00" y="1505.10" width="3.80" height="14.80" fill="#02bac3"/>
<rect x="139.40" y="1505.10" width="11.72" height="14.80" fill="#02bac3"/>
<rect x="150.72" y="1505.10" width="11.72" height="14.80" fill="#2cc4a7"/>
<rect x="162.04" y="1505.10" width="11.72" height="14.80" fill="#4acb84"/>
<rect x="173.35" y="1505.10" width="11.72" height="14.80" fill="#81cc59"/>
<rect x="184.67" y="1505.10" width="11.72" height="14.80" fill="#abc739"/>
<rect x="195.99" y="1505.10" width="11.72" height="14.80" fill="#dcbd29"/>
<rect x="207.31" y="1505.10" width="11.72" height="14.80" fill="#abc739"/>
<rect x="218.63" y="1505.10" width="11.72" height="14.80" fill="#4acb84"/>
<rect x="229.94" y="1505.10" width="11.72" height="14.80" fill="#02bac3"/>
<rect x="241.26" y="1505.10" width="11.72" height="14.80" fill="#259be8"/>
<rect x="252.58" y="1505.10" width="11.72" height="14.80" fill="#3e6fff"/>
<rect x="263.90" y="1505.10" width="11.72" height="14.80" fill="#4852f4"/>
<rect x="275.22" y="1505.10" width="11.72" height="14.80" fill="#4852f4"/>
<rect x="286.53" y="1505.10" width="11.72" height="14.80" fill="#3e6fff"/>
<rect x="297.85" y="1505.10" width="11.72" height="14.80" fill="#2e87f7"/>
<rect x="309.17" y="1505.10" width="11.72" height="14.80" fill="#18addb"/>
<rect x="320.49" y="1505.10" width="11.72" height="14.80" fill="#02bac3"/>
<rect x="331.81" y="1505.10" width="11.72" height="14.80" fill="#2cc4a7"/>
<rect x="343.12" y="1505.10" width="11.72" height="14.80" fill="#4acb84"/>
<rect x="354.44" y="1505.10" width="11.72" height="14.80" fill="#4acb84"/>
<rect x="365.76" y="1505.10" width="11.72" height="14.80" fill="#81cc59"/>
<rect x="377.08" y="1505.10" width="11.72" height="14.80" fill="#81cc59"/>
<rect x="388.40" y="1505.10" width="11.72" height="14.80" fill="#4acb84"/>
<rect x="399.71" y="1505.10" width="11.72" height="14.80" fill="#2cc4a7"/>
<rect x="411.03" y="1505.10" width="11.72" height="14.80" fill="#02bac3"/>
<rect x="422.35" y="1505.10" width="11.72" height="14.80" fill="#18addb"/>
<rect x="433.67" y="1505.10" width="11.72" height="14.80" fill="#259be8"/>
<rect x="444.99" y="1505.10" width="11.72" height="14.80" fill="#2e87f7"/>
<rect x="456.30" y="1505.10" width="11.72" height="14.80" fill="#2e87f7"/>
<rect x="467.62" y="1505.10" width="11.72" height="14.80" fill="#2e87f7"/>
<rect x="478.94" y="1505.10" width="11.72" height="14.80" fill="#2e87f7"/>
<rect x="490.26" y="1505.10" width="11.72" height="14.80" fill="#18addb"/>
<rect x="501.58" y="1505.10" width="11.72" height="14.80" fill="#02bac3"/>
<rect x="512.89" y="1505.10" width="11.72" height="14.80" fill="#4acb84"/>
<rect x="524.21" y="1505.10" width="11.72" height="14.80" fill="#81cc59"/>
<rect x="535.53" y="1505.10" width="11.72" height="14.80" fill="#81cc59"/>
<rect x="546.85" y="1505.10" width="11.72" height="14.80" fill="#4acb84"/>
<rect x="558.17" y="1505.10" width="11.72" height="14.80" fill="#2cc4a7"/>
<rect x="569.48" y="1505.10" width="11.72" height="14.80" fill="#18addb"/>
<rect x="580.80" y="1505.10" width="11.72" height="14.80" fill="#259be8"/>
<rect x="592.12" y="1505.10" width="11.72" height="14.80" fill="#2e87f7"/>
<rect x="603.44" y="1505.10" width="11.72" height="14.80" fill="#3e6fff"/>
<rect x="614.76" y="1505.10" width="11.72" height="14.80" fill="#3e6fff"/>
<rect x="626.07" y="1505.10" width="11.72" height="14.80" fill="#2e87f7"/>
<rect x="637.39" y="1505.10" width="11.72" height="14.80" fill="#259be8"/>
<rect x="648.71" y="1505.10" width="11.72" height="14.80" fill="#18addb"/>
<rect x="660.03" y="1505.10" width="11.72" height="14.80" fill="#2cc4a7"/>
<rect x="671.35" y="1505.10" width="11.72" height="14.80" fill="#81cc59"/>
<rect x="682.66" y="1505.10" width="11.72" height="14.80" fill="#dcbd29"/>
<rect x="693.98" y="1505.10" width="11.72" height="14.80" fill="#febe3c"/>
<rect x="705.30" y="1505.10" width="11.72" height="14.80" fill="#febe3c"/>
<rect x="716.62" y="1505.10" width="11.72" height="14.80" fill="#dcbd29"/>
<rect x="727.94" y="1505.10" width="11.72" height="14.80" fill="#81cc59"/>
<rect x="739.25" y="1505.10" width="11.72" height="14.80" fill="#2cc4a7"/>
<rect x="750.57" y="1505.10" width="11.72" height="14.80" fill="#02bac3"/>
<rect x="761.89" y="1505.10" width="11.72" height="14.80" fill="#18addb"/>
<rect x="773.21" y="1505.10" width="11.72" height="14.80" fill="#259be8"/>
<rect x="784.53" y="1505.10" width="11.72" height="14.80" fill="#259be8"/>
<rect x="795.84" y="1505.10" width="11.72" height="14.80" fill="#259be8"/>
<rect x="807.16" y="1505.10" width="11.72" height="14.80" fill="#259be8"/>
<rect x="818.48" y="1505.10" width="11.72" height="14.80" fill="#18addb"/>
<rect x="829.80" y="1505.10" width="11.72" height="14.80" fill="#18addb"/>
<rect x="841.12" y="1505.10" width="10.78" height="14.80" fill="#18addb"/>
<rect x="136.00" y="1519.50" width="3.80" height="14.80" fill="#abc739"/>
<rect x="139.40" y="1519.50" width="11.72" height="14.80" fill="#81cc59"/>
<rect x="150.72" y="1519.50" width="11.72" height="14.80" fill="#81cc59"/>
<rect x="162.04" y="1519.50" width="11.72" height="14.80" fill="#81cc59"/>
<rect x="173.35" y="1519.50" width="11.72" height="14.80" fill="#abc739"/>
<rect x="184.67" y="1519.50" width="11.72" height="14.80" fill="#dcbd29"/>
<rect x="195.99" y="1519.50" width="11.72" height="14.80" fill="#dcbd29"/>
<rect x="207.31" y="1519.50" width="11.72" height="14.80" fill="#abc739"/>
<rect x="218.63" y="1519.50" width="11.72" height="14.80" fill="#4acb84"/>
<rect x="229.94" y="1519.50" width="11.72" height="14.80" fill="#18addb"/>
<rect x="241.26" y="1519.50" width="11.72" height="14.80" fill="#2e87f7"/>
<rect x="252.58" y="1519.50" width="11.72" height="14.80" fill="#4852f4"/>
<rect x="263.90" y="1519.50" width="11.72" height="14.80" fill="#463cde"/>
<rect x="275.22" y="1519.50" width="11.72" height="14.80" fill="#463cde"/>
<rect x="286.53" y="1519.50" width="11.72" height="14.80" fill="#4852f4"/>
<rect x="297.85" y="1519.50" width="11.72" height="14.80" fill="#2e87f7"/>
<rect x="309.17" y="1519.50" width="11.72" height="14.80" fill="#259be8"/>
<rect x="320.49" y="1519.50" width="11.72" height="14.80" fill="#02bac3"/>
<rect x="331.81" y="1519.50" width="11.72" height="14.80" fill="#2cc4a7"/>
<rect x="343.12" y="1519.50" width="11.72" height="14.80" fill="#4acb84"/>
<rect x="354.44" y="1519.50" width="11.72" height="14.80" fill="#4acb84"/>
<rect x="365.76" y="1519.50" width="11.72" height="14.80" fill="#2cc4a7"/>
<rect x="377.08" y="1519.50" width="11.72" height="14.80" fill="#02bac3"/>
<rect x="388.40" y="1519.50" width="11.72" height="14.80" fill="#18addb"/>
<rect x="399.71" y="1519.50" width="11.72" height="14.80" fill="#259be8"/>
<rect x="411.03" y="1519.50" width="11.72" height="14.80" fill="#259be8"/>
<rect x="422.35" y="1519.50" width="11.72" height="14.80" fill="#259be8"/>
<rect x="433.67" y="1519.50" width="11.72" height="14.80" fill="#259be8"/>
<rect x="444.99" y="1519.50" width="11.72" height="14.80" fill="#259be8"/>
<rect x="456.30" y="1519.50" width="11.72" height="14.80" fill="#259be8"/>
<rect x="467.62" y="1519.50" width="11.72" height="14.80" fill="#259be8"/>
<rect x="478.94" y="1519.50" width="11.72" height="14.80" fill="#18addb"/>
<rect x="490.26" y="1519.50" width="11.72" height="14.80" fill="#18addb"/>
<rect x="501.58" y="1519.50" width="11.72" height="14.80" fill="#18addb"/>
<rect x="512.89" y="1519.50" width="11.72" height="14.80" fill="#18addb"/>
<rect x="524.21" y="1519.50" width="11.72" height="14.80" fill="#02bac3"/>
<rect x="535.53" y="1519.50" width="11.72" height="14.80" fill="#2cc4a7"/>
<rect x="546.85" y="1519.50" width="11.72" height="14.80" fill="#4acb84"/>
<rect x="558.17" y="1519.50" width="11.72" height="14.80" fill="#4acb84"/>
<rect x="569.48" y="1519.50" width="11.72" height="14.80" fill="#4acb84"/>
<rect x="580.80" y="1519.50" width="11.72" height="14.80" fill="#2cc4a7"/>
<rect x="592.12" y="1519.50" width="11.72" height="14.80" fill="#02bac3"/>
<rect x="603.44" y="1519.50" width="11.72" height="14.80" fill="#18addb"/>
<rect x="614.76" y="1519.50" width="11.72" height="14.80" fill="#259be8"/>
<rect x="626.07" y="1519.50" width="11.72" height="14.80" fill="#259be8"/>
<rect x="637.39" y="1519.50" width="11.72" height="14.80" fill="#259be8"/>
<rect x="648.71" y="1519.50" width="11.72" height="14.80" fill="#18addb"/>
<rect x="660.03" y="1519.50" width="11.72" height="14.80" fill="#2cc4a7"/>
<rect x="671.35" y="1519.50" width="11.72" height="14.80" fill="#81cc59"/>
<rect x="682.66" y="1519.50" width="11.72" height="14.80" fill="#dcbd29"/>
<rect x="693.98" y="1519.50" width="11.72" height="14.80" fill="#febe3c"/>
<rect x="705.30" y="1519.50" width="11.72" height="14.80" fill="#f7dc2a"/>
<rect x="716.62" y="1519.50" width="11.72" height="14.80" fill="#febe3c"/>
<rect x="727.94" y="1519.50" width="11.72" height="14.80" fill="#dcbd29"/>
<rect x="739.25" y="1519.50" width="11.72" height="14.80" fill="#81cc59"/>
<rect x="750.57" y="1519.50" width="11.72" height="14.80" fill="#2cc4a7"/>
<rect x="761.89" y="1519.50" width="11.72" height="14.80" fill="#18addb"/>
<rect x="773.21" y="1519.50" width="11.72" height="14.80" fill="#259be8"/>
<rect x="784.53" y="1519.50" width="11.72" height="14.80" fill="#2e87f7"/>
<rect x="795.84" y="1519.50" width="11.72" height="14.80" fill="#2e87f7"/>
<rect x="807.16" y="1519.50" width="11.72" height="14.80" fill="#2e87f7"/>
<rect x="818.48" y="1519.50" width="11.72" height="14.80" fill="#2e87f7"/>
<rect x="829.80" y="1519.50" width="11.72" height="14.80" fill="#2e87f7"/>
<rect x="841.12" y="1519.50" width="10.78" height="14.80" fill="#2e87f7"/>
<rect x="136.00" y="1533.90" width="3.80" height="14.80" fill="#dcbd29"/>
<rect x="139.40" y="1533.90" width="11.72" height="14.80" fill="#81cc59"/>
<rect x="150.72" y="1533.90" width="11.72" height="14.80" fill="#4acb84"/>
<rect x="162.04" y="1533.90" width="11.72" height="14.80" fill="#4acb84"/>
<rect x="173.35" y="1533.90" width="11.72" height="14.80" fill="#81cc59"/>
<rect x="184.67" y="1533.90" width="11.72" height="14.80" fill="#81cc59"/>
<rect x="195.99" y="1533.90" width="11.72" height="14.80" fill="#abc739"/>
<rect x="207.31" y="1533.90" width="11.72" height="14.80" fill="#81cc59"/>
<rect x="218.63" y="1533.90" width="11.72" height="14.80" fill="#2cc4a7"/>
<rect x="229.94" y="1533.90" width="11.72" height="14.80" fill="#18addb"/>
<rect x="241.26" y="1533.90" width="11.72" height="14.80" fill="#2e87f7"/>
<rect x="252.58" y="1533.90" width="11.72" height="14.80" fill="#3e6fff"/>
<rect x="263.90" y="1533.90" width="11.72" height="14.80" fill="#463cde"/>
<rect x="275.22" y="1533.90" width="11.72" height="14.80" fill="#463cde"/>
<rect x="286.53" y="1533.90" width="11.72" height="14.80" fill="#3e6fff"/>
<rect x="297.85" y="1533.90" width="11.72" height="14.80" fill="#259be8"/>
<rect x="309.17" y="1533.90" width="11.72" height="14.80" fill="#18addb"/>
<rect x="320.49" y="1533.90" width="11.72" height="14.80" fill="#2cc4a7"/>
<rect x="331.81" y="1533.90" width="11.72" height="14.80" fill="#4acb84"/>
<rect x="343.12" y="1533.90" width="11.72" height="14.80" fill="#4acb84"/>
<rect x="354.44" y="1533.90" width="11.72" height="14.80" fill="#2cc4a7"/>
<rect x="365.76" y="1533.90" width="11.72" height="14.80" fill="#18addb"/>
<rect x="377.08" y="1533.90" width="11.72" height="14.80" fill="#259be8"/>
<rect x="388.40" y="1533.90" width="11.72" height="14.80" fill="#2e87f7"/>
<rect x="399.71" y="1533.90" width="11.72" height="14.80" fill="#2e87f7"/>
<rect x="411.03" y="1533.90" width="11.72" height="14.80" fill="#2e87f7"/>
<rect x="422.35" y="1533.90" width="11.72" height="14.80" fill="#259be8"/>
<rect x="433.67" y="1533.90" width="11.72" height="14.80" fill="#18addb"/>
<rect x="444.99" y="1533.90" width="11.72" height="14.80" fill="#02bac3"/>
<rect x="456.30" y="1533.90" width="11.72" height="14.80" fill="#2cc4a7"/>
<rect x="467.62" y="1533.90" width="11.72" height="14.80" fill="#2cc4a7"/>
<rect x="478.94" y="1533.90" width="11.72" height="14.80" fill="#02bac3"/>
<rect x="490.26" y="1533.90" width="11.72" height="14.80" fill="#18addb"/>
<rect x="501.58" y="1533.90" width="11.72" height="14.80" fill="#259be8"/>
<rect x="512.89" y="1533.90" width="11.72" height="14.80" fill="#2e87f7"/>
<rect x="524.21" y="1533.90" width="11.72" height="14.80" fill="#2e87f7"/>
<rect x="535.53" y="1533.90" width="11.72" height="14.80" fill="#259be8"/>
<rect x="546.85" y="1533.90" width="11.72" height="14.80" fill="#18addb"/>
<rect x="558.17" y="1533.90" width="11.72" height="14.80" fill="#2cc4a7"/>
<rect x="569.48" y="1533.90" width="11.72" height="14.80" fill="#4acb84"/>
<rect x="580.80" y="1533.90" width="11.72" height="14.80" fill="#81cc59"/>
<rect x="592.12" y="1533.90" width="11.72" height="14.80" fill="#4acb84"/>
<rect x="603.44" y="1533.90" width="11.72" height="14.80" fill="#2cc4a7"/>
<rect x="614.76" y="1533.90" width="11.72" height="14.80" fill="#02bac3"/>
<rect x="626.07" y="1533.90" width="11.72" height="14.80" fill="#18addb"/>
<rect x="637.39" y="1533.90" width="11.72" height="14.80" fill="#259be8"/>
<rect x="648.71" y="1533.90" width="11.72" height="14.80" fill="#259be8"/>
<rect x="660.03" y="1533.90" width="11.72" height="14.80" fill="#02bac3"/>
<rect x="671.35" y="1533.90" width="11.72" height="14.80" fill="#2cc4a7"/>
<rect x="682.66" y="1533.90" width="11.72" height="14.80" fill="#4acb84"/>
<rect x="693.98" y="1533.90" width="11.72" height="14.80" fill="#abc739"/>
<rect x="705.30" y="1533.90" width="11.72" height="14.80" fill="#dcbd29"/>
<rect x="716.62" y="1533.90" width="11.72" height="14.80" fill="#dcbd29"/>
<rect x="727.94" y="1533.90" width="11.72" height="14.80" fill="#dcbd29"/>
<rect x="739.25" y="1533.90" width="11.72" height="14.80" fill="#81cc59"/>
<rect x="750.57" y="1533.90" width="11.72" height="14.80" fill="#2cc4a7"/>
<rect x="761.89" y="1533.90" width="11.72" height="14.80" fill="#02bac3"/>
<rect x="773.21" y="1533.90" width="11.72" height="14.80" fill="#18addb"/>
<rect x="784.53" y="1533.90" width="11.72" height="14.80" fill="#259be8"/>
<rect x="795.84" y="1533.90" width="11.72" height="14.80" fill="#259be8"/>
<rect x="807.16" y="1533.90" width="11.72" height="14.80" fill="#259be8"/>
<rect x="818.48" y="1533.90" width="11.72" height="14.80" fill="#259be8"/>
<rect x="829.80" y="1533.90" width="11.72" height="14.80" fill="#259be8"/>
<rect x="841.12" y="1533.90" width="10.78" height="14.80" fill="#259be8"/>
<rect x="136.00" y="1548.30" width="3.80" height="14.80" fill="#4acb84"/>
<rect x="139.40" y="1548.30" width="11.72" height="14.80" fill="#4acb84"/>
<rect x="150.72" y="1548.30" width="11.72" height="14.80" fill="#2cc4a7"/>
<rect x="162.04" y="1548.30" width="11.72" height="14.80" fill="#2cc4a7"/>
<rect x="173.35" y="1548.30" width="11.72" height="14.80" fill="#2cc4a7"/>
<rect x="184.67" y="1548.30" width="11.72" height="14.80" fill="#4acb84"/>
<rect x="195.99" y="1548.30" width="11.72" height="14.80" fill="#4acb84"/>
<rect x="207.31" y="1548.30" width="11.72" height="14.80" fill="#4acb84"/>
<rect x="218.63" y="1548.30" width="11.72" height="14.80" fill="#2cc4a7"/>
<rect x="229.94" y="1548.30" width="11.72" height="14.80" fill="#02bac3"/>
<rect x="241.26" y="1548.30" width="11.72" height="14.80" fill="#259be8"/>
<rect x="252.58" y="1548.30" width="11.72" height="14.80" fill="#2e87f7"/>
<rect x="263.90" y="1548.30" width="11.72" height="14.80" fill="#2e87f7"/>
<rect x="275.22" y="1548.30" width="11.72" height="14.80" fill="#2e87f7"/>
<rect x="286.53" y="1548.30" width="11.72" height="14.80" fill="#259be8"/>
<rect x="297.85" y="1548.30" width="11.72" height="14.80" fill="#18addb"/>
<rect x="309.17" y="1548.30" width="11.72" height="14.80" fill="#2cc4a7"/>
<rect x="320.49" y="1548.30" width="11.72" height="14.80" fill="#4acb84"/>
<rect x="331.81" y="1548.30" width="11.72" height="14.80" fill="#4acb84"/>
<rect x="343.12" y="1548.30" width="11.72" height="14.80" fill="#2cc4a7"/>
<rect x="354.44" y="1548.30" width="11.72" height="14.80" fill="#18addb"/>
<rect x="365.76" y="1548.30" width="11.72" height="14.80" fill="#2e87f7"/>
<rect x="377.08" y="1548.30" width="11.72" height="14.80" fill="#3e6fff"/>
<rect x="388.40" y="1548.30" width="11.72" height="14.80" fill="#4852f4"/>
<rect x="399.71" y="1548.30" width="11.72" height="14.80" fill="#4852f4"/>
<rect x="411.03" y="1548.30" width="11.72" height="14.80" fill="#2e87f7"/>
<rect x="422.35" y="1548.30" width="11.72" height="14.80" fill="#18addb"/>
<rect x="433.67" y="1548.30" width="11.72" height="14.80" fill="#2cc4a7"/>
<rect x="444.99" y="1548.30" width="11.72" height="14.80" fill="#abc739"/>
<rect x="456.30" y="1548.30" width="11.72" height="14.80" fill="#abc739"/>
<rect x="467.62" y="1548.30" width="11.72" height="14.80" fill="#abc739"/>
<rect x="478.94" y="1548.30" width="11.72" height="14.80" fill="#4acb84"/>
<rect x="490.26" y="1548.30" width="11.72" height="14.80" fill="#18addb"/>
<rect x="501.58" y="1548.30" width="11.72" height="14.80" fill="#2e87f7"/>
<rect x="512.89" y="1548.30" width="11.72" height="14.80" fill="#4852f4"/>
<rect x="524.21" y="1548.30" width="11.72" height="14.80" fill="#4852f4"/>
<rect x="535.53" y="1548.30" width="11.72" height="14.80" fill="#4852f4"/>
<rect x="546.85" y="1548.30" width="11.72" height="14.80" fill="#2e87f7"/>
<rect x="558.17" y="1548.30" width="11.72" height="14.80" fill="#18addb"/>
<rect x="569.48" y="1548.30" width="11.72" height="14.80" fill="#4acb84"/>
<rect x="580.80" y="1548.30" width="11.72" height="14.80" fill="#abc739"/>
<rect x="592.12" y="1548.30" width="11.72" height="14.80" fill="#dcbd29"/>
<rect x="603.44" y="1548.30" width="11.72" height="14.80" fill="#abc739"/>
<rect x="614.76" y="1548.30" width="11.72" height="14.80" fill="#4acb84"/>
<rect x="626.07" y="1548.30" width="11.72" height="14.80" fill="#2cc4a7"/>
<rect x="637.39" y="1548.30" width="11.72" height="14.80" fill="#18addb"/>
<rect x="648.71" y="1548.30" width="11.72" height="14.80" fill="#259be8"/>
<rect x="660.03" y="1548.30" width="11.72" height="14.80" fill="#259be8"/>
<rect x="671.35" y="1548.30" width="11.72" height="14.80" fill="#259be8"/>
<rect x="682.66" y="1548.30" width="11.72" height="14.80" fill="#18addb"/>
<rect x="693.98" y="1548.30" width="11.72" height="14.80" fill="#02bac3"/>
<rect x="705.30" y="1548.30" width="11.72" height="14.80" fill="#2cc4a7"/>
<rect x="716.62" y="1548.30" width="11.72" height="14.80" fill="#4acb84"/>
<rect x="727.94" y="1548.30" width="11.72" height="14.80" fill="#4acb84"/>
<rect x="739.25" y="1548.30" width="11.72" height="14.80" fill="#4acb84"/>
<rect x="750.57" y="1548.30" width="11.72" height="14.80" fill="#2cc4a7"/>
<rect x="761.89" y="1548.30" width="11.72" height="14.80" fill="#2cc4a7"/>
<rect x="773.21" y="1548.30" width="11.72" height="14.80" fill="#02bac3"/>
<rect x="784.53" y="1548.30" width="11.72" height="14.80" fill="#02bac3"/>
<rect x="795.84" y="1548.30" width="11.72" height="14.80" fill="#02bac3"/>
<rect x="807.16" y="1548.30" width="11.72" height="14.80" fill="#02bac3"/>
<rect x="818.48" y="1548.30" width="11.72" height="14.80" fill="#02bac3"/>
<rect x="829.80" y="1548.30" width="11.72" height="14.80" fill="#02bac3"/>
<rect x="841.12" y="1548.30" width="10.78" height="14.80" fill="#18addb"/>
<rect x="136.00" y="1562.70" width="3.80" height="14.80" fill="#02bac3"/>
<rect x="139.40" y="1562.70" width="11.72" height="14.80" fill="#02bac3"/>
<rect x="150.72" y="1562.70" width="11.72" height="14.80" fill="#18addb"/>
<rect x="162.04" y="1562.70" width="11.72" height="14.80" fill="#18addb"/>
<rect x="173.35" y="1562.70" width="11.72" height="14.80" fill="#18addb"/>
<rect x="184.67" y="1562.70" width="11.72" height="14.80" fill="#18addb"/>
<rect x="195.99" y="1562.70" width="11.72" height="14.80" fill="#02bac3"/>
<rect x="207.31" y="1562.70" width="11.72" height="14.80" fill="#2cc4a7"/>
<rect x="218.63" y="1562.70" width="11.72" height="14.80" fill="#2cc4a7"/>
<rect x="229.94" y="1562.70" width="11.72" height="14.80" fill="#2cc4a7"/>
<rect x="241.26" y="1562.70" width="11.72" height="14.80" fill="#02bac3"/>
<rect x="252.58" y="1562.70" width="11.72" height="14.80" fill="#18addb"/>
<rect x="263.90" y="1562.70" width="11.72" height="14.80" fill="#18addb"/>
<rect x="275.22" y="1562.70" width="11.72" height="14.80" fill="#18addb"/>
<rect x="286.53" y="1562.70" width="11.72" height="14.80" fill="#02bac3"/>
<rect x="297.85" y="1562.70" width="11.72" height="14.80" fill="#4acb84"/>
<rect x="309.17" y="1562.70" width="11.72" height="14.80" fill="#81cc59"/>
<rect x="320.49" y="1562.70" width="11.72" height="14.80" fill="#abc739"/>
<rect x="331.81" y="1562.70" width="11.72" height="14.80" fill="#4acb84"/>
<rect x="343.12" y="1562.70" width="11.72" height="14.80" fill="#2cc4a7"/>
<rect x="354.44" y="1562.70" width="11.72" height="14.80" fill="#259be8"/>
<rect x="365.76" y="1562.70" width="11.72" height="14.80" fill="#3e6fff"/>
<rect x="377.08" y="1562.70" width="11.72" height="14.80" fill="#4852f4"/>
<rect x="388.40" y="1562.70" width="11.72" height="14.80" fill="#463cde"/>
<rect x="399.71" y="1562.70" width="11.72" height="14.80" fill="#4852f4"/>
<rect x="411.03" y="1562.70" width="11.72" height="14.80" fill="#2e87f7"/>
<rect x="422.35" y="1562.70" width="11.72" height="14.80" fill="#18addb"/>
<rect x="433.67" y="1562.70" width="11.72" height="14.80" fill="#4acb84"/>
<rect x="444.99" y="1562.70" width="11.72" height="14.80" fill="#febe3c"/>
<rect x="456.30" y="1562.70" width="11.72" height="14.80" fill="#f7dc2a"/>
<rect x="467.62" y="1562.70" width="11.72" height="14.80" fill="#febe3c"/>
<rect x="478.94" y="1562.70" width="11.72" height="14.80" fill="#81cc59"/>
<rect x="490.26" y="1562.70" width="11.72" height="14.80" fill="#18addb"/>
<rect x="501.58" y="1562.70" width="11.72" height="14.80" fill="#3e6fff"/>
<rect x="512.89" y="1562.70" width="11.72" height="14.80" fill="#463cde"/>
<rect x="524.21" y="1562.70" width="11.72" height="14.80" fill="#402ab4"/>
<rect x="535.53" y="1562.70" width="11.72" height="14.80" fill="#463cde"/>
<rect x="546.85" y="1562.70" width="11.72" height="14.80" fill="#4852f4"/>
<rect x="558.17" y="1562.70" width="11.72" height="14.80" fill="#259be8"/>
<rect x="569.48" y="1562.70" width="11.72" height="14.80" fill="#2cc4a7"/>
<rect x="580.80" y="1562.70" width="11.72" height="14.80" fill="#81cc59"/>
<rect x="592.12" y="1562.70" width="11.72" height="14.80" fill="#febe3c"/>
<rect x="603.44" y="1562.70" width="11.72" height="14.80" fill="#febe3c"/>
<rect x="614.76" y="1562.70" width="11.72" height="14.80" fill="#abc739"/>
<rect x="626.07" y="1562.70" width="11.72" height="14.80" fill="#2cc4a7"/>
<rect x="637.39" y="1562.70" width="11.72" height="14.80" fill="#18addb"/>
<rect x="648.71" y="1562.70" width="11.72" height="14.80" fill="#259be8"/>
<rect x="660.03" y="1562.70" width="11.72" height="14.80" fill="#2e87f7"/>
<rect x="671.35" y="1562.70" width="11.72" height="14.80" fill="#3e6fff"/>
<rect x="682.66" y="1562.70" width="11.72" height="14.80" fill="#3e6fff"/>
<rect x="693.98" y="1562.70" width="11.72" height="14.80" fill="#2e87f7"/>
<rect x="705.30" y="1562.70" width="11.72" height="14.80" fill="#259be8"/>
<rect x="716.62" y="1562.70" width="11.72" height="14.80" fill="#18addb"/>
<rect x="727.94" y="1562.70" width="11.72" height="14.80" fill="#02bac3"/>
<rect x="739.25" y="1562.70" width="11.72" height="14.80" fill="#02bac3"/>
<rect x="750.57" y="1562.70" width="11.72" height="14.80" fill="#2cc4a7"/>
<rect x="761.89" y="1562.70" width="11.72" height="14.80" fill="#2cc4a7"/>
<rect x="773.21" y="1562.70" width="11.72" height="14.80" fill="#2cc4a7"/>
<rect x="784.53" y="1562.70" width="11.72" height="14.80" fill="#2cc4a7"/>
<rect x="795.84" y="1562.70" width="11.72" height="14.80" fill="#2cc4a7"/>
<rect x="807.16" y="1562.70" width="11.72" height="14.80" fill="#4acb84"/>
<rect x="818.48" y="1562.70" width="11.72" height="14.80" fill="#4acb84"/>
<rect x="829.80" y="1562.70" width="11.72" height="14.80" fill="#4acb84"/>
<rect x="841.12" y="1562.70" width="10.78" height="14.80" fill="#2cc4a7"/>
<rect x="136.00" y="1577.10" width="3.80" height="14.80" fill="#18addb"/>
<rect x="139.40" y="1577.10" width="11.72" height="14.80" fill="#259be8"/>
<rect x="150.72" y="1577.10" width="11.72" height="14.80" fill="#259be8"/>
<rect x="162.04" y="1577.10" width="11.72" height="14.80" fill="#2e87f7"/>
<rect x="173.35" y="1577.10" width="11.72" height="14.80" fill="#2e87f7"/>
<rect x="184.67" y="1577.10" width="11.72" height="14.80" fill="#259be8"/>
<rect x="195.99" y="1577.10" width="11.72" height="14.80" fill="#18addb"/>
<rect x="207.31" y="1577.10" width="11.72" height="14.80" fill="#02bac3"/>
<rect x="218.63" y="1577.10" width="11.72" height="14.80" fill="#2cc4a7"/>
<rect x="229.94" y="1577.10" width="11.72" height="14.80" fill="#4acb84"/>
<rect x="241.26" y="1577.10" width="11.72" height="14.80" fill="#4acb84"/>
<rect x="252.58" y="1577.10" width="11.72" height="14.80" fill="#4acb84"/>
<rect x="263.90" y="1577.10" width="11.72" height="14.80" fill="#81cc59"/>
<rect x="275.22" y="1577.10" width="11.72" height="14.80" fill="#81cc59"/>
<rect x="286.53" y="1577.10" width="11.72" height="14.80" fill="#abc739"/>
<rect x="297.85" y="1577.10" width="11.72" height="14.80" fill="#abc739"/>
<rect x="309.17" y="1577.10" width="11.72" height="14.80" fill="#abc739"/>
<rect x="320.49" y="1577.10" width="11.72" height="14.80" fill="#abc739"/>
<rect x="331.81" y="1577.10" width="11.72" height="14.80" fill="#4acb84"/>
<rect x="343.12" y="1577.10" width="11.72" height="14.80" fill="#2cc4a7"/>
<rect x="354.44" y="1577.10" width="11.72" height="14.80" fill="#259be8"/>
<rect x="365.76" y="1577.10" width="11.72" height="14.80" fill="#3e6fff"/>
<rect x="377.08" y="1577.10" width="11.72" height="14.80" fill="#4852f4"/>
<rect x="388.40" y="1577.10" width="11.72" height="14.80" fill="#4852f4"/>
<rect x="399.71" y="1577.10" width="11.72" height="14.80" fill="#4852f4"/>
<rect x="411.03" y="1577.10" width="11.72" height="14.80" fill="#2e87f7"/>
<rect x="422.35" y="1577.10" width="11.72" height="14.80" fill="#18addb"/>
<rect x="433.67" y="1577.10" width="11.72" height="14.80" fill="#81cc59"/>
<rect x="444.99" y="1577.10" width="11.72" height="14.80" fill="#febe3c"/>
<rect x="456.30" y="1577.10" width="11.72" height="14.80" fill="#f7dc2a"/>
<rect x="467.62" y="1577.10" width="11.72" height="14.80" fill="#febe3c"/>
<rect x="478.94" y="1577.10" width="11.72" height="14.80" fill="#81cc59"/>
<rect x="490.26" y="1577.10" width="11.72" height="14.80" fill="#18addb"/>
<rect x="501.58" y="1577.10" width="11.72" height="14.80" fill="#3e6fff"/>
<rect x="512.89" y="1577.10" width="11.72" height="14.80" fill="#463cde"/>
<rect x="524.21" y="1577.10" width="11.72" height="14.80" fill="#402ab4"/>
<rect x="535.53" y="1577.10" width="11.72" height="14.80" fill="#402ab4"/>
<rect x="546.85" y="1577.10" width="11.72" height="14.80" fill="#4852f4"/>
<rect x="558.17" y="1577.10" width="11.72" height="14.80" fill="#2e87f7"/>
<rect x="569.48" y="1577.10" width="11.72" height="14.80" fill="#02bac3"/>
<rect x="580.80" y="1577.10" width="11.72" height="14.80" fill="#4acb84"/>
<rect x="592.12" y="1577.10" width="11.72" height="14.80" fill="#abc739"/>
<rect x="603.44" y="1577.10" width="11.72" height="14.80" fill="#dcbd29"/>
<rect x="614.76" y="1577.10" width="11.72" height="14.80" fill="#abc739"/>
<rect x="626.07" y="1577.10" width="11.72" height="14.80" fill="#2cc4a7"/>
<rect x="637.39" y="1577.10" width="11.72" height="14.80" fill="#18addb"/>
<rect x="648.71" y="1577.10" width="11.72" height="14.80" fill="#259be8"/>
<rect x="660.03" y="1577.10" width="11.72" height="14.80" fill="#3e6fff"/>
<rect x="671.35" y="1577.10" width="11.72" height="14.80" fill="#4852f4"/>
<rect x="682.66" y="1577.10" width="11.72" height="14.80" fill="#4852f4"/>
<rect x="693.98" y="1577.10" width="11.72" height="14.80" fill="#4852f4"/>
<rect x="705.30" y="1577.10" width="11.72" height="14.80" fill="#3e6fff"/>
<rect x="716.62" y="1577.10" width="11.72" height="14.80" fill="#2e87f7"/>
<rect x="727.94" y="1577.10" width="11.72" height="14.80" fill="#259be8"/>
<rect x="739.25" y="1577.10" width="11.72" height="14.80" fill="#18addb"/>
<rect x="750.57" y="1577.10" width="11.72" height="14.80" fill="#02bac3"/>
<rect x="761.89" y="1577.10" width="11.72" height="14.80" fill="#2cc4a7"/>
<rect x="773.21" y="1577.10" width="11.72" height="14.80" fill="#4acb84"/>
<rect x="784.53" y="1577.10" width="11.72" height="14.80" fill="#81cc59"/>
<rect x="795.84" y="1577.10" width="11.72" height="14.80" fill="#abc739"/>
<rect x="807.16" y="1577.10" width="11.72" height="14.80" fill="#abc739"/>
<rect x="818.48" y="1577.10" width="11.72" height="14.80" fill="#dcbd29"/>
<rect x="829.80" y="1577.10" width="11.72" height="14.80" fill="#dcbd29"/>
<rect x="841.12" y="1577.10" width="10.78" height="14.80" fill="#dcbd29"/>
<rect x="136.00" y="1591.50" width="3.80" height="14.80" fill="#259be8"/>
<rect x="139.40" y="1591.50" width="11.72" height="14.80" fill="#259be8"/>
<rect x="150.72" y="1591.50" width="11.72" height="14.80" fill="#2e87f7"/>
<rect x="162.04" y="1591.50" width="11.72" height="14.80" fill="#2e87f7"/>
<rect x="173.35" y="1591.50" width="11.72" height="14.80" fill="#2e87f7"/>
<rect x="184.67" y="1591.50" width="11.72" height="14.80" fill="#2e87f7"/>
<rect x="195.99" y="1591.50" width="11.72" height="14.80" fill="#259be8"/>
<rect x="207.31" y="1591.50" width="11.72" height="14.80" fill="#02bac3"/>
<rect x="218.63" y="1591.50" width="11.72" height="14.80" fill="#2cc4a7"/>
<rect x="229.94" y="1591.50" width="11.72" height="14.80" fill="#4acb84"/>
<rect x="241.26" y="1591.50" width="11.72" height="14.80" fill="#abc739"/>
<rect x="252.58" y="1591.50" width="11.72" height="14.80" fill="#abc739"/>
<rect x="263.90" y="1591.50" width="11.72" height="14.80" fill="#dcbd29"/>
<rect x="275.22" y="1591.50" width="11.72" height="14.80" fill="#dcbd29"/>
<rect x="286.53" y="1591.50" width="11.72" height="14.80" fill="#abc739"/>
<rect x="297.85" y="1591.50" width="11.72" height="14.80" fill="#abc739"/>
<rect x="309.17" y="1591.50" width="11.72" height="14.80" fill="#81cc59"/>
<rect x="320.49" y="1591.50" width="11.72" height="14.80" fill="#4acb84"/>
<rect x="331.81" y="1591.50" width="11.72" height="14.80" fill="#2cc4a7"/>
<rect x="343.12" y="1591.50" width="11.72" height="14.80" fill="#02bac3"/>
<rect x="354.44" y="1591.50" width="11.72" height="14.80" fill="#259be8"/>
<rect x="365.76" y="1591.50" width="11.72" height="14.80" fill="#2e87f7"/>
<rect x="377.08" y="1591.50" width="11.72" height="14.80" fill="#3e6fff"/>
<rect x="388.40" y="1591.50" width="11.72" height="14.80" fill="#3e6fff"/>
<rect x="399.71" y="1591.50" width="11.72" height="14.80" fill="#2e87f7"/>
<rect x="411.03" y="1591.50" width="11.72" height="14.80" fill="#259be8"/>
<rect x="422.35" y="1591.50" width="11.72" height="14.80" fill="#18addb"/>
<rect x="433.67" y="1591.50" width="11.72" height="14.80" fill="#4acb84"/>
<rect x="444.99" y="1591.50" width="11.72" height="14.80" fill="#abc739"/>
<rect x="456.30" y="1591.50" width="11.72" height="14.80" fill="#abc739"/>
<rect x="467.62" y="1591.50" width="11.72" height="14.80" fill="#81cc59"/>
<rect x="478.94" y="1591.50" width="11.72" height="14.80" fill="#2cc4a7"/>
<rect x="490.26" y="1591.50" width="11.72" height="14.80" fill="#18addb"/>
<rect x="501.58" y="1591.50" width="11.72" height="14.80" fill="#2e87f7"/>
<rect x="512.89" y="1591.50" width="11.72" height="14.80" fill="#4852f4"/>
<rect x="524.21" y="1591.50" width="11.72" height="14.80" fill="#463cde"/>
<rect x="535.53" y="1591.50" width="11.72" height="14.80" fill="#463cde"/>
<rect x="546.85" y="1591.50" width="11.72" height="14.80" fill="#4852f4"/>
<rect x="558.17" y="1591.50" width="11.72" height="14.80" fill="#2e87f7"/>
<rect x="569.48" y="1591.50" width="11.72" height="14.80" fill="#18addb"/>
<rect x="580.80" y="1591.50" width="11.72" height="14.80" fill="#2cc4a7"/>
<rect x="592.12" y="1591.50" width="11.72" height="14.80" fill="#4acb84"/>
<rect x="603.44" y="1591.50" width="11.72" height="14.80" fill="#4acb84"/>
<rect x="614.76" y="1591.50" width="11.72" height="14.80" fill="#4acb84"/>
<rect x="626.07" y="1591.50" width="11.72" height="14.80" fill="#2cc4a7"/>
<rect x="637.39" y="1591.50" width="11.72" height="14.80" fill="#18addb"/>
<rect x="648.71" y="1591.50" width="11.72" height="14.80" fill="#2e87f7"/>
<rect x="660.03" y="1591.50" width="11.72" height="14.80" fill="#3e6fff"/>
<rect x="671.35" y="1591.50" width="11.72" height="14.80" fill="#4852f4"/>
<rect x="682.66" y="1591.50" width="11.72" height="14.80" fill="#463cde"/>
<rect x="693.98" y="1591.50" width="11.72" height="14.80" fill="#463cde"/>
<rect x="705.30" y="1591.50" width="11.72" height="14.80" fill="#463cde"/>
<rect x="716.62" y="1591.50" width="11.72" height="14.80" fill="#3e6fff"/>
<rect x="727.94" y="1591.50" width="11.72" height="14.80" fill="#2e87f7"/>
<rect x="739.25" y="1591.50" width="11.72" height="14.80" fill="#18addb"/>
<rect x="750.57" y="1591.50" width="11.72" height="14.80" fill="#02bac3"/>
<rect x="761.89" y="1591.50" width="11.72" height="14.80" fill="#2cc4a7"/>
<rect x="773.21" y="1591.50" width="11.72" height="14.80" fill="#4acb84"/>
<rect x="784.53" y="1591.50" width="11.72" height="14.80" fill="#81cc59"/>
<rect x="795.84" y="1591.50" width="11.72" height="14.80" fill="#abc739"/>
<rect x="807.16" y="1591.50" width="11.72" height="14.80" fill="#dcbd29"/>
<rect x="818.48" y="1591.50" width="11.72" height="14.80" fill="#dcbd29"/>
<rect x="829.80" y="1591.50" width="11.72" height="14.80" fill="#febe3c"/>
<rect x="841.12" y="1591.50" width="10.78" height="14.80" fill="#febe3c"/>
<rect x="136.00" y="1605.90" width="3.80" height="14.80" fill="#18addb"/>
<rect x="139.40" y="1605.90" width="11.72" height="14.80" fill="#18addb"/>
<rect x="150.72" y="1605.90" width="11.72" height="14.80" fill="#18addb"/>
<rect x="162.04" y="1605.90" width="11.72" height="14.80" fill="#259be8"/>
<rect x="173.35" y="1605.90" width="11.72" height="14.80" fill="#259be8"/>
<rect x="184.67" y="1605.90" width="11.72" height="14.80" fill="#259be8"/>
<rect x="195.99" y="1605.90" width="11.72" height="14.80" fill="#259be8"/>
<rect x="207.31" y="1605.90" width="11.72" height="14.80" fill="#18addb"/>
<rect x="218.63" y="1605.90" width="11.72" height="14.80" fill="#2cc4a7"/>
<rect x="229.94" y="1605.90" width="11.72" height="14.80" fill="#4acb84"/>
<rect x="241.26" y="1605.90" width="11.72" height="14.80" fill="#81cc59"/>
<rect x="252.58" y="1605.90" width="11.72" height="14.80" fill="#abc739"/>
<rect x="263.90" y="1605.90" width="11.72" height="14.80" fill="#abc739"/>
<rect x="275.22" y="1605.90" width="11.72" height="14.80" fill="#81cc59"/>
<rect x="286.53" y="1605.90" width="11.72" height="14.80" fill="#4acb84"/>
<rect x="297.85" y="1605.90" width="11.72" height="14.80" fill="#2cc4a7"/>
<rect x="309.17" y="1605.90" width="11.72" height="14.80" fill="#2cc4a7"/>
<rect x="320.49" y="1605.90" width="11.72" height="14.80" fill="#02bac3"/>
<rect x="331.81" y="1605.90" width="11.72" height="14.80" fill="#02bac3"/>
<rect x="343.12" y="1605.90" width="11.72" height="14.80" fill="#02bac3"/>
<rect x="354.44" y="1605.90" width="11.72" height="14.80" fill="#02bac3"/>
<rect x="365.76" y="1605.90" width="11.72" height="14.80" fill="#18addb"/>
<rect x="377.08" y="1605.90" width="11.72" height="14.80" fill="#18addb"/>
<rect x="388.40" y="1605.90" width="11.72" height="14.80" fill="#18addb"/>
<rect x="399.71" y="1605.90" width="11.72" height="14.80" fill="#18addb"/>
<rect x="411.03" y="1605.90" width="11.72" height="14.80" fill="#02bac3"/>
<rect x="422.35" y="1605.90" width="11.72" height="14.80" fill="#02bac3"/>
<rect x="433.67" y="1605.90" width="11.72" height="14.80" fill="#02bac3"/>
<rect x="444.99" y="1605.90" width="11.72" height="14.80" fill="#02bac3"/>
<rect x="456.30" y="1605.90" width="11.72" height="14.80" fill="#02bac3"/>
<rect x="467.62" y="1605.90" width="11.72" height="14.80" fill="#02bac3"/>
<rect x="478.94" y="1605.90" width="11.72" height="14.80" fill="#02bac3"/>
<rect x="490.26" y="1605.90" width="11.72" height="14.80" fill="#02bac3"/>
<rect x="501.58" y="1605.90" width="11.72" height="14.80" fill="#259be8"/>
<rect x="512.89" y="1605.90" width="11.72" height="14.80" fill="#259be8"/>
<rect x="524.21" y="1605.90" width="11.72" height="14.80" fill="#2e87f7"/>
<rect x="535.53" y="1605.90" width="11.72" height="14.80" fill="#2e87f7"/>
<rect x="546.85" y="1605.90" width="11.72" height="14.80" fill="#259be8"/>
<rect x="558.17" y="1605.90" width="11.72" height="14.80" fill="#259be8"/>
<rect x="569.48" y="1605.90" width="11.72" height="14.80" fill="#18addb"/>
<rect x="580.80" y="1605.90" width="11.72" height="14.80" fill="#18addb"/>
<rect x="592.12" y="1605.90" width="11.72" height="14.80" fill="#18addb"/>
<rect x="603.44" y="1605.90" width="11.72" height="14.80" fill="#18addb"/>
<rect x="614.76" y="1605.90" width="11.72" height="14.80" fill="#02bac3"/>
<rect x="626.07" y="1605.90" width="11.72" height="14.80" fill="#02bac3"/>
<rect x="637.39" y="1605.90" width="11.72" height="14.80" fill="#02bac3"/>
<rect x="648.71" y="1605.90" width="11.72" height="14.80" fill="#18addb"/>
<rect x="660.03" y="1605.90" width="11.72" height="14.80" fill="#259be8"/>
<rect x="671.35" y="1605.90" width="11.72" height="14.80" fill="#2e87f7"/>
<rect x="682.66" y="1605.90" width="11.72" height="14.80" fill="#3e6fff"/>
<rect x="693.98" y="1605.90" width="11.72" height="14.80" fill="#3e6fff"/>
<rect x="705.30" y="1605.90" width="11.72" height="14.80" fill="#3e6fff"/>
<rect x="716.62" y="1605.90" width="11.72" height="14.80" fill="#3e6fff"/>
<rect x="727.94" y="1605.90" width="11.72" height="14.80" fill="#2e87f7"/>
<rect x="739.25" y="1605.90" width="11.72" height="14.80" fill="#259be8"/>
<rect x="750.57" y="1605.90" width="11.72" height="14.80" fill="#02bac3"/>
<rect x="761.89" y="1605.90" width="11.72" height="14.80" fill="#2cc4a7"/>
<rect x="773.21" y="1605.90" width="11.72" height="14.80" fill="#4acb84"/>
<rect x="784.53" y="1605.90" width="11.72" height="14.80" fill="#4acb84"/>
<rect x="795.84" y="1605.90" width="11.72" height="14.80" fill="#4acb84"/>
<rect x="807.16" y="1605.90" width="11.72" height="14.80" fill="#4acb84"/>
<rect x="818.48" y="1605.90" width="11.72" height="14.80" fill="#81cc59"/>
<rect x="829.80" y="1605.90" width="11.72" height="14.80" fill="#81cc59"/>
<rect x="841.12" y="1605.90" width="10.78" height="14.80" fill="#abc739"/>
<rect x="136.00" y="1620.30" width="3.80" height="14.80" fill="#2cc4a7"/>
<rect x="139.40" y="1620.30" width="11.72" height="14.80" fill="#2cc4a7"/>
<rect x="150.72" y="1620.30" width="11.72" height="14.80" fill="#2cc4a7"/>
<rect x="162.04" y="1620.30" width="11.72" height="14.80" fill="#02bac3"/>
<rect x="173.35" y="1620.30" width="11.72" height="14.80" fill="#02bac3"/>
<rect x="184.67" y="1620.30" width="11.72" height="14.80" fill="#18addb"/>
<rect x="195.99" y="1620.30" width="11.72" height="14.80" fill="#18addb"/>
<rect x="207.31" y="1620.30" width="11.72" height="14.80" fill="#18addb"/>
<rect x="218.63" y="1620.30" width="11.72" height="14.80" fill="#02bac3"/>
<rect x="229.94" y="1620.30" width="11.72" height="14.80" fill="#2cc4a7"/>
<rect x="241.26" y="1620.30" width="11.72" height="14.80" fill="#4acb84"/>
<rect x="252.58" y="1620.30" width="11.72" height="14.80" fill="#4acb84"/>
<rect x="263.90" y="1620.30" width="11.72" height="14.80" fill="#4acb84"/>
<rect x="275.22" y="1620.30" width="11.72" height="14.80" fill="#2cc4a7"/>
<rect x="286.53" y="1620.30" width="11.72" height="14.80" fill="#02bac3"/>
<rect x="297.85" y="1620.30" width="11.72" height="14.80" fill="#259be8"/>
<rect x="309.17" y="1620.30" width="11.72" height="14.80" fill="#259be8"/>
<rect x="320.49" y="1620.30" width="11.72" height="14.80" fill="#259be8"/>
<rect x="331.81" y="1620.30" width="11.72" height="14.80" fill="#259be8"/>
<rect x="343.12" y="1620.30" width="11.72" height="14.80" fill="#18addb"/>
<rect x="354.44" y="1620.30" width="11.72" height="14.80" fill="#02bac3"/>
<rect x="365.76" y="1620.30" width="11.72" height="14.80" fill="#2cc4a7"/>
<rect x="377.08" y="1620.30" width="11.72" height="14.80" fill="#4acb84"/>
<rect x="388.40" y="1620.30" width="11.72" height="14.80" fill="#4acb84"/>
<rect x="399.71" y="1620.30" width="11.72" height="14.80" fill="#2cc4a7"/>
<rect x="411.03" y="1620.30" width="11.72" height="14.80" fill="#02bac3"/>
<rect x="422.35" y="1620.30" width="11.72" height="14.80" fill="#18addb"/>
<rect x="433.67" y="1620.30" width="11.72" height="14.80" fill="#259be8"/>
<rect x="444.99" y="1620.30" width="11.72" height="14.80" fill="#2e87f7"/>
<rect x="456.30" y="1620.30" width="11.72" height="14.80" fill="#2e87f7"/>
<rect x="467.62" y="1620.30" width="11.72" height="14.80" fill="#2e87f7"/>
<rect x="478.94" y="1620.30" width="11.72" height="14.80" fill="#259be8"/>
<rect x="490.26" y="1620.30" width="11.72" height="14.80" fill="#18addb"/>
<rect x="501.58" y="1620.30" width="11.72" height="14.80" fill="#02bac3"/>
<rect x="512.89" y="1620.30" width="11.72" height="14.80" fill="#2cc4a7"/>
<rect x="524.21" y="1620.30" width="11.72" height="14.80" fill="#2cc4a7"/>
<rect x="535.53" y="1620.30" width="11.72" height="14.80" fill="#2cc4a7"/>
<rect x="546.85" y="1620.30" width="11.72" height="14.80" fill="#02bac3"/>
<rect x="558.17" y="1620.30" width="11.72" height="14.80" fill="#18addb"/>
<rect x="569.48" y="1620.30" width="11.72" height="14.80" fill="#259be8"/>
<rect x="580.80" y="1620.30" width="11.72" height="14.80" fill="#2e87f7"/>
<rect x="592.12" y="1620.30" width="11.72" height="14.80" fill="#2e87f7"/>
<rect x="603.44" y="1620.30" width="11.72" height="14.80" fill="#2e87f7"/>
<rect x="614.76" y="1620.30" width="11.72" height="14.80" fill="#259be8"/>
<rect x="626.07" y="1620.30" width="11.72" height="14.80" fill="#18addb"/>
<rect x="637.39" y="1620.30" width="11.72" height="14.80" fill="#02bac3"/>
<rect x="648.71" y="1620.30" width="11.72" height="14.80" fill="#2cc4a7"/>
<rect x="660.03" y="1620.30" width="11.72" height="14.80" fill="#2cc4a7"/>
<rect x="671.35" y="1620.30" width="11.72" height="14.80" fill="#02bac3"/>
<rect x="682.66" y="1620.30" width="11.72" height="14.80" fill="#18addb"/>
<rect x="693.98" y="1620.30" width="11.72" height="14.80" fill="#259be8"/>
<rect x="705.30" y="1620.30" width="11.72" height="14.80" fill="#259be8"/>
<rect x="716.62" y="1620.30" width="11.72" height="14.80" fill="#259be8"/>
<rect x="727.94" y="1620.30" width="11.72" height="14.80" fill="#18addb"/>
<rect x="739.25" y="1620.30" width="11.72" height="14.80" fill="#18addb"/>
<rect x="750.57" y="1620.30" width="11.72" height="14.80" fill="#02bac3"/>
<rect x="761.89" y="1620.30" width="11.72" height="14.80" fill="#2cc4a7"/>
<rect x="773.21" y="1620.30" width="11.72" height="14.80" fill="#02bac3"/>
<rect x="784.53" y="1620.30" width="11.72" height="14.80" fill="#02bac3"/>
<rect x="795.84" y="1620.30" width="11.72" height="14.80" fill="#18addb"/>
<rect x="807.16" y="1620.30" width="11.72" height="14.80" fill="#18addb"/>
<rect x="818.48" y="1620.30" width="11.72" height="14.80" fill="#02bac3"/>
<rect x="829.80" y="1620.30" width="11.72" height="14.80" fill="#02bac3"/>
<rect x="841.12" y="1620.30" width="10.78" height="14.80" fill="#2cc4a7"/>
<rect x="136.00" y="1634.70" width="3.80" height="14.80" fill="#abc739"/>
<rect x="139.40" y="1634.70" width="11.72" height="14.80" fill="#abc739"/>
<rect x="150.72" y="1634.70" width="11.72" height="14.80" fill="#dcbd29"/>
<rect x="162.04" y="1634.70" width="11.72" height="14.80" fill="#abc739"/>
<rect x="173.35" y="1634.70" width="11.72" height="14.80" fill="#4acb84"/>
<rect x="184.67" y="1634.70" width="11.72" height="14.80" fill="#2cc4a7"/>
<rect x="195.99" y="1634.70" width="11.72" height="14.80" fill="#02bac3"/>
<rect x="207.31" y="1634.70" width="11.72" height="14.80" fill="#18addb"/>
<rect x="218.63" y="1634.70" width="11.72" height="14.80" fill="#18addb"/>
<rect x="229.94" y="1634.70" width="11.72" height="14.80" fill="#02bac3"/>
<rect x="241.26" y="1634.70" width="11.72" height="14.80" fill="#02bac3"/>
<rect x="252.58" y="1634.70" width="11.72" height="14.80" fill="#2cc4a7"/>
<rect x="263.90" y="1634.70" width="11.72" height="14.80" fill="#02bac3"/>
<rect x="275.22" y="1634.70" width="11.72" height="14.80" fill="#259be8"/>
<rect x="286.53" y="1634.70" width="11.72" height="14.80" fill="#2e87f7"/>
<rect x="297.85" y="1634.70" width="11.72" height="14.80" fill="#3e6fff"/>
<rect x="309.17" y="1634.70" width="11.72" height="14.80" fill="#3e6fff"/>
<rect x="320.49" y="1634.70" width="11.72" height="14.80" fill="#3e6fff"/>
<rect x="331.81" y="1634.70" width="11.72" height="14.80" fill="#2e87f7"/>
<rect x="343.12" y="1634.70" width="11.72" height="14.80" fill="#18addb"/>
<rect x="354.44" y="1634.70" width="11.72" height="14.80" fill="#2cc4a7"/>
<rect x="365.76" y="1634.70" width="11.72" height="14.80" fill="#81cc59"/>
<rect x="377.08" y="1634.70" width="11.72" height="14.80" fill="#abc739"/>
<rect x="388.40" y="1634.70" width="11.72" height="14.80" fill="#abc739"/>
<rect x="399.71" y="1634.70" width="11.72" height="14.80" fill="#81cc59"/>
<rect x="411.03" y="1634.70" width="11.72" height="14.80" fill="#02bac3"/>
<rect x="422.35" y="1634.70" width="11.72" height="14.80" fill="#259be8"/>
<rect x="433.67" y="1634.70" width="11.72" height="14.80" fill="#3e6fff"/>
<rect x="444.99" y="1634.70" width="11.72" height="14.80" fill="#4852f4"/>
<rect x="456.30" y="1634.70" width="11.72" height="14.80" fill="#463cde"/>
<rect x="467.62" y="1634.70" width="11.72" height="14.80" fill="#4852f4"/>
<rect x="478.94" y="1634.70" width="11.72" height="14.80" fill="#3e6fff"/>
<rect x="490.26" y="1634.70" width="11.72" height="14.80" fill="#259be8"/>
<rect x="501.58" y="1634.70" width="11.72" height="14.80" fill="#2cc4a7"/>
<rect x="512.89" y="1634.70" width="11.72" height="14.80" fill="#81cc59"/>
<rect x="524.21" y="1634.70" width="11.72" height="14.80" fill="#abc739"/>
<rect x="535.53" y="1634.70" width="11.72" height="14.80" fill="#abc739"/>
<rect x="546.85" y="1634.70" width="11.72" height="14.80" fill="#81cc59"/>
<rect x="558.17" y="1634.70" width="11.72" height="14.80" fill="#02bac3"/>
<rect x="569.48" y="1634.70" width="11.72" height="14.80" fill="#259be8"/>
<rect x="580.80" y="1634.70" width="11.72" height="14.80" fill="#3e6fff"/>
<rect x="592.12" y="1634.70" width="11.72" height="14.80" fill="#4852f4"/>
<rect x="603.44" y="1634.70" width="11.72" height="14.80" fill="#4852f4"/>
<rect x="614.76" y="1634.70" width="11.72" height="14.80" fill="#3e6fff"/>
<rect x="626.07" y="1634.70" width="11.72" height="14.80" fill="#259be8"/>
<rect x="637.39" y="1634.70" width="11.72" height="14.80" fill="#02bac3"/>
<rect x="648.71" y="1634.70" width="11.72" height="14.80" fill="#81cc59"/>
<rect x="660.03" y="1634.70" width="11.72" height="14.80" fill="#81cc59"/>
<rect x="671.35" y="1634.70" width="11.72" height="14.80" fill="#81cc59"/>
<rect x="682.66" y="1634.70" width="11.72" height="14.80" fill="#81cc59"/>
<rect x="693.98" y="1634.70" width="11.72" height="14.80" fill="#2cc4a7"/>
<rect x="705.30" y="1634.70" width="11.72" height="14.80" fill="#2cc4a7"/>
<rect x="716.62" y="1634.70" width="11.72" height="14.80" fill="#2cc4a7"/>
<rect x="727.94" y="1634.70" width="11.72" height="14.80" fill="#2cc4a7"/>
<rect x="739.25" y="1634.70" width="11.72" height="14.80" fill="#2cc4a7"/>
<rect x="750.57" y="1634.70" width="11.72" height="14.80" fill="#2cc4a7"/>
<rect x="761.89" y="1634.70" width="11.72" height="14.80" fill="#2cc4a7"/>
<rect x="773.21" y="1634.70" width="11.72" height="14.80" fill="#18addb"/>
<rect x="784.53" y="1634.70" width="11.72" height="14.80" fill="#259be8"/>
<rect x="795.84" y="1634.70" width="11.72" height="14.80" fill="#2e87f7"/>
<rect x="807.16" y="1634.70" width="11.72" height="14.80" fill="#2e87f7"/>
<rect x="818.48" y="1634.70" width="11.72" height="14.80" fill="#2e87f7"/>
<rect x="829.80" y="1634.70" width="11.72" height="14.80" fill="#2e87f7"/>
<rect x="841.12" y="1634.70" width="10.78" height="14.80" fill="#259be8"/>
<rect x="136.00" y="1649.10" width="3.80" height="14.80" fill="#febe3c"/>
<rect x="139.40" y="1649.10" width="11.72" height="14.80" fill="#febe3c"/>
<rect x="150.72" y="1649.10" width="11.72" height="14.80" fill="#f7dc2a"/>
<rect x="162.04" y="1649.10" width="11.72" height="14.80" fill="#febe3c"/>
<rect x="173.35" y="1649.10" width="11.72" height="14.80" fill="#abc739"/>
<rect x="184.67" y="1649.10" width="11.72" height="14.80" fill="#4acb84"/>
<rect x="195.99" y="1649.10" width="11.72" height="14.80" fill="#02bac3"/>
<rect x="207.31" y="1649.10" width="11.72" height="14.80" fill="#18addb"/>
<rect x="218.63" y="1649.10" width="11.72" height="14.80" fill="#18addb"/>
<rect x="229.94" y="1649.10" width="11.72" height="14.80" fill="#18addb"/>
<rect x="241.26" y="1649.10" width="11.72" height="14.80" fill="#18addb"/>
<rect x="252.58" y="1649.10" width="11.72" height="14.80" fill="#18addb"/>
<rect x="263.90" y="1649.10" width="11.72" height="14.80" fill="#259be8"/>
<rect x="275.22" y="1649.10" width="11.72" height="14.80" fill="#2e87f7"/>
<rect x="286.53" y="1649.10" width="11.72" height="14.80" fill="#3e6fff"/>
<rect x="297.85" y="1649.10" width="11.72" height="14.80" fill="#4852f4"/>
<rect x="309.17" y="1649.10" width="11.72" height="14.80" fill="#4852f4"/>
<rect x="320.49" y="1649.10" width="11.72" height="14.80" fill="#4852f4"/>
<rect x="331.81" y="1649.10" width="11.72" height="14.80" fill="#3e6fff"/>
<rect x="343.12" y="1649.10" width="11.72" height="14.80" fill="#18addb"/>
<rect x="354.44" y="1649.10" width="11.72" height="14.80" fill="#2cc4a7"/>
<rect x="365.76" y="1649.10" width="11.72" height="14.80" fill="#abc739"/>
<rect x="377.08" y="1649.10" width="11.72" height="14.80" fill="#dcbd29"/>
<rect x="388.40" y="1649.10" width="11.72" height="14.80" fill="#dcbd29"/>
<rect x="399.71" y="1649.10" width="11.72" height="14.80" fill="#81cc59"/>
<rect x="411.03" y="1649.10" width="11.72" height="14.80" fill="#02bac3"/>
<rect x="422.35" y="1649.10" width="11.72" height="14.80" fill="#259be8"/>
<rect x="433.67" y="1649.10" width="11.72" height="14.80" fill="#4852f4"/>
<rect x="444.99" y="1649.10" width="11.72" height="14.80" fill="#463cde"/>
<rect x="456.30" y="1649.10" width="11.72" height="14.80" fill="#402ab4"/>
<rect x="467.62" y="1649.10" width="11.72" height="14.80" fill="#463cde"/>
<rect x="478.94" y="1649.10" width="11.72" height="14.80" fill="#4852f4"/>
<rect x="490.26" y="1649.10" width="11.72" height="14.80" fill="#259be8"/>
<rect x="501.58" y="1649.10" width="11.72" height="14.80" fill="#2cc4a7"/>
<rect x="512.89" y="1649.10" width="11.72" height="14.80" fill="#abc739"/>
<rect x="524.21" y="1649.10" width="11.72" height="14.80" fill="#febe3c"/>
<rect x="535.53" y="1649.10" width="11.72" height="14.80" fill="#f7dc2a"/>
<rect x="546.85" y="1649.10" width="11.72" height="14.80" fill="#dcbd29"/>
<rect x="558.17" y="1649.10" width="11.72" height="14.80" fill="#2cc4a7"/>
<rect x="569.48" y="1649.10" width="11.72" height="14.80" fill="#259be8"/>
<rect x="580.80" y="1649.10" width="11.72" height="14.80" fill="#4852f4"/>
<rect x="592.12" y="1649.10" width="11.72" height="14.80" fill="#463cde"/>
<rect x="603.44" y="1649.10" width="11.72" height="14.80" fill="#463cde"/>
<rect x="614.76" y="1649.10" width="11.72" height="14.80" fill="#4852f4"/>
<rect x="626.07" y="1649.10" width="11.72" height="14.80" fill="#259be8"/>
<rect x="637.39" y="1649.10" width="11.72" height="14.80" fill="#02bac3"/>
<rect x="648.71" y="1649.10" width="11.72" height="14.80" fill="#81cc59"/>
<rect x="660.03" y="1649.10" width="11.72" height="14.80" fill="#febe3c"/>
<rect x="671.35" y="1649.10" width="11.72" height="14.80" fill="#febe3c"/>
<rect x="682.66" y="1649.10" width="11.72" height="14.80" fill="#febe3c"/>
<rect x="693.98" y="1649.10" width="11.72" height="14.80" fill="#dcbd29"/>
<rect x="705.30" y="1649.10" width="11.72" height="14.80" fill="#81cc59"/>
<rect x="716.62" y="1649.10" width="11.72" height="14.80" fill="#4acb84"/>
<rect x="727.94" y="1649.10" width="11.72" height="14.80" fill="#4acb84"/>
<rect x="739.25" y="1649.10" width="11.72" height="14.80" fill="#4acb84"/>
<rect x="750.57" y="1649.10" width="11.72" height="14.80" fill="#4acb84"/>
<rect x="761.89" y="1649.10" width="11.72" height="14.80" fill="#2cc4a7"/>
<rect x="773.21" y="1649.10" width="11.72" height="14.80" fill="#18addb"/>
<rect x="784.53" y="1649.10" width="11.72" height="14.80" fill="#259be8"/>
<rect x="795.84" y="1649.10" width="11.72" height="14.80" fill="#2e87f7"/>
<rect x="807.16" y="1649.10" width="11.72" height="14.80" fill="#3e6fff"/>
<rect x="818.48" y="1649.10" width="11.72" height="14.80" fill="#3e6fff"/>
<rect x="829.80" y="1649.10" width="11.72" height="14.80" fill="#3e6fff"/>
<rect x="841.12" y="1649.10" width="10.78" height="14.80" fill="#2e87f7"/>
<rect x="136.00" y="1663.50" width="3.80" height="14.80" fill="#febe3c"/>
<rect x="139.40" y="1663.50" width="11.72" height="14.80" fill="#febe3c"/>
<rect x="150.72" y="1663.50" width="11.72" height="14.80" fill="#f7dc2a"/>
<rect x="162.04" y="1663.50" width="11.72" height="14.80" fill="#febe3c"/>
<rect x="173.35" y="1663.50" width="11.72" height="14.80" fill="#abc739"/>
<rect x="184.67" y="1663.50" width="11.72" height="14.80" fill="#4acb84"/>
<rect x="195.99" y="1663.50" width="11.72" height="14.80" fill="#02bac3"/>
<rect x="207.31" y="1663.50" width="11.72" height="14.80" fill="#18addb"/>
<rect x="218.63" y="1663.50" width="11.72" height="14.80" fill="#18addb"/>
<rect x="229.94" y="1663.50" width="11.72" height="14.80" fill="#18addb"/>
<rect x="241.26" y="1663.50" width="11.72" height="14.80" fill="#18addb"/>
<rect x="252.58" y="1663.50" width="11.72" height="14.80" fill="#18addb"/>
<rect x="263.90" y="1663.50" width="11.72" height="14.80" fill="#18addb"/>
<rect x="275.22" y="1663.50" width="11.72" height="14.80" fill="#259be8"/>
<rect x="286.53" y="1663.50" width="11.72" height="14.80" fill="#3e6fff"/>
<rect x="297.85" y="1663.50" width="11.72" height="14.80" fill="#4852f4"/>
<rect x="309.17" y="1663.50" width="11.72" height="14.80" fill="#4852f4"/>
<rect x="320.49" y="1663.50" width="11.72" height="14.80" fill="#4852f4"/>
<rect x="331.81" y="1663.50" width="11.72" height="14.80" fill="#2e87f7"/>
<rect x="343.12" y="1663.50" width="11.72" height="14.80" fill="#18addb"/>
<rect x="354.44" y="1663.50" width="11.72" height="14.80" fill="#2cc4a7"/>
<rect x="365.76" y="1663.50" width="11.72" height="14.80" fill="#abc739"/>
<rect x="377.08" y="1663.50" width="11.72" height="14.80" fill="#dcbd29"/>
<rect x="388.40" y="1663.50" width="11.72" height="14.80" fill="#dcbd29"/>
<rect x="399.71" y="1663.50" width="11.72" height="14.80" fill="#81cc59"/>
<rect x="411.03" y="1663.50" width="11.72" height="14.80" fill="#02bac3"/>
<rect x="422.35" y="1663.50" width="11.72" height="14.80" fill="#2e87f7"/>
<rect x="433.67" y="1663.50" width="11.72" height="14.80" fill="#4852f4"/>
<rect x="444.99" y="1663.50" width="11.72" height="14.80" fill="#463cde"/>
<rect x="456.30" y="1663.50" width="11.72" height="14.80" fill="#402ab4"/>
<rect x="467.62" y="1663.50" width="11.72" height="14.80" fill="#463cde"/>
<rect x="478.94" y="1663.50" width="11.72" height="14.80" fill="#4852f4"/>
<rect x="490.26" y="1663.50" width="11.72" height="14.80" fill="#259be8"/>
<rect x="501.58" y="1663.50" width="11.72" height="14.80" fill="#2cc4a7"/>
<rect x="512.89" y="1663.50" width="11.72" height="14.80" fill="#abc739"/>
<rect x="524.21" y="1663.50" width="11.72" height="14.80" fill="#febe3c"/>
<rect x="535.53" y="1663.50" width="11.72" height="14.80" fill="#febe3c"/>
<rect x="546.85" y="1663.50" width="11.72" height="14.80" fill="#dcbd29"/>
<rect x="558.17" y="1663.50" width="11.72" height="14.80" fill="#2cc4a7"/>
<rect x="569.48" y="1663.50" width="11.72" height="14.80" fill="#259be8"/>
<rect x="580.80" y="1663.50" width="11.72" height="14.80" fill="#3e6fff"/>
<rect x="592.12" y="1663.50" width="11.72" height="14.80" fill="#463cde"/>
<rect x="603.44" y="1663.50" width="11.72" height="14.80" fill="#463cde"/>
<rect x="614.76" y="1663.50" width="11.72" height="14.80" fill="#3e6fff"/>
<rect x="626.07" y="1663.50" width="11.72" height="14.80" fill="#259be8"/>
<rect x="637.39" y="1663.50" width="11.72" height="14.80" fill="#02bac3"/>
<rect x="648.71" y="1663.50" width="11.72" height="14.80" fill="#81cc59"/>
<rect x="660.03" y="1663.50" width="11.72" height="14.80" fill="#dcbd29"/>
<rect x="671.35" y="1663.50" width="11.72" height="14.80" fill="#febe3c"/>
<rect x="682.66" y="1663.50" width="11.72" height="14.80" fill="#dcbd29"/>
<rect x="693.98" y="1663.50" width="11.72" height="14.80" fill="#abc739"/>
<rect x="705.30" y="1663.50" width="11.72" height="14.80" fill="#81cc59"/>
<rect x="716.62" y="1663.50" width="11.72" height="14.80" fill="#4acb84"/>
<rect x="727.94" y="1663.50" width="11.72" height="14.80" fill="#4acb84"/>
<rect x="739.25" y="1663.50" width="11.72" height="14.80" fill="#4acb84"/>
<rect x="750.57" y="1663.50" width="11.72" height="14.80" fill="#4acb84"/>
<rect x="761.89" y="1663.50" width="11.72" height="14.80" fill="#2cc4a7"/>
<rect x="773.21" y="1663.50" width="11.72" height="14.80" fill="#02bac3"/>
<rect x="784.53" y="1663.50" width="11.72" height="14.80" fill="#259be8"/>
<rect x="795.84" y="1663.50" width="11.72" height="14.80" fill="#2e87f7"/>
<rect x="807.16" y="1663.50" width="11.72" height="14.80" fill="#3e6fff"/>
<rect x="818.48" y="1663.50" width="11.72" height="14.80" fill="#3e6fff"/>
<rect x="829.80" y="1663.50" width="11.72" height="14.80" fill="#3e6fff"/>
<rect x="841.12" y="1663.50" width="10.78" height="14.80" fill="#2e87f7"/>
<rect x="136.00" y="1677.90" width="3.80" height="14.80" fill="#abc739"/>
<rect x="139.40" y="1677.90" width="11.72" height="14.80" fill="#abc739"/>
<rect x="150.72" y="1677.90" width="11.72" height="14.80" fill="#abc739"/>
<rect x="162.04" y="1677.90" width="11.72" height="14.80" fill="#81cc59"/>
<rect x="173.35" y="1677.90" width="11.72" height="14.80" fill="#4acb84"/>
<rect x="184.67" y="1677.90" width="11.72" height="14.80" fill="#2cc4a7"/>
<rect x="195.99" y="1677.90" width="11.72" height="14.80" fill="#02bac3"/>
<rect x="207.31" y="1677.90" width="11.72" height="14.80" fill="#18addb"/>
<rect x="218.63" y="1677.90" width="11.72" height="14.80" fill="#18addb"/>
<rect x="229.94" y="1677.90" width="11.72" height="14.80" fill="#18addb"/>
<rect x="241.26" y="1677.90" width="11.72" height="14.80" fill="#02bac3"/>
<rect x="252.58" y="1677.90" width="11.72" height="14.80" fill="#02bac3"/>
<rect x="263.90" y="1677.90" width="11.72" height="14.80" fill="#02bac3"/>
<rect x="275.22" y="1677.90" width="11.72" height="14.80" fill="#18addb"/>
<rect x="286.53" y="1677.90" width="11.72" height="14.80" fill="#259be8"/>
<rect x="297.85" y="1677.90" width="11.72" height="14.80" fill="#2e87f7"/>
<rect x="309.17" y="1677.90" width="11.72" height="14.80" fill="#3e6fff"/>
<rect x="320.49" y="1677.90" width="11.72" height="14.80" fill="#3e6fff"/>
<rect x="331.81" y="1677.90" width="11.72" height="14.80" fill="#2e87f7"/>
<rect x="343.12" y="1677.90" width="11.72" height="14.80" fill="#18addb"/>
<rect x="354.44" y="1677.90" width="11.72" height="14.80" fill="#02bac3"/>
<rect x="365.76" y="1677.90" width="11.72" height="14.80" fill="#4acb84"/>
<rect x="377.08" y="1677.90" width="11.72" height="14.80" fill="#81cc59"/>
<rect x="388.40" y="1677.90" width="11.72" height="14.80" fill="#81cc59"/>
<rect x="399.71" y="1677.90" width="11.72" height="14.80" fill="#4acb84"/>
<rect x="411.03" y="1677.90" width="11.72" height="14.80" fill="#02bac3"/>
<rect x="422.35" y="1677.90" width="11.72" height="14.80" fill="#259be8"/>
<rect x="433.67" y="1677.90" width="11.72" height="14.80" fill="#2e87f7"/>
<rect x="444.99" y="1677.90" width="11.72" height="14.80" fill="#3e6fff"/>
<rect x="456.30" y="1677.90" width="11.72" height="14.80" fill="#4852f4"/>
<rect x="467.62" y="1677.90" width="11.72" height="14.80" fill="#4852f4"/>
<rect x="478.94" y="1677.90" width="11.72" height="14.80" fill="#3e6fff"/>
<rect x="490.26" y="1677.90" width="11.72" height="14.80" fill="#259be8"/>
<rect x="501.58" y="1677.90" width="11.72" height="14.80" fill="#02bac3"/>
<rect x="512.89" y="1677.90" width="11.72" height="14.80" fill="#4acb84"/>
<rect x="524.21" y="1677.90" width="11.72" height="14.80" fill="#81cc59"/>
<rect x="535.53" y="1677.90" width="11.72" height="14.80" fill="#abc739"/>
<rect x="546.85" y="1677.90" width="11.72" height="14.80" fill="#81cc59"/>
<rect x="558.17" y="1677.90" width="11.72" height="14.80" fill="#2cc4a7"/>
<rect x="569.48" y="1677.90" width="11.72" height="14.80" fill="#259be8"/>
<rect x="580.80" y="1677.90" width="11.72" height="14.80" fill="#2e87f7"/>
<rect x="592.12" y="1677.90" width="11.72" height="14.80" fill="#3e6fff"/>
<rect x="603.44" y="1677.90" width="11.72" height="14.80" fill="#3e6fff"/>
<rect x="614.76" y="1677.90" width="11.72" height="14.80" fill="#2e87f7"/>
<rect x="626.07" y="1677.90" width="11.72" height="14.80" fill="#259be8"/>
<rect x="637.39" y="1677.90" width="11.72" height="14.80" fill="#02bac3"/>
<rect x="648.71" y="1677.90" width="11.72" height="14.80" fill="#4acb84"/>
<rect x="660.03" y="1677.90" width="11.72" height="14.80" fill="#81cc59"/>
<rect x="671.35" y="1677.90" width="11.72" height="14.80" fill="#4acb84"/>
<rect x="682.66" y="1677.90" width="11.72" height="14.80" fill="#2cc4a7"/>
<rect x="693.98" y="1677.90" width="11.72" height="14.80" fill="#02bac3"/>
<rect x="705.30" y="1677.90" width="11.72" height="14.80" fill="#02bac3"/>
<rect x="716.62" y="1677.90" width="11.72" height="14.80" fill="#02bac3"/>
<rect x="727.94" y="1677.90" width="11.72" height="14.80" fill="#02bac3"/>
<rect x="739.25" y="1677.90" width="11.72" height="14.80" fill="#2cc4a7"/>
<rect x="750.57" y="1677.90" width="11.72" height="14.80" fill="#2cc4a7"/>
<rect x="761.89" y="1677.90" width="11.72" height="14.80" fill="#2cc4a7"/>
<rect x="773.21" y="1677.90" width="11.72" height="14.80" fill="#2cc4a7"/>
<rect x="784.53" y="1677.90" width="11.72" height="14.80" fill="#18addb"/>
<rect x="795.84" y="1677.90" width="11.72" height="14.80" fill="#259be8"/>
<rect x="807.16" y="1677.90" width="11.72" height="14.80" fill="#259be8"/>
<rect x="818.48" y="1677.90" width="11.72" height="14.80" fill="#259be8"/>
<rect x="829.80" y="1677.90" width="11.72" height="14.80" fill="#259be8"/>
<rect x="841.12" y="1677.90" width="10.78" height="14.80" fill="#259be8"/>
<rect x="136.00" y="1692.30" width="3.80" height="14.80" fill="#2cc4a7"/>
<rect x="139.40" y="1692.30" width="11.72" height="14.80" fill="#2cc4a7"/>
<rect x="150.72" y="1692.30" width="11.72" height="14.80" fill="#2cc4a7"/>
<rect x="162.04" y="1692.30" width="11.72" height="14.80" fill="#2cc4a7"/>
<rect x="173.35" y="1692.30" width="11.72" height="14.80" fill="#02bac3"/>
<rect x="184.67" y="1692.30" width="11.72" height="14.80" fill="#02bac3"/>
<rect x="195.99" y="1692.30" width="11.72" height="14.80" fill="#18addb"/>
<rect x="207.31" y="1692.30" width="11.72" height="14.80" fill="#18addb"/>
<rect x="218.63" y="1692.30" width="11.72" height="14.80" fill="#18addb"/>
<rect x="229.94" y="1692.30" width="11.72" height="14.80" fill="#02bac3"/>
<rect x="241.26" y="1692.30" width="11.72" height="14.80" fill="#2cc4a7"/>
<rect x="252.58" y="1692.30" width="11.72" height="14.80" fill="#4acb84"/>
<rect x="263.90" y="1692.30" width="11.72" height="14.80" fill="#4acb84"/>
<rect x="275.22" y="1692.30" width="11.72" height="14.80" fill="#2cc4a7"/>
<rect x="286.53" y="1692.30" width="11.72" height="14.80" fill="#02bac3"/>
<rect x="297.85" y="1692.30" width="11.72" height="14.80" fill="#18addb"/>
<rect x="309.17" y="1692.30" width="11.72" height="14.80" fill="#18addb"/>
<rect x="320.49" y="1692.30" width="11.72" height="14.80" fill="#18addb"/>
<rect x="331.81" y="1692.30" width="11.72" height="14.80" fill="#18addb"/>
<rect x="343.12" y="1692.30" width="11.72" height="14.80" fill="#18addb"/>
<rect x="354.44" y="1692.30" width="11.72" height="14.80" fill="#02bac3"/>
<rect x="365.76" y="1692.30" width="11.72" height="14.80" fill="#02bac3"/>
<rect x="377.08" y="1692.30" width="11.72" height="14.80" fill="#02bac3"/>
<rect x="388.40" y="1692.30" width="11.72" height="14.80" fill="#02bac3"/>
<rect x="399.71" y="1692.30" width="11.72" height="14.80" fill="#02bac3"/>
<rect x="411.03" y="1692.30" width="11.72" height="14.80" fill="#02bac3"/>
<rect x="422.35" y="1692.30" width="11.72" height="14.80" fill="#18addb"/>
<rect x="433.67" y="1692.30" width="11.72" height="14.80" fill="#18addb"/>
<rect x="444.99" y="1692.30" width="11.72" height="14.80" fill="#18addb"/>
<rect x="456.30" y="1692.30" width="11.72" height="14.80" fill="#259be8"/>
<rect x="467.62" y="1692.30" width="11.72" height="14.80" fill="#259be8"/>
<rect x="478.94" y="1692.30" width="11.72" height="14.80" fill="#259be8"/>
<rect x="490.26" y="1692.30" width="11.72" height="14.80" fill="#18addb"/>
<rect x="501.58" y="1692.30" width="11.72" height="14.80" fill="#18addb"/>
<rect x="512.89" y="1692.30" width="11.72" height="14.80" fill="#18addb"/>
<rect x="524.21" y="1692.30" width="11.72" height="14.80" fill="#02bac3"/>
<rect x="535.53" y="1692.30" width="11.72" height="14.80" fill="#02bac3"/>
<rect x="546.85" y="1692.30" width="11.72" height="14.80" fill="#02bac3"/>
<rect x="558.17" y="1692.30" width="11.72" height="14.80" fill="#02bac3"/>
<rect x="569.48" y="1692.30" width="11.72" height="14.80" fill="#18addb"/>
<rect x="580.80" y="1692.30" width="11.72" height="14.80" fill="#259be8"/>
<rect x="592.12" y="1692.30" width="11.72" height="14.80" fill="#259be8"/>
<rect x="603.44" y="1692.30" width="11.72" height="14.80" fill="#259be8"/>
<rect x="614.76" y="1692.30" width="11.72" height="14.80" fill="#259be8"/>
<rect x="626.07" y="1692.30" width="11.72" height="14.80" fill="#18addb"/>
<rect x="637.39" y="1692.30" width="11.72" height="14.80" fill="#02bac3"/>
<rect x="648.71" y="1692.30" width="11.72" height="14.80" fill="#02bac3"/>
<rect x="660.03" y="1692.30" width="11.72" height="14.80" fill="#02bac3"/>
<rect x="671.35" y="1692.30" width="11.72" height="14.80" fill="#18addb"/>
<rect x="682.66" y="1692.30" width="11.72" height="14.80" fill="#259be8"/>
<rect x="693.98" y="1692.30" width="11.72" height="14.80" fill="#2e87f7"/>
<rect x="705.30" y="1692.30" width="11.72" height="14.80" fill="#2e87f7"/>
<rect x="716.62" y="1692.30" width="11.72" height="14.80" fill="#2e87f7"/>
<rect x="727.94" y="1692.30" width="11.72" height="14.80" fill="#259be8"/>
<rect x="739.25" y="1692.30" width="11.72" height="14.80" fill="#18addb"/>
<rect x="750.57" y="1692.30" width="11.72" height="14.80" fill="#02bac3"/>
<rect x="761.89" y="1692.30" width="11.72" height="14.80" fill="#2cc4a7"/>
<rect x="773.21" y="1692.30" width="11.72" height="14.80" fill="#2cc4a7"/>
<rect x="784.53" y="1692.30" width="11.72" height="14.80" fill="#2cc4a7"/>
<rect x="795.84" y="1692.30" width="11.72" height="14.80" fill="#02bac3"/>
<rect x="807.16" y="1692.30" width="11.72" height="14.80" fill="#02bac3"/>
<rect x="818.48" y="1692.30" width="11.72" height="14.80" fill="#02bac3"/>
<rect x="829.80" y="1692.30" width="11.72" height="14.80" fill="#02bac3"/>
<rect x="841.12" y="1692.30" width="10.78" height="14.80" fill="#2cc4a7"/>
<rect x="136.00" y="1706.70" width="3.80" height="14.80" fill="#18addb"/>
<rect x="139.40" y="1706.70" width="11.72" height="14.80" fill="#18addb"/>
<rect x="150.72" y="1706.70" width="11.72" height="14.80" fill="#18addb"/>
<rect x="162.04" y="1706.70" width="11.72" height="14.80" fill="#18addb"/>
<rect x="173.35" y="1706.70" width="11.72" height="14.80" fill="#18addb"/>
<rect x="184.67" y="1706.70" width="11.72" height="14.80" fill="#18addb"/>
<rect x="195.99" y="1706.70" width="11.72" height="14.80" fill="#18addb"/>
<rect x="207.31" y="1706.70" width="11.72" height="14.80" fill="#18addb"/>
<rect x="218.63" y="1706.70" width="11.72" height="14.80" fill="#02bac3"/>
<rect x="229.94" y="1706.70" width="11.72" height="14.80" fill="#2cc4a7"/>
<rect x="241.26" y="1706.70" width="11.72" height="14.80" fill="#4acb84"/>
<rect x="252.58" y="1706.70" width="11.72" height="14.80" fill="#81cc59"/>
<rect x="263.90" y="1706.70" width="11.72" height="14.80" fill="#abc739"/>
<rect x="275.22" y="1706.70" width="11.72" height="14.80" fill="#abc739"/>
<rect x="286.53" y="1706.70" width="11.72" height="14.80" fill="#81cc59"/>
<rect x="297.85" y="1706.70" width="11.72" height="14.80" fill="#4acb84"/>
<rect x="309.17" y="1706.70" width="11.72" height="14.80" fill="#4acb84"/>
<rect x="320.49" y="1706.70" width="11.72" height="14.80" fill="#2cc4a7"/>
<rect x="331.81" y="1706.70" width="11.72" height="14.80" fill="#2cc4a7"/>
<rect x="343.12" y="1706.70" width="11.72" height="14.80" fill="#02bac3"/>
<rect x="354.44" y="1706.70" width="11.72" height="14.80" fill="#18addb"/>
<rect x="365.76" y="1706.70" width="11.72" height="14.80" fill="#259be8"/>
<rect x="377.08" y="1706.70" width="11.72" height="14.80" fill="#2e87f7"/>
<rect x="388.40" y="1706.70" width="11.72" height="14.80" fill="#2e87f7"/>
<rect x="399.71" y="1706.70" width="11.72" height="14.80" fill="#259be8"/>
<rect x="411.03" y="1706.70" width="11.72" height="14.80" fill="#18addb"/>
<rect x="422.35" y="1706.70" width="11.72" height="14.80" fill="#02bac3"/>
<rect x="433.67" y="1706.70" width="11.72" height="14.80" fill="#2cc4a7"/>
<rect x="444.99" y="1706.70" width="11.72" height="14.80" fill="#4acb84"/>
<rect x="456.30" y="1706.70" width="11.72" height="14.80" fill="#4acb84"/>
<rect x="467.62" y="1706.70" width="11.72" height="14.80" fill="#2cc4a7"/>
<rect x="478.94" y="1706.70" width="11.72" height="14.80" fill="#02bac3"/>
<rect x="490.26" y="1706.70" width="11.72" height="14.80" fill="#18addb"/>
<rect x="501.58" y="1706.70" width="11.72" height="14.80" fill="#259be8"/>
<rect x="512.89" y="1706.70" width="11.72" height="14.80" fill="#2e87f7"/>
<rect x="524.21" y="1706.70" width="11.72" height="14.80" fill="#3e6fff"/>
<rect x="535.53" y="1706.70" width="11.72" height="14.80" fill="#2e87f7"/>
<rect x="546.85" y="1706.70" width="11.72" height="14.80" fill="#259be8"/>
<rect x="558.17" y="1706.70" width="11.72" height="14.80" fill="#18addb"/>
<rect x="569.48" y="1706.70" width="11.72" height="14.80" fill="#18addb"/>
<rect x="580.80" y="1706.70" width="11.72" height="14.80" fill="#02bac3"/>
<rect x="592.12" y="1706.70" width="11.72" height="14.80" fill="#02bac3"/>
<rect x="603.44" y="1706.70" width="11.72" height="14.80" fill="#02bac3"/>
<rect x="614.76" y="1706.70" width="11.72" height="14.80" fill="#02bac3"/>
<rect x="626.07" y="1706.70" width="11.72" height="14.80" fill="#02bac3"/>
<rect x="637.39" y="1706.70" width="11.72" height="14.80" fill="#02bac3"/>
<rect x="648.71" y="1706.70" width="11.72" height="14.80" fill="#18addb"/>
<rect x="660.03" y="1706.70" width="11.72" height="14.80" fill="#259be8"/>
<rect x="671.35" y="1706.70" width="11.72" height="14.80" fill="#2e87f7"/>
<rect x="682.66" y="1706.70" width="11.72" height="14.80" fill="#3e6fff"/>
<rect x="693.98" y="1706.70" width="11.72" height="14.80" fill="#4852f4"/>
<rect x="705.30" y="1706.70" width="11.72" height="14.80" fill="#4852f4"/>
<rect x="716.62" y="1706.70" width="11.72" height="14.80" fill="#3e6fff"/>
<rect x="727.94" y="1706.70" width="11.72" height="14.80" fill="#2e87f7"/>
<rect x="739.25" y="1706.70" width="11.72" height="14.80" fill="#259be8"/>
<rect x="750.57" y="1706.70" width="11.72" height="14.80" fill="#02bac3"/>
<rect x="761.89" y="1706.70" width="11.72" height="14.80" fill="#2cc4a7"/>
<rect x="773.21" y="1706.70" width="11.72" height="14.80" fill="#4acb84"/>
<rect x="784.53" y="1706.70" width="11.72" height="14.80" fill="#4acb84"/>
<rect x="795.84" y="1706.70" width="11.72" height="14.80" fill="#4acb84"/>
<rect x="807.16" y="1706.70" width="11.72" height="14.80" fill="#4acb84"/>
<rect x="818.48" y="1706.70" width="11.72" height="14.80" fill="#4acb84"/>
<rect x="829.80" y="1706.70" width="11.72" height="14.80" fill="#81cc59"/>
<rect x="841.12" y="1706.70" width="10.78" height="14.80" fill="#abc739"/>
<rect x="136.00" y="1721.10" width="3.80" height="14.80" fill="#259be8"/>
<rect x="139.40" y="1721.10" width="11.72" height="14.80" fill="#259be8"/>
<rect x="150.72" y="1721.10" width="11.72" height="14.80" fill="#259be8"/>
<rect x="162.04" y="1721.10" width="11.72" height="14.80" fill="#259be8"/>
<rect x="173.35" y="1721.10" width="11.72" height="14.80" fill="#259be8"/>
<rect x="184.67" y="1721.10" width="11.72" height="14.80" fill="#259be8"/>
<rect x="195.99" y="1721.10" width="11.72" height="14.80" fill="#18addb"/>
<rect x="207.31" y="1721.10" width="11.72" height="14.80" fill="#02bac3"/>
<rect x="218.63" y="1721.10" width="11.72" height="14.80" fill="#2cc4a7"/>
<rect x="229.94" y="1721.10" width="11.72" height="14.80" fill="#4acb84"/>
<rect x="241.26" y="1721.10" width="11.72" height="14.80" fill="#81cc59"/>
<rect x="252.58" y="1721.10" width="11.72" height="14.80" fill="#abc739"/>
<rect x="263.90" y="1721.10" width="11.72" height="14.80" fill="#dcbd29"/>
<rect x="275.22" y="1721.10" width="11.72" height="14.80" fill="#dcbd29"/>
<rect x="286.53" y="1721.10" width="11.72" height="14.80" fill="#dcbd29"/>
<rect x="297.85" y="1721.10" width="11.72" height="14.80" fill="#dcbd29"/>
<rect x="309.17" y="1721.10" width="11.72" height="14.80" fill="#dcbd29"/>
<rect x="320.49" y="1721.10" width="11.72" height="14.80" fill="#abc739"/>
<rect x="331.81" y="1721.10" width="11.72" height="14.80" fill="#81cc59"/>
<rect x="343.12" y="1721.10" width="11.72" height="14.80" fill="#2cc4a7"/>
<rect x="354.44" y="1721.10" width="11.72" height="14.80" fill="#259be8"/>
<rect x="365.76" y="1721.10" width="11.72" height="14.80" fill="#2e87f7"/>
<rect x="377.08" y="1721.10" width="11.72" height="14.80" fill="#3e6fff"/>
<rect x="388.40" y="1721.10" width="11.72" height="14.80" fill="#3e6fff"/>
<rect x="399.71" y="1721.10" width="11.72" height="14.80" fill="#2e87f7"/>
<rect x="411.03" y="1721.10" width="11.72" height="14.80" fill="#259be8"/>
<rect x="422.35" y="1721.10" width="11.72" height="14.80" fill="#02bac3"/>
<rect x="433.67" y="1721.10" width="11.72" height="14.80" fill="#81cc59"/>
<rect x="444.99" y="1721.10" width="11.72" height="14.80" fill="#dcbd29"/>
<rect x="456.30" y="1721.10" width="11.72" height="14.80" fill="#dcbd29"/>
<rect x="467.62" y="1721.10" width="11.72" height="14.80" fill="#abc739"/>
<rect x="478.94" y="1721.10" width="11.72" height="14.80" fill="#2cc4a7"/>
<rect x="490.26" y="1721.10" width="11.72" height="14.80" fill="#18addb"/>
<rect x="501.58" y="1721.10" width="11.72" height="14.80" fill="#2e87f7"/>
<rect x="512.89" y="1721.10" width="11.72" height="14.80" fill="#4852f4"/>
<rect x="524.21" y="1721.10" width="11.72" height="14.80" fill="#463cde"/>
<rect x="535.53" y="1721.10" width="11.72" height="14.80" fill="#4852f4"/>
<rect x="546.85" y="1721.10" width="11.72" height="14.80" fill="#3e6fff"/>
<rect x="558.17" y="1721.10" width="11.72" height="14.80" fill="#259be8"/>
<rect x="569.48" y="1721.10" width="11.72" height="14.80" fill="#18addb"/>
<rect x="580.80" y="1721.10" width="11.72" height="14.80" fill="#2cc4a7"/>
<rect x="592.12" y="1721.10" width="11.72" height="14.80" fill="#4acb84"/>
<rect x="603.44" y="1721.10" width="11.72" height="14.80" fill="#4acb84"/>
<rect x="614.76" y="1721.10" width="11.72" height="14.80" fill="#4acb84"/>
<rect x="626.07" y="1721.10" width="11.72" height="14.80" fill="#2cc4a7"/>
<rect x="637.39" y="1721.10" width="11.72" height="14.80" fill="#18addb"/>
<rect x="648.71" y="1721.10" width="11.72" height="14.80" fill="#259be8"/>
<rect x="660.03" y="1721.10" width="11.72" height="14.80" fill="#2e87f7"/>
<rect x="671.35" y="1721.10" width="11.72" height="14.80" fill="#3e6fff"/>
<rect x="682.66" y="1721.10" width="11.72" height="14.80" fill="#463cde"/>
<rect x="693.98" y="1721.10" width="11.72" height="14.80" fill="#463cde"/>
<rect x="705.30" y="1721.10" width="11.72" height="14.80" fill="#463cde"/>
<rect x="716.62" y="1721.10" width="11.72" height="14.80" fill="#4852f4"/>
<rect x="727.94" y="1721.10" width="11.72" height="14.80" fill="#2e87f7"/>
<rect x="739.25" y="1721.10" width="11.72" height="14.80" fill="#259be8"/>
<rect x="750.57" y="1721.10" width="11.72" height="14.80" fill="#02bac3"/>
<rect x="761.89" y="1721.10" width="11.72" height="14.80" fill="#2cc4a7"/>
<rect x="773.21" y="1721.10" width="11.72" height="14.80" fill="#4acb84"/>
<rect x="784.53" y="1721.10" width="11.72" height="14.80" fill="#abc739"/>
<rect x="795.84" y="1721.10" width="11.72" height="14.80" fill="#abc739"/>
<rect x="807.16" y="1721.10" width="11.72" height="14.80" fill="#dcbd29"/>
<rect x="818.48" y="1721.10" width="11.72" height="14.80" fill="#dcbd29"/>
<rect x="829.80" y="1721.10" width="11.72" height="14.80" fill="#dcbd29"/>
<rect x="841.12" y="1721.10" width="10.78" height="14.80" fill="#dcbd29"/>
<rect x="136.00" y="1735.50" width="3.80" height="14.80" fill="#259be8"/>
<rect x="139.40" y="1735.50" width="11.72" height="14.80" fill="#259be8"/>
<rect x="150.72" y="1735.50" width="11.72" height="14.80" fill="#2e87f7"/>
<rect x="162.04" y="1735.50" width="11.72" height="14.80" fill="#2e87f7"/>
<rect x="173.35" y="1735.50" width="11.72" height="14.80" fill="#259be8"/>
<rect x="184.67" y="1735.50" width="11.72" height="14.80" fill="#259be8"/>
<rect x="195.99" y="1735.50" width="11.72" height="14.80" fill="#18addb"/>
<rect x="207.31" y="1735.50" width="11.72" height="14.80" fill="#02bac3"/>
<rect x="218.63" y="1735.50" width="11.72" height="14.80" fill="#2cc4a7"/>
<rect x="229.94" y="1735.50" width="11.72" height="14.80" fill="#4acb84"/>
<rect x="241.26" y="1735.50" width="11.72" height="14.80" fill="#4acb84"/>
<rect x="252.58" y="1735.50" width="11.72" height="14.80" fill="#4acb84"/>
<rect x="263.90" y="1735.50" width="11.72" height="14.80" fill="#4acb84"/>
<rect x="275.22" y="1735.50" width="11.72" height="14.80" fill="#4acb84"/>
<rect x="286.53" y="1735.50" width="11.72" height="14.80" fill="#81cc59"/>
<rect x="297.85" y="1735.50" width="11.72" height="14.80" fill="#abc739"/>
<rect x="309.17" y="1735.50" width="11.72" height="14.80" fill="#dcbd29"/>
<rect x="320.49" y="1735.50" width="11.72" height="14.80" fill="#abc739"/>
<rect x="331.81" y="1735.50" width="11.72" height="14.80" fill="#81cc59"/>
<rect x="343.12" y="1735.50" width="11.72" height="14.80" fill="#2cc4a7"/>
<rect x="354.44" y="1735.50" width="11.72" height="14.80" fill="#259be8"/>
<rect x="365.76" y="1735.50" width="11.72" height="14.80" fill="#2e87f7"/>
<rect x="377.08" y="1735.50" width="11.72" height="14.80" fill="#4852f4"/>
<rect x="388.40" y="1735.50" width="11.72" height="14.80" fill="#463cde"/>
<rect x="399.71" y="1735.50" width="11.72" height="14.80" fill="#4852f4"/>
<rect x="411.03" y="1735.50" width="11.72" height="14.80" fill="#2e87f7"/>
<rect x="422.35" y="1735.50" width="11.72" height="14.80" fill="#02bac3"/>
<rect x="433.67" y="1735.50" width="11.72" height="14.80" fill="#abc739"/>
<rect x="444.99" y="1735.50" width="11.72" height="14.80" fill="#febe3c"/>
<rect x="456.30" y="1735.50" width="11.72" height="14.80" fill="#f9fb15"/>
<rect x="467.62" y="1735.50" width="11.72" height="14.80" fill="#febe3c"/>
<rect x="478.94" y="1735.50" width="11.72" height="14.80" fill="#81cc59"/>
<rect x="490.26" y="1735.50" width="11.72" height="14.80" fill="#18addb"/>
<rect x="501.58" y="1735.50" width="11.72" height="14.80" fill="#3e6fff"/>
<rect x="512.89" y="1735.50" width="11.72" height="14.80" fill="#463cde"/>
<rect x="524.21" y="1735.50" width="11.72" height="14.80" fill="#402ab4"/>
<rect x="535.53" y="1735.50" width="11.72" height="14.80" fill="#463cde"/>
<rect x="546.85" y="1735.50" width="11.72" height="14.80" fill="#4852f4"/>
<rect x="558.17" y="1735.50" width="11.72" height="14.80" fill="#259be8"/>
<rect x="569.48" y="1735.50" width="11.72" height="14.80" fill="#02bac3"/>
<rect x="580.80" y="1735.50" width="11.72" height="14.80" fill="#81cc59"/>
<rect x="592.12" y="1735.50" width="11.72" height="14.80" fill="#abc739"/>
<rect x="603.44" y="1735.50" width="11.72" height="14.80" fill="#abc739"/>
<rect x="614.76" y="1735.50" width="11.72" height="14.80" fill="#81cc59"/>
<rect x="626.07" y="1735.50" width="11.72" height="14.80" fill="#2cc4a7"/>
<rect x="637.39" y="1735.50" width="11.72" height="14.80" fill="#18addb"/>
<rect x="648.71" y="1735.50" width="11.72" height="14.80" fill="#259be8"/>
<rect x="660.03" y="1735.50" width="11.72" height="14.80" fill="#3e6fff"/>
<rect x="671.35" y="1735.50" width="11.72" height="14.80" fill="#4852f4"/>
<rect x="682.66" y="1735.50" width="11.72" height="14.80" fill="#463cde"/>
<rect x="693.98" y="1735.50" width="11.72" height="14.80" fill="#463cde"/>
<rect x="705.30" y="1735.50" width="11.72" height="14.80" fill="#4852f4"/>
<rect x="716.62" y="1735.50" width="11.72" height="14.80" fill="#3e6fff"/>
<rect x="727.94" y="1735.50" width="11.72" height="14.80" fill="#2e87f7"/>
<rect x="739.25" y="1735.50" width="11.72" height="14.80" fill="#259be8"/>
<rect x="750.57" y="1735.50" width="11.72" height="14.80" fill="#02bac3"/>
<rect x="761.89" y="1735.50" width="11.72" height="14.80" fill="#2cc4a7"/>
<rect x="773.21" y="1735.50" width="11.72" height="14.80" fill="#4acb84"/>
<rect x="784.53" y="1735.50" width="11.72" height="14.80" fill="#81cc59"/>
<rect x="795.84" y="1735.50" width="11.72" height="14.80" fill="#81cc59"/>
<rect x="807.16" y="1735.50" width="11.72" height="14.80" fill="#81cc59"/>
<rect x="818.48" y="1735.50" width="11.72" height="14.80" fill="#abc739"/>
<rect x="829.80" y="1735.50" width="11.72" height="14.80" fill="#abc739"/>
<rect x="841.12" y="1735.50" width="10.78" height="14.80" fill="#abc739"/>
<rect x="136.00" y="1749.90" width="3.80" height="14.80" fill="#02bac3"/>
<rect x="139.40" y="1749.90" width="11.72" height="14.80" fill="#02bac3"/>
<rect x="150.72" y="1749.90" width="11.72" height="14.80" fill="#18addb"/>
<rect x="162.04" y="1749.90" width="11.72" height="14.80" fill="#18addb"/>
<rect x="173.35" y="1749.90" width="11.72" height="14.80" fill="#18addb"/>
<rect x="184.67" y="1749.90" width="11.72" height="14.80" fill="#02bac3"/>
<rect x="195.99" y="1749.90" width="11.72" height="14.80" fill="#2cc4a7"/>
<rect x="207.31" y="1749.90" width="11.72" height="14.80" fill="#4acb84"/>
<rect x="218.63" y="1749.90" width="11.72" height="14.80" fill="#4acb84"/>
<rect x="229.94" y="1749.90" width="11.72" height="14.80" fill="#4acb84"/>
<rect x="241.26" y="1749.90" width="11.72" height="14.80" fill="#2cc4a7"/>
<rect x="252.58" y="1749.90" width="11.72" height="14.80" fill="#02bac3"/>
<rect x="263.90" y="1749.90" width="11.72" height="14.80" fill="#18addb"/>
<rect x="275.22" y="1749.90" width="11.72" height="14.80" fill="#18addb"/>
<rect x="286.53" y="1749.90" width="11.72" height="14.80" fill="#02bac3"/>
<rect x="297.85" y="1749.90" width="11.72" height="14.80" fill="#2cc4a7"/>
<rect x="309.17" y="1749.90" width="11.72" height="14.80" fill="#4acb84"/>
<rect x="320.49" y="1749.90" width="11.72" height="14.80" fill="#81cc59"/>
<rect x="331.81" y="1749.90" width="11.72" height="14.80" fill="#81cc59"/>
<rect x="343.12" y="1749.90" width="11.72" height="14.80" fill="#2cc4a7"/>
<rect x="354.44" y="1749.90" width="11.72" height="14.80" fill="#18addb"/>
<rect x="365.76" y="1749.90" width="11.72" height="14.80" fill="#2e87f7"/>
<rect x="377.08" y="1749.90" width="11.72" height="14.80" fill="#4852f4"/>
<rect x="388.40" y="1749.90" width="11.72" height="14.80" fill="#463cde"/>
<rect x="399.71" y="1749.90" width="11.72" height="14.80" fill="#4852f4"/>
<rect x="411.03" y="1749.90" width="11.72" height="14.80" fill="#2e87f7"/>
<rect x="422.35" y="1749.90" width="11.72" height="14.80" fill="#18addb"/>
<rect x="433.67" y="1749.90" width="11.72" height="14.80" fill="#4acb84"/>
<rect x="444.99" y="1749.90" width="11.72" height="14.80" fill="#febe3c"/>
<rect x="456.30" y="1749.90" width="11.72" height="14.80" fill="#febe3c"/>
<rect x="467.62" y="1749.90" width="11.72" height="14.80" fill="#dcbd29"/>
<rect x="478.94" y="1749.90" width="11.72" height="14.80" fill="#4acb84"/>
<rect x="490.26" y="1749.90" width="11.72" height="14.80" fill="#18addb"/>
<rect x="501.58" y="1749.90" width="11.72" height="14.80" fill="#3e6fff"/>
<rect x="512.89" y="1749.90" width="11.72" height="14.80" fill="#463cde"/>
<rect x="524.21" y="1749.90" width="11.72" height="14.80" fill="#402ab4"/>
<rect x="535.53" y="1749.90" width="11.72" height="14.80" fill="#463cde"/>
<rect x="546.85" y="1749.90" width="11.72" height="14.80" fill="#3e6fff"/>
<rect x="558.17" y="1749.90" width="11.72" height="14.80" fill="#259be8"/>
<rect x="569.48" y="1749.90" width="11.72" height="14.80" fill="#2cc4a7"/>
<rect x="580.80" y="1749.90" width="11.72" height="14.80" fill="#abc739"/>
<rect x="592.12" y="1749.90" width="11.72" height="14.80" fill="#dcbd29"/>
<rect x="603.44" y="1749.90" width="11.72" height="14.80" fill="#abc739"/>
<rect x="614.76" y="1749.90" width="11.72" height="14.80" fill="#81cc59"/>
<rect x="626.07" y="1749.90" width="11.72" height="14.80" fill="#2cc4a7"/>
<rect x="637.39" y="1749.90" width="11.72" height="14.80" fill="#18addb"/>
<rect x="648.71" y="1749.90" width="11.72" height="14.80" fill="#259be8"/>
<rect x="660.03" y="1749.90" width="11.72" height="14.80" fill="#2e87f7"/>
<rect x="671.35" y="1749.90" width="11.72" height="14.80" fill="#2e87f7"/>
<rect x="682.66" y="1749.90" width="11.72" height="14.80" fill="#2e87f7"/>
<rect x="693.98" y="1749.90" width="11.72" height="14.80" fill="#2e87f7"/>
<rect x="705.30" y="1749.90" width="11.72" height="14.80" fill="#259be8"/>
<rect x="716.62" y="1749.90" width="11.72" height="14.80" fill="#259be8"/>
<rect x="727.94" y="1749.90" width="11.72" height="14.80" fill="#18addb"/>
<rect x="739.25" y="1749.90" width="11.72" height="14.80" fill="#02bac3"/>
<rect x="750.57" y="1749.90" width="11.72" height="14.80" fill="#02bac3"/>
<rect x="761.89" y="1749.90" width="11.72" height="14.80" fill="#02bac3"/>
<rect x="773.21" y="1749.90" width="11.72" height="14.80" fill="#02bac3"/>
<rect x="784.53" y="1749.90" width="11.72" height="14.80" fill="#2cc4a7"/>
<rect x="795.84" y="1749.90" width="11.72" height="14.80" fill="#2cc4a7"/>
<rect x="807.16" y="1749.90" width="11.72" height="14.80" fill="#2cc4a7"/>
<rect x="818.48" y="1749.90" width="11.72" height="14.80" fill="#2cc4a7"/>
<rect x="829.80" y="1749.90" width="11.72" height="14.80" fill="#2cc4a7"/>
<rect x="841.12" y="1749.90" width="10.78" height="14.80" fill="#2cc4a7"/>
<rect x="136.00" y="1764.30" width="3.80" height="14.80" fill="#4acb84"/>
<rect x="139.40" y="1764.30" width="11.72" height="14.80" fill="#4acb84"/>
<rect x="150.72" y="1764.30" width="11.72" height="14.80" fill="#2cc4a7"/>
<rect x="162.04" y="1764.30" width="11.72" height="14.80" fill="#2cc4a7"/>
<rect x="173.35" y="1764.30" width="11.72" height="14.80" fill="#2cc4a7"/>
<rect x="184.67" y="1764.30" width="11.72" height="14.80" fill="#4acb84"/>
<rect x="195.99" y="1764.30" width="11.72" height="14.80" fill="#4acb84"/>
<rect x="207.31" y="1764.30" width="11.72" height="14.80" fill="#4acb84"/>
<rect x="218.63" y="1764.30" width="11.72" height="14.80" fill="#4acb84"/>
<rect x="229.94" y="1764.30" width="11.72" height="14.80" fill="#2cc4a7"/>
<rect x="241.26" y="1764.30" width="11.72" height="14.80" fill="#18addb"/>
<rect x="252.58" y="1764.30" width="11.72" height="14.80" fill="#259be8"/>
<rect x="263.90" y="1764.30" width="11.72" height="14.80" fill="#2e87f7"/>
<rect x="275.22" y="1764.30" width="11.72" height="14.80" fill="#2e87f7"/>
<rect x="286.53" y="1764.30" width="11.72" height="14.80" fill="#259be8"/>
<rect x="297.85" y="1764.30" width="11.72" height="14.80" fill="#259be8"/>
<rect x="309.17" y="1764.30" width="11.72" height="14.80" fill="#02bac3"/>
<rect x="320.49" y="1764.30" width="11.72" height="14.80" fill="#2cc4a7"/>
<rect x="331.81" y="1764.30" width="11.72" height="14.80" fill="#4acb84"/>
<rect x="343.12" y="1764.30" width="11.72" height="14.80" fill="#2cc4a7"/>
<rect x="354.44" y="1764.30" width="11.72" height="14.80" fill="#18addb"/>
<rect x="365.76" y="1764.30" width="11.72" height="14.80" fill="#259be8"/>
<rect x="377.08" y="1764.30" width="11.72" height="14.80" fill="#3e6fff"/>
<rect x="388.40" y="1764.30" width="11.72" height="14.80" fill="#3e6fff"/>
<rect x="399.71" y="1764.30" width="11.72" height="14.80" fill="#3e6fff"/>
<rect x="411.03" y="1764.30" width="11.72" height="14.80" fill="#2e87f7"/>
<rect x="422.35" y="1764.30" width="11.72" height="14.80" fill="#259be8"/>
<rect x="433.67" y="1764.30" width="11.72" height="14.80" fill="#2cc4a7"/>
<rect x="444.99" y="1764.30" width="11.72" height="14.80" fill="#81cc59"/>
<rect x="456.30" y="1764.30" width="11.72" height="14.80" fill="#abc739"/>
<rect x="467.62" y="1764.30" width="11.72" height="14.80" fill="#81cc59"/>
<rect x="478.94" y="1764.30" width="11.72" height="14.80" fill="#2cc4a7"/>
<rect x="490.26" y="1764.30" width="11.72" height="14.80" fill="#18addb"/>
<rect x="501.58" y="1764.30" width="11.72" height="14.80" fill="#2e87f7"/>
<rect x="512.89" y="1764.30" width="11.72" height="14.80" fill="#4852f4"/>
<rect x="524.21" y="1764.30" width="11.72" height="14.80" fill="#4852f4"/>
<rect x="535.53" y="1764.30" width="11.72" height="14.80" fill="#3e6fff"/>
<rect x="546.85" y="1764.30" width="11.72" height="14.80" fill="#2e87f7"/>
<rect x="558.17" y="1764.30" width="11.72" height="14.80" fill="#18addb"/>
<rect x="569.48" y="1764.30" width="11.72" height="14.80" fill="#2cc4a7"/>
<rect x="580.80" y="1764.30" width="11.72" height="14.80" fill="#81cc59"/>
<rect x="592.12" y="1764.30" width="11.72" height="14.80" fill="#81cc59"/>
<rect x="603.44" y="1764.30" width="11.72" height="14.80" fill="#4acb84"/>
<rect x="614.76" y="1764.30" width="11.72" height="14.80" fill="#2cc4a7"/>
<rect x="626.07" y="1764.30" width="11.72" height="14.80" fill="#02bac3"/>
<rect x="637.39" y="1764.30" width="11.72" height="14.80" fill="#18addb"/>
<rect x="648.71" y="1764.30" width="11.72" height="14.80" fill="#18addb"/>
<rect x="660.03" y="1764.30" width="11.72" height="14.80" fill="#18addb"/>
<rect x="671.35" y="1764.30" width="11.72" height="14.80" fill="#02bac3"/>
<rect x="682.66" y="1764.30" width="11.72" height="14.80" fill="#02bac3"/>
<rect x="693.98" y="1764.30" width="11.72" height="14.80" fill="#2cc4a7"/>
<rect x="705.30" y="1764.30" width="11.72" height="14.80" fill="#4acb84"/>
<rect x="716.62" y="1764.30" width="11.72" height="14.80" fill="#4acb84"/>
<rect x="727.94" y="1764.30" width="11.72" height="14.80" fill="#4acb84"/>
<rect x="739.25" y="1764.30" width="11.72" height="14.80" fill="#2cc4a7"/>
<rect x="750.57" y="1764.30" width="11.72" height="14.80" fill="#2cc4a7"/>
<rect x="761.89" y="1764.30" width="11.72" height="14.80" fill="#02bac3"/>
<rect x="773.21" y="1764.30" width="11.72" height="14.80" fill="#18addb"/>
<rect x="784.53" y="1764.30" width="11.72" height="14.80" fill="#18addb"/>
<rect x="795.84" y="1764.30" width="11.72" height="14.80" fill="#18addb"/>
<rect x="807.16" y="1764.30" width="11.72" height="14.80" fill="#18addb"/>
<rect x="818.48" y="1764.30" width="11.72" height="14.80" fill="#18addb"/>
<rect x="829.80" y="1764.30" width="11.72" height="14.80" fill="#18addb"/>
<rect x="841.12" y="1764.30" width="10.78" height="14.80" fill="#259be8"/>
<rect x="136.00" y="1778.70" width="3.80" height="14.80" fill="#dcbd29"/>
<rect x="139.40" y="1778.70" width="11.72" height="14.80" fill="#81cc59"/>
<rect x="150.72" y="1778.70" width="11.72" height="14.80" fill="#81cc59"/>
<rect x="162.04" y="1778.70" width="11.72" height="14.80" fill="#4acb84"/>
<rect x="173.35" y="1778.70" width="11.72" height="14.80" fill="#4acb84"/>
<rect x="184.67" y="1778.70" width="11.72" height="14.80" fill="#81cc59"/>
<rect x="195.99" y="1778.70" width="11.72" height="14.80" fill="#abc739"/>
<rect x="207.31" y="1778.70" width="11.72" height="14.80" fill="#abc739"/>
<rect x="218.63" y="1778.70" width="11.72" height="14.80" fill="#4acb84"/>
<rect x="229.94" y="1778.70" width="11.72" height="14.80" fill="#2cc4a7"/>
<rect x="241.26" y="1778.70" width="11.72" height="14.80" fill="#259be8"/>
<rect x="252.58" y="1778.70" width="11.72" height="14.80" fill="#3e6fff"/>
<rect x="263.90" y="1778.70" width="11.72" height="14.80" fill="#4852f4"/>
<rect x="275.22" y="1778.70" width="11.72" height="14.80" fill="#463cde"/>
<rect x="286.53" y="1778.70" width="11.72" height="14.80" fill="#463cde"/>
<rect x="297.85" y="1778.70" width="11.72" height="14.80" fill="#3e6fff"/>
<rect x="309.17" y="1778.70" width="11.72" height="14.80" fill="#259be8"/>
<rect x="320.49" y="1778.70" width="11.72" height="14.80" fill="#02bac3"/>
<rect x="331.81" y="1778.70" width="11.72" height="14.80" fill="#2cc4a7"/>
<rect x="343.12" y="1778.70" width="11.72" height="14.80" fill="#4acb84"/>
<rect x="354.44" y="1778.70" width="11.72" height="14.80" fill="#2cc4a7"/>
<rect x="365.76" y="1778.70" width="11.72" height="14.80" fill="#02bac3"/>
<rect x="377.08" y="1778.70" width="11.72" height="14.80" fill="#18addb"/>
<rect x="388.40" y="1778.70" width="11.72" height="14.80" fill="#259be8"/>
<rect x="399.71" y="1778.70" width="11.72" height="14.80" fill="#2e87f7"/>
<rect x="411.03" y="1778.70" width="11.72" height="14.80" fill="#2e87f7"/>
<rect x="422.35" y="1778.70" width="11.72" height="14.80" fill="#259be8"/>
<rect x="433.67" y="1778.70" width="11.72" height="14.80" fill="#18addb"/>
<rect x="444.99" y="1778.70" width="11.72" height="14.80" fill="#02bac3"/>
<rect x="456.30" y="1778.70" width="11.72" height="14.80" fill="#02bac3"/>
<rect x="467.62" y="1778.70" width="11.72" height="14.80" fill="#02bac3"/>
<rect x="478.94" y="1778.70" width="11.72" height="14.80" fill="#02bac3"/>
<rect x="490.26" y="1778.70" width="11.72" height="14.80" fill="#18addb"/>
<rect x="501.58" y="1778.70" width="11.72" height="14.80" fill="#259be8"/>
<rect x="512.89" y="1778.70" width="11.72" height="14.80" fill="#259be8"/>
<rect x="524.21" y="1778.70" width="11.72" height="14.80" fill="#259be8"/>
<rect x="535.53" y="1778.70" width="11.72" height="14.80" fill="#259be8"/>
<rect x="546.85" y="1778.70" width="11.72" height="14.80" fill="#18addb"/>
<rect x="558.17" y="1778.70" width="11.72" height="14.80" fill="#2cc4a7"/>
<rect x="569.48" y="1778.70" width="11.72" height="14.80" fill="#4acb84"/>
<rect x="580.80" y="1778.70" width="11.72" height="14.80" fill="#4acb84"/>
<rect x="592.12" y="1778.70" width="11.72" height="14.80" fill="#2cc4a7"/>
<rect x="603.44" y="1778.70" width="11.72" height="14.80" fill="#02bac3"/>
<rect x="614.76" y="1778.70" width="11.72" height="14.80" fill="#18addb"/>
<rect x="626.07" y="1778.70" width="11.72" height="14.80" fill="#259be8"/>
<rect x="637.39" y="1778.70" width="11.72" height="14.80" fill="#259be8"/>
<rect x="648.71" y="1778.70" width="11.72" height="14.80" fill="#18addb"/>
<rect x="660.03" y="1778.70" width="11.72" height="14.80" fill="#02bac3"/>
<rect x="671.35" y="1778.70" width="11.72" height="14.80" fill="#4acb84"/>
<rect x="682.66" y="1778.70" width="11.72" height="14.80" fill="#81cc59"/>
<rect x="693.98" y="1778.70" width="11.72" height="14.80" fill="#dcbd29"/>
<rect x="705.30" y="1778.70" width="11.72" height="14.80" fill="#febe3c"/>
<rect x="716.62" y="1778.70" width="11.72" height="14.80" fill="#dcbd29"/>
<rect x="727.94" y="1778.70" width="11.72" height="14.80" fill="#abc739"/>
<rect x="739.25" y="1778.70" width="11.72" height="14.80" fill="#4acb84"/>
<rect x="750.57" y="1778.70" width="11.72" height="14.80" fill="#2cc4a7"/>
<rect x="761.89" y="1778.70" width="11.72" height="14.80" fill="#18addb"/>
<rect x="773.21" y="1778.70" width="11.72" height="14.80" fill="#259be8"/>
<rect x="784.53" y="1778.70" width="11.72" height="14.80" fill="#259be8"/>
<rect x="795.84" y="1778.70" width="11.72" height="14.80" fill="#2e87f7"/>
<rect x="807.16" y="1778.70" width="11.72" height="14.80" fill="#2e87f7"/>
<rect x="818.48" y="1778.70" width="11.72" height="14.80" fill="#2e87f7"/>
<rect x="829.80" y="1778.70" width="11.72" height="14.80" fill="#2e87f7"/>
<rect x="841.12" y="1778.70" width="10.78" height="14.80" fill="#2e87f7"/>
<rect x="136.00" y="1793.10" width="3.80" height="14.80" fill="#abc739"/>
<rect x="139.40" y="1793.10" width="11.72" height="14.80" fill="#81cc59"/>
<rect x="150.72" y="1793.10" width="11.72" height="14.80" fill="#81cc59"/>
<rect x="162.04" y="1793.10" width="11.72" height="14.80" fill="#81cc59"/>
<rect x="173.35" y="1793.10" width="11.72" height="14.80" fill="#81cc59"/>
<rect x="184.67" y="1793.10" width="11.72" height="14.80" fill="#abc739"/>
<rect x="195.99" y="1793.10" width="11.72" height="14.80" fill="#abc739"/>
<rect x="207.31" y="1793.10" width="11.72" height="14.80" fill="#81cc59"/>
<rect x="218.63" y="1793.10" width="11.72" height="14.80" fill="#4acb84"/>
<rect x="229.94" y="1793.10" width="11.72" height="14.80" fill="#02bac3"/>
<rect x="241.26" y="1793.10" width="11.72" height="14.80" fill="#259be8"/>
<rect x="252.58" y="1793.10" width="11.72" height="14.80" fill="#3e6fff"/>
<rect x="263.90" y="1793.10" width="11.72" height="14.80" fill="#4852f4"/>
<rect x="275.22" y="1793.10" width="11.72" height="14.80" fill="#463cde"/>
<rect x="286.53" y="1793.10" width="11.72" height="14.80" fill="#463cde"/>
<rect x="297.85" y="1793.10" width="11.72" height="14.80" fill="#4852f4"/>
<rect x="309.17" y="1793.10" width="11.72" height="14.80" fill="#2e87f7"/>
<rect x="320.49" y="1793.10" width="11.72" height="14.80" fill="#18addb"/>
<rect x="331.81" y="1793.10" width="11.72" height="14.80" fill="#2cc4a7"/>
<rect x="343.12" y="1793.10" width="11.72" height="14.80" fill="#4acb84"/>
<rect x="354.44" y="1793.10" width="11.72" height="14.80" fill="#81cc59"/>
<rect x="365.76" y="1793.10" width="11.72" height="14.80" fill="#4acb84"/>
<rect x="377.08" y="1793.10" width="11.72" height="14.80" fill="#2cc4a7"/>
<rect x="388.40" y="1793.10" width="11.72" height="14.80" fill="#02bac3"/>
<rect x="399.71" y="1793.10" width="11.72" height="14.80" fill="#18addb"/>
<rect x="411.03" y="1793.10" width="11.72" height="14.80" fill="#259be8"/>
<rect x="422.35" y="1793.10" width="11.72" height="14.80" fill="#259be8"/>
<rect x="433.67" y="1793.10" width="11.72" height="14.80" fill="#2e87f7"/>
<rect x="444.99" y="1793.10" width="11.72" height="14.80" fill="#2e87f7"/>
<rect x="456.30" y="1793.10" width="11.72" height="14.80" fill="#2e87f7"/>
<rect x="467.62" y="1793.10" width="11.72" height="14.80" fill="#2e87f7"/>
<rect x="478.94" y="1793.10" width="11.72" height="14.80" fill="#259be8"/>
<rect x="490.26" y="1793.10" width="11.72" height="14.80" fill="#18addb"/>
<rect x="501.58" y="1793.10" width="11.72" height="14.80" fill="#02bac3"/>
<rect x="512.89" y="1793.10" width="11.72" height="14.80" fill="#2cc4a7"/>
<rect x="524.21" y="1793.10" width="11.72" height="14.80" fill="#2cc4a7"/>
<rect x="535.53" y="1793.10" width="11.72" height="14.80" fill="#4acb84"/>
<rect x="546.85" y="1793.10" width="11.72" height="14.80" fill="#4acb84"/>
<rect x="558.17" y="1793.10" width="11.72" height="14.80" fill="#4acb84"/>
<rect x="569.48" y="1793.10" width="11.72" height="14.80" fill="#2cc4a7"/>
<rect x="580.80" y="1793.10" width="11.72" height="14.80" fill="#02bac3"/>
<rect x="592.12" y="1793.10" width="11.72" height="14.80" fill="#259be8"/>
<rect x="603.44" y="1793.10" width="11.72" height="14.80" fill="#259be8"/>
<rect x="614.76" y="1793.10" width="11.72" height="14.80" fill="#2e87f7"/>
<rect x="626.07" y="1793.10" width="11.72" height="14.80" fill="#2e87f7"/>
<rect x="637.39" y="1793.10" width="11.72" height="14.80" fill="#259be8"/>
<rect x="648.71" y="1793.10" width="11.72" height="14.80" fill="#18addb"/>
<rect x="660.03" y="1793.10" width="11.72" height="14.80" fill="#2cc4a7"/>
<rect x="671.35" y="1793.10" width="11.72" height="14.80" fill="#81cc59"/>
<rect x="682.66" y="1793.10" width="11.72" height="14.80" fill="#febe3c"/>
<rect x="693.98" y="1793.10" width="11.72" height="14.80" fill="#f7dc2a"/>
<rect x="705.30" y="1793.10" width="11.72" height="14.80" fill="#f7dc2a"/>
<rect x="716.62" y="1793.10" width="11.72" height="14.80" fill="#febe3c"/>
<rect x="727.94" y="1793.10" width="11.72" height="14.80" fill="#abc739"/>
<rect x="739.25" y="1793.10" width="11.72" height="14.80" fill="#4acb84"/>
<rect x="750.57" y="1793.10" width="11.72" height="14.80" fill="#02bac3"/>
<rect x="761.89" y="1793.10" width="11.72" height="14.80" fill="#259be8"/>
<rect x="773.21" y="1793.10" width="11.72" height="14.80" fill="#259be8"/>
<rect x="784.53" y="1793.10" width="11.72" height="14.80" fill="#2e87f7"/>
<rect x="795.84" y="1793.10" width="11.72" height="14.80" fill="#2e87f7"/>
<rect x="807.16" y="1793.10" width="11.72" height="14.80" fill="#2e87f7"/>
<rect x="818.48" y="1793.10" width="11.72" height="14.80" fill="#259be8"/>
<rect x="829.80" y="1793.10" width="11.72" height="14.80" fill="#259be8"/>
<rect x="841.12" y="1793.10" width="10.78" height="14.80" fill="#2e87f7"/>
<rect x="136.00" y="1807.50" width="3.80" height="14.80" fill="#4acb84"/>
<rect x="139.40" y="1807.50" width="11.72" height="14.80" fill="#4acb84"/>
<rect x="150.72" y="1807.50" width="11.72" height="14.80" fill="#4acb84"/>
<rect x="162.04" y="1807.50" width="11.72" height="14.80" fill="#4acb84"/>
<rect x="173.35" y="1807.50" width="11.72" height="14.80" fill="#4acb84"/>
<rect x="184.67" y="1807.50" width="11.72" height="14.80" fill="#81cc59"/>
<rect x="195.99" y="1807.50" width="11.72" height="14.80" fill="#abc739"/>
<rect x="207.31" y="1807.50" width="11.72" height="14.80" fill="#81cc59"/>
<rect x="218.63" y="1807.50" width="11.72" height="14.80" fill="#4acb84"/>
<rect x="229.94" y="1807.50" width="11.72" height="14.80" fill="#2cc4a7"/>
<rect x="241.26" y="1807.50" width="11.72" height="14.80" fill="#18addb"/>
<rect x="252.58" y="1807.50" width="11.72" height="14.80" fill="#2e87f7"/>
<rect x="263.90" y="1807.50" width="11.72" height="14.80" fill="#3e6fff"/>
<rect x="275.22" y="1807.50" width="11.72" height="14.80" fill="#4852f4"/>
<rect x="286.53" y="1807.50" width="11.72" height="14.80" fill="#4852f4"/>
<rect x="297.85" y="1807.50" width="11.72" height="14.80" fill="#3e6fff"/>
<rect x="309.17" y="1807.50" width="11.72" height="14.80" fill="#2e87f7"/>
<rect x="320.49" y="1807.50" width="11.72" height="14.80" fill="#18addb"/>
<rect x="331.81" y="1807.50" width="11.72" height="14.80" fill="#02bac3"/>
<rect x="343.12" y="1807.50" width="11.72" height="14.80" fill="#4acb84"/>
<rect x="354.44" y="1807.50" width="11.72" height="14.80" fill="#81cc59"/>
<rect x="365.76" y="1807.50" width="11.72" height="14.80" fill="#abc739"/>
<rect x="377.08" y="1807.50" width="11.72" height="14.80" fill="#abc739"/>
<rect x="388.40" y="1807.50" width="11.72" height="14.80" fill="#81cc59"/>
<rect x="399.71" y="1807.50" width="11.72" height="14.80" fill="#2cc4a7"/>
<rect x="411.03" y="1807.50" width="11.72" height="14.80" fill="#02bac3"/>
<rect x="422.35" y="1807.50" width="11.72" height="14.80" fill="#259be8"/>
<rect x="433.67" y="1807.50" width="11.72" height="14.80" fill="#2e87f7"/>
<rect x="444.99" y="1807.50" width="11.72" height="14.80" fill="#3e6fff"/>
<rect x="456.30" y="1807.50" width="11.72" height="14.80" fill="#3e6fff"/>
<rect x="467.62" y="1807.50" width="11.72" height="14.80" fill="#3e6fff"/>
<rect x="478.94" y="1807.50" width="11.72" height="14.80" fill="#2e87f7"/>
<rect x="490.26" y="1807.50" width="11.72" height="14.80" fill="#18addb"/>
<rect x="501.58" y="1807.50" width="11.72" height="14.80" fill="#2cc4a7"/>
<rect x="512.89" y="1807.50" width="11.72" height="14.80" fill="#81cc59"/>
<rect x="524.21" y="1807.50" width="11.72" height="14.80" fill="#81cc59"/>
<rect x="535.53" y="1807.50" width="11.72" height="14.80" fill="#abc739"/>
<rect x="546.85" y="1807.50" width="11.72" height="14.80" fill="#81cc59"/>
<rect x="558.17" y="1807.50" width="11.72" height="14.80" fill="#4acb84"/>
<rect x="569.48" y="1807.50" width="11.72" height="14.80" fill="#02bac3"/>
<rect x="580.80" y="1807.50" width="11.72" height="14.80" fill="#259be8"/>
<rect x="592.12" y="1807.50" width="11.72" height="14.80" fill="#2e87f7"/>
<rect x="603.44" y="1807.50" width="11.72" height="14.80" fill="#3e6fff"/>
<rect x="614.76" y="1807.50" width="11.72" height="14.80" fill="#3e6fff"/>
<rect x="626.07" y="1807.50" width="11.72" height="14.80" fill="#3e6fff"/>
<rect x="637.39" y="1807.50" width="11.72" height="14.80" fill="#2e87f7"/>
<rect x="648.71" y="1807.50" width="11.72" height="14.80" fill="#18addb"/>
<rect x="660.03" y="1807.50" width="11.72" height="14.80" fill="#2cc4a7"/>
<rect x="671.35" y="1807.50" width="11.72" height="14.80" fill="#81cc59"/>
<rect x="682.66" y="1807.50" width="11.72" height="14.80" fill="#abc739"/>
<rect x="693.98" y="1807.50" width="11.72" height="14.80" fill="#dcbd29"/>
<rect x="705.30" y="1807.50" width="11.72" height="14.80" fill="#dcbd29"/>
<rect x="716.62" y="1807.50" width="11.72" height="14.80" fill="#81cc59"/>
<rect x="727.94" y="1807.50" width="11.72" height="14.80" fill="#4acb84"/>
<rect x="739.25" y="1807.50" width="11.72" height="14.80" fill="#02bac3"/>
<rect x="750.57" y="1807.50" width="11.72" height="14.80" fill="#18addb"/>
<rect x="761.89" y="1807.50" width="11.72" height="14.80" fill="#259be8"/>
<rect x="773.21" y="1807.50" width="11.72" height="14.80" fill="#259be8"/>
<rect x="784.53" y="1807.50" width="11.72" height="14.80" fill="#259be8"/>
<rect x="795.84" y="1807.50" width="11.72" height="14.80" fill="#259be8"/>
<rect x="807.16" y="1807.50" width="11.72" height="14.80" fill="#18addb"/>
<rect x="818.48" y="1807.50" width="11.72" height="14.80" fill="#18addb"/>
<rect x="829.80" y="1807.50" width="11.72" height="14.80" fill="#18addb"/>
<rect x="841.12" y="1807.50" width="10.78" height="14.80" fill="#18addb"/>
<rect x="136.00" y="1821.90" width="3.80" height="14.80" fill="#02bac3"/>
<rect x="139.40" y="1821.90" width="11.72" height="14.80" fill="#02bac3"/>
<rect x="150.72" y="1821.90" width="11.72" height="14.80" fill="#02bac3"/>
<rect x="162.04" y="1821.90" width="11.72" height="14.80" fill="#02bac3"/>
<rect x="173.35" y="1821.90" width="11.72" height="14.80" fill="#2cc4a7"/>
<rect x="184.67" y="1821.90" width="11.72" height="14.80" fill="#4acb84"/>
<rect x="195.99" y="1821.90" width="11.72" height="14.80" fill="#4acb84"/>
<rect x="207.31" y="1821.90" width="11.72" height="14.80" fill="#4acb84"/>
<rect x="218.63" y="1821.90" width="11.72" height="14.80" fill="#4acb84"/>
<rect x="229.94" y="1821.90" width="11.72" height="14.80" fill="#2cc4a7"/>
<rect x="241.26" y="1821.90" width="11.72" height="14.80" fill="#2cc4a7"/>
<rect x="252.58" y="1821.90" width="11.72" height="14.80" fill="#02bac3"/>
<rect x="263.90" y="1821.90" width="11.72" height="14.80" fill="#18addb"/>
<rect x="275.22" y="1821.90" width="11.72" height="14.80" fill="#259be8"/>
<rect x="286.53" y="1821.90" width="11.72" height="14.80" fill="#259be8"/>
<rect x="297.85" y="1821.90" width="11.72" height="14.80" fill="#259be8"/>
<rect x="309.17" y="1821.90" width="11.72" height="14.80" fill="#259be8"/>
<rect x="320.49" y="1821.90" width="11.72" height="14.80" fill="#18addb"/>
<rect x="331.81" y="1821.90" width="11.72" height="14.80" fill="#02bac3"/>
<rect x="343.12" y="1821.90" width="11.72" height="14.80" fill="#2cc4a7"/>
<rect x="354.44" y="1821.90" width="11.72" height="14.80" fill="#4acb84"/>
<rect x="365.76" y="1821.90" width="11.72" height="14.80" fill="#abc739"/>
<rect x="377.08" y="1821.90" width="11.72" height="14.80" fill="#dcbd29"/>
<rect x="388.40" y="1821.90" width="11.72" height="14.80" fill="#dcbd29"/>
<rect x="399.71" y="1821.90" width="11.72" height="14.80" fill="#81cc59"/>
<rect x="411.03" y="1821.90" width="11.72" height="14.80" fill="#2cc4a7"/>
<rect x="422.35" y="1821.90" width="11.72" height="14.80" fill="#259be8"/>
<rect x="433.67" y="1821.90" width="11.72" height="14.80" fill="#2e87f7"/>
<rect x="444.99" y="1821.90" width="11.72" height="14.80" fill="#3e6fff"/>
<rect x="456.30" y="1821.90" width="11.72" height="14.80" fill="#4852f4"/>
<rect x="467.62" y="1821.90" width="11.72" height="14.80" fill="#4852f4"/>
<rect x="478.94" y="1821.90" width="11.72" height="14.80" fill="#2e87f7"/>
<rect x="490.26" y="1821.90" width="11.72" height="14.80" fill="#18addb"/>
<rect x="501.58" y="1821.90" width="11.72" height="14.80" fill="#4acb84"/>
<rect x="512.89" y="1821.90" width="11.72" height="14.80" fill="#abc739"/>
<rect x="524.21" y="1821.90" width="11.72" height="14.80" fill="#dcbd29"/>
<rect x="535.53" y="1821.90" width="11.72" height="14.80" fill="#dcbd29"/>
<rect x="546.85" y="1821.90" width="11.72" height="14.80" fill="#81cc59"/>
<rect x="558.17" y="1821.90" width="11.72" height="14.80" fill="#2cc4a7"/>
<rect x="569.48" y="1821.90" width="11.72" height="14.80" fill="#259be8"/>
<rect x="580.80" y="1821.90" width="11.72" height="14.80" fill="#2e87f7"/>
<rect x="592.12" y="1821.90" width="11.72" height="14.80" fill="#4852f4"/>
<rect x="603.44" y="1821.90" width="11.72" height="14.80" fill="#4852f4"/>
<rect x="614.76" y="1821.90" width="11.72" height="14.80" fill="#4852f4"/>
<rect x="626.07" y="1821.90" width="11.72" height="14.80" fill="#3e6fff"/>
<rect x="637.39" y="1821.90" width="11.72" height="14.80" fill="#2e87f7"/>
<rect x="648.71" y="1821.90" width="11.72" height="14.80" fill="#259be8"/>
<rect x="660.03" y="1821.90" width="11.72" height="14.80" fill="#02bac3"/>
<rect x="671.35" y="1821.90" width="11.72" height="14.80" fill="#2cc4a7"/>
<rect x="682.66" y="1821.90" width="11.72" height="14.80" fill="#2cc4a7"/>
<rect x="693.98" y="1821.90" width="11.72" height="14.80" fill="#2cc4a7"/>
<rect x="705.30" y="1821.90" width="11.72" height="14.80" fill="#2cc4a7"/>
<rect x="716.62" y="1821.90" width="11.72" height="14.80" fill="#02bac3"/>
<rect x="727.94" y="1821.90" width="11.72" height="14.80" fill="#18addb"/>
<rect x="739.25" y="1821.90" width="11.72" height="14.80" fill="#18addb"/>
<rect x="750.57" y="1821.90" width="11.72" height="14.80" fill="#259be8"/>
<rect x="761.89" y="1821.90" width="11.72" height="14.80" fill="#259be8"/>
<rect x="773.21" y="1821.90" width="11.72" height="14.80" fill="#18addb"/>
<rect x="784.53" y="1821.90" width="11.72" height="14.80" fill="#18addb"/>
<rect x="795.84" y="1821.90" width="11.72" height="14.80" fill="#02bac3"/>
<rect x="807.16" y="1821.90" width="11.72" height="14.80" fill="#02bac3"/>
<rect x="818.48" y="1821.90" width="11.72" height="14.80" fill="#2cc4a7"/>
<rect x="829.80" y="1821.90" width="11.72" height="14.80" fill="#4acb84"/>
<rect x="841.12" y="1821.90" width="10.78" height="14.80" fill="#4acb84"/>
<rect x="136.00" y="1836.30" width="3.80" height="14.80" fill="#259be8"/>
<rect x="139.40" y="1836.30" width="11.72" height="14.80" fill="#259be8"/>
<rect x="150.72" y="1836.30" width="11.72" height="14.80" fill="#259be8"/>
<rect x="162.04" y="1836.30" width="11.72" height="14.80" fill="#18addb"/>
<rect x="173.35" y="1836.30" width="11.72" height="14.80" fill="#02bac3"/>
<rect x="184.67" y="1836.30" width="11.72" height="14.80" fill="#02bac3"/>
<rect x="195.99" y="1836.30" width="11.72" height="14.80" fill="#2cc4a7"/>
<rect x="207.31" y="1836.30" width="11.72" height="14.80" fill="#2cc4a7"/>
<rect x="218.63" y="1836.30" width="11.72" height="14.80" fill="#2cc4a7"/>
<rect x="229.94" y="1836.30" width="11.72" height="14.80" fill="#4acb84"/>
<rect x="241.26" y="1836.30" width="11.72" height="14.80" fill="#4acb84"/>
<rect x="252.58" y="1836.30" width="11.72" height="14.80" fill="#4acb84"/>
<rect x="263.90" y="1836.30" width="11.72" height="14.80" fill="#4acb84"/>
<rect x="275.22" y="1836.30" width="11.72" height="14.80" fill="#4acb84"/>
<rect x="286.53" y="1836.30" width="11.72" height="14.80" fill="#4acb84"/>
<rect x="297.85" y="1836.30" width="11.72" height="14.80" fill="#2cc4a7"/>
<rect x="309.17" y="1836.30" width="11.72" height="14.80" fill="#02bac3"/>
<rect x="320.49" y="1836.30" width="11.72" height="14.80" fill="#18addb"/>
<rect x="331.81" y="1836.30" width="11.72" height="14.80" fill="#18addb"/>
<rect x="343.12" y="1836.30" width="11.72" height="14.80" fill="#18addb"/>
<rect x="354.44" y="1836.30" width="11.72" height="14.80" fill="#02bac3"/>
<rect x="365.76" y="1836.30" width="11.72" height="14.80" fill="#4acb84"/>
<rect x="377.08" y="1836.30" width="11.72" height="14.80" fill="#abc739"/>
<rect x="388.40" y="1836.30" width="11.72" height="14.80" fill="#dcbd29"/>
<rect x="399.71" y="1836.30" width="11.72" height="14.80" fill="#dcbd29"/>
<rect x="411.03" y="1836.30" width="11.72" height="14.80" fill="#4acb84"/>
<rect x="422.35" y="1836.30" width="11.72" height="14.80" fill="#02bac3"/>
<rect x="433.67" y="1836.30" width="11.72" height="14.80" fill="#2e87f7"/>
<rect x="444.99" y="1836.30" width="11.72" height="14.80" fill="#3e6fff"/>
<rect x="456.30" y="1836.30" width="11.72" height="14.80" fill="#4852f4"/>
<rect x="467.62" y="1836.30" width="11.72" height="14.80" fill="#3e6fff"/>
<rect x="478.94" y="1836.30" width="11.72" height="14.80" fill="#2e87f7"/>
<rect x="490.26" y="1836.30" width="11.72" height="14.80" fill="#18addb"/>
<rect x="501.58" y="1836.30" width="11.72" height="14.80" fill="#4acb84"/>
<rect x="512.89" y="1836.30" width="11.72" height="14.80" fill="#abc739"/>
<rect x="524.21" y="1836.30" width="11.72" height="14.80" fill="#dcbd29"/>
<rect x="535.53" y="1836.30" width="11.72" height="14.80" fill="#81cc59"/>
<rect x="546.85" y="1836.30" width="11.72" height="14.80" fill="#2cc4a7"/>
<rect x="558.17" y="1836.30" width="11.72" height="14.80" fill="#18addb"/>
<rect x="569.48" y="1836.30" width="11.72" height="14.80" fill="#2e87f7"/>
<rect x="580.80" y="1836.30" width="11.72" height="14.80" fill="#3e6fff"/>
<rect x="592.12" y="1836.30" width="11.72" height="14.80" fill="#4852f4"/>
<rect x="603.44" y="1836.30" width="11.72" height="14.80" fill="#3e6fff"/>
<rect x="614.76" y="1836.30" width="11.72" height="14.80" fill="#2e87f7"/>
<rect x="626.07" y="1836.30" width="11.72" height="14.80" fill="#2e87f7"/>
<rect x="637.39" y="1836.30" width="11.72" height="14.80" fill="#259be8"/>
<rect x="648.71" y="1836.30" width="11.72" height="14.80" fill="#18addb"/>
<rect x="660.03" y="1836.30" width="11.72" height="14.80" fill="#18addb"/>
<rect x="671.35" y="1836.30" width="11.72" height="14.80" fill="#18addb"/>
<rect x="682.66" y="1836.30" width="11.72" height="14.80" fill="#259be8"/>
<rect x="693.98" y="1836.30" width="11.72" height="14.80" fill="#2e87f7"/>
<rect x="705.30" y="1836.30" width="11.72" height="14.80" fill="#2e87f7"/>
<rect x="716.62" y="1836.30" width="11.72" height="14.80" fill="#2e87f7"/>
<rect x="727.94" y="1836.30" width="11.72" height="14.80" fill="#2e87f7"/>
<rect x="739.25" y="1836.30" width="11.72" height="14.80" fill="#259be8"/>
<rect x="750.57" y="1836.30" width="11.72" height="14.80" fill="#259be8"/>
<rect x="761.89" y="1836.30" width="11.72" height="14.80" fill="#18addb"/>
<rect x="773.21" y="1836.30" width="11.72" height="14.80" fill="#02bac3"/>
<rect x="784.53" y="1836.30" width="11.72" height="14.80" fill="#2cc4a7"/>
<rect x="795.84" y="1836.30" width="11.72" height="14.80" fill="#4acb84"/>
<rect x="807.16" y="1836.30" width="11.72" height="14.80" fill="#81cc59"/>
<rect x="818.48" y="1836.30" width="11.72" height="14.80" fill="#abc739"/>
<rect x="829.80" y="1836.30" width="11.72" height="14.80" fill="#dcbd29"/>
<rect x="841.12" y="1836.30" width="10.78" height="14.80" fill="#dcbd29"/>
<rect x="136.00" y="1850.70" width="3.80" height="14.80" fill="#259be8"/>
<rect x="139.40" y="1850.70" width="11.72" height="14.80" fill="#259be8"/>
<rect x="150.72" y="1850.70" width="11.72" height="14.80" fill="#259be8"/>
<rect x="162.04" y="1850.70" width="11.72" height="14.80" fill="#259be8"/>
<rect x="173.35" y="1850.70" width="11.72" height="14.80" fill="#18addb"/>
<rect x="184.67" y="1850.70" width="11.72" height="14.80" fill="#02bac3"/>
<rect x="195.99" y="1850.70" width="11.72" height="14.80" fill="#02bac3"/>
<rect x="207.31" y="1850.70" width="11.72" height="14.80" fill="#02bac3"/>
<rect x="218.63" y="1850.70" width="11.72" height="14.80" fill="#02bac3"/>
<rect x="229.94" y="1850.70" width="11.72" height="14.80" fill="#2cc4a7"/>
<rect x="241.26" y="1850.70" width="11.72" height="14.80" fill="#81cc59"/>
<rect x="252.58" y="1850.70" width="11.72" height="14.80" fill="#dcbd29"/>
<rect x="263.90" y="1850.70" width="11.72" height="14.80" fill="#febe3c"/>
<rect x="275.22" y="1850.70" width="11.72" height="14.80" fill="#febe3c"/>
<rect x="286.53" y="1850.70" width="11.72" height="14.80" fill="#febe3c"/>
<rect x="297.85" y="1850.70" width="11.72" height="14.80" fill="#abc739"/>
<rect x="309.17" y="1850.70" width="11.72" height="14.80" fill="#2cc4a7"/>
<rect x="320.49" y="1850.70" width="11.72" height="14.80" fill="#18addb"/>
<rect x="331.81" y="1850.70" width="11.72" height="14.80" fill="#259be8"/>
<rect x="343.12" y="1850.70" width="11.72" height="14.80" fill="#2e87f7"/>
<rect x="354.44" y="1850.70" width="11.72" height="14.80" fill="#259be8"/>
<rect x="365.76" y="1850.70" width="11.72" height="14.80" fill="#18addb"/>
<rect x="377.08" y="1850.70" width="11.72" height="14.80" fill="#2cc4a7"/>
<rect x="388.40" y="1850.70" width="11.72" height="14.80" fill="#abc739"/>
<rect x="399.71" y="1850.70" width="11.72" height="14.80" fill="#dcbd29"/>
<rect x="411.03" y="1850.70" width="11.72" height="14.80" fill="#81cc59"/>
<rect x="422.35" y="1850.70" width="11.72" height="14.80" fill="#2cc4a7"/>
<rect x="433.67" y="1850.70" width="11.72" height="14.80" fill="#18addb"/>
<rect x="444.99" y="1850.70" width="11.72" height="14.80" fill="#2e87f7"/>
<rect x="456.30" y="1850.70" width="11.72" height="14.80" fill="#2e87f7"/>
<rect x="467.62" y="1850.70" width="11.72" height="14.80" fill="#2e87f7"/>
<rect x="478.94" y="1850.70" width="11.72" height="14.80" fill="#259be8"/>
<rect x="490.26" y="1850.70" width="11.72" height="14.80" fill="#02bac3"/>
<rect x="501.58" y="1850.70" width="11.72" height="14.80" fill="#4acb84"/>
<rect x="512.89" y="1850.70" width="11.72" height="14.80" fill="#81cc59"/>
<rect x="524.21" y="1850.70" width="11.72" height="14.80" fill="#81cc59"/>
<rect x="535.53" y="1850.70" width="11.72" height="14.80" fill="#2cc4a7"/>
<rect x="546.85" y="1850.70" width="11.72" height="14.80" fill="#18addb"/>
<rect x="558.17" y="1850.70" width="11.72" height="14.80" fill="#259be8"/>
<rect x="569.48" y="1850.70" width="11.72" height="14.80" fill="#2e87f7"/>
<rect x="580.80" y="1850.70" width="11.72" height="14.80" fill="#3e6fff"/>
<rect x="592.12" y="1850.70" width="11.72" height="14.80" fill="#3e6fff"/>
<rect x="603.44" y="1850.70" width="11.72" height="14.80" fill="#259be8"/>
<rect x="614.76" y="1850.70" width="11.72" height="14.80" fill="#18addb"/>
<rect x="626.07" y="1850.70" width="11.72" height="14.80" fill="#02bac3"/>
<rect x="637.39" y="1850.70" width="11.72" height="14.80" fill="#02bac3"/>
<rect x="648.71" y="1850.70" width="11.72" height="14.80" fill="#18addb"/>
<rect x="660.03" y="1850.70" width="11.72" height="14.80" fill="#18addb"/>
<rect x="671.35" y="1850.70" width="11.72" height="14.80" fill="#259be8"/>
<rect x="682.66" y="1850.70" width="11.72" height="14.80" fill="#3e6fff"/>
<rect x="693.98" y="1850.70" width="11.72" height="14.80" fill="#4852f4"/>
<rect x="705.30" y="1850.70" width="11.72" height="14.80" fill="#4852f4"/>
<rect x="716.62" y="1850.70" width="11.72" height="14.80" fill="#4852f4"/>
<rect x="727.94" y="1850.70" width="11.72" height="14.80" fill="#3e6fff"/>
<rect x="739.25" y="1850.70" width="11.72" height="14.80" fill="#2e87f7"/>
<rect x="750.57" y="1850.70" width="11.72" height="14.80" fill="#259be8"/>
<rect x="761.89" y="1850.70" width="11.72" height="14.80" fill="#02bac3"/>
<rect x="773.21" y="1850.70" width="11.72" height="14.80" fill="#2cc4a7"/>
<rect x="784.53" y="1850.70" width="11.72" height="14.80" fill="#4acb84"/>
<rect x="795.84" y="1850.70" width="11.72" height="14.80" fill="#81cc59"/>
<rect x="807.16" y="1850.70" width="11.72" height="14.80" fill="#abc739"/>
<rect x="818.48" y="1850.70" width="11.72" height="14.80" fill="#dcbd29"/>
<rect x="829.80" y="1850.70" width="11.72" height="14.80" fill="#dcbd29"/>
<rect x="841.12" y="1850.70" width="10.78" height="14.80" fill="#dcbd29"/>
<rect x="136.00" y="1865.10" width="3.80" height="14.80" fill="#259be8"/>
<rect x="139.40" y="1865.10" width="11.72" height="14.80" fill="#259be8"/>
<rect x="150.72" y="1865.10" width="11.72" height="14.80" fill="#18addb"/>
<rect x="162.04" y="1865.10" width="11.72" height="14.80" fill="#02bac3"/>
<rect x="173.35" y="1865.10" width="11.72" height="14.80" fill="#02bac3"/>
<rect x="184.67" y="1865.10" width="11.72" height="14.80" fill="#02bac3"/>
<rect x="195.99" y="1865.10" width="11.72" height="14.80" fill="#02bac3"/>
<rect x="207.31" y="1865.10" width="11.72" height="14.80" fill="#18addb"/>
<rect x="218.63" y="1865.10" width="11.72" height="14.80" fill="#18addb"/>
<rect x="229.94" y="1865.10" width="11.72" height="14.80" fill="#02bac3"/>
<rect x="241.26" y="1865.10" width="11.72" height="14.80" fill="#4acb84"/>
<rect x="252.58" y="1865.10" width="11.72" height="14.80" fill="#abc739"/>
<rect x="263.90" y="1865.10" width="11.72" height="14.80" fill="#febe3c"/>
<rect x="275.22" y="1865.10" width="11.72" height="14.80" fill="#f9fb15"/>
<rect x="286.53" y="1865.10" width="11.72" height="14.80" fill="#f7dc2a"/>
<rect x="297.85" y="1865.10" width="11.72" height="14.80" fill="#febe3c"/>
<rect x="309.17" y="1865.10" width="11.72" height="14.80" fill="#4acb84"/>
<rect x="320.49" y="1865.10" width="11.72" height="14.80" fill="#18addb"/>
<rect x="331.81" y="1865.10" width="11.72" height="14.80" fill="#2e87f7"/>
<rect x="343.12" y="1865.10" width="11.72" height="14.80" fill="#4852f4"/>
<rect x="354.44" y="1865.10" width="11.72" height="14.80" fill="#4852f4"/>
<rect x="365.76" y="1865.10" width="11.72" height="14.80" fill="#2e87f7"/>
<rect x="377.08" y="1865.10" width="11.72" height="14.80" fill="#18addb"/>
<rect x="388.40" y="1865.10" width="11.72" height="14.80" fill="#2cc4a7"/>
<rect x="399.71" y="1865.10" width="11.72" height="14.80" fill="#abc739"/>
<rect x="411.03" y="1865.10" width="11.72" height="14.80" fill="#abc739"/>
<rect x="422.35" y="1865.10" width="11.72" height="14.80" fill="#4acb84"/>
<rect x="433.67" y="1865.10" width="11.72" height="14.80" fill="#02bac3"/>
<rect x="444.99" y="1865.10" width="11.72" height="14.80" fill="#18addb"/>
<rect x="456.30" y="1865.10" width="11.72" height="14.80" fill="#259be8"/>
<rect x="467.62" y="1865.10" width="11.72" height="14.80" fill="#259be8"/>
<rect x="478.94" y="1865.10" width="11.72" height="14.80" fill="#18addb"/>
<rect x="490.26" y="1865.10" width="11.72" height="14.80" fill="#2cc4a7"/>
<rect x="501.58" y="1865.10" width="11.72" height="14.80" fill="#2cc4a7"/>
<rect x="512.89" y="1865.10" width="11.72" height="14.80" fill="#2cc4a7"/>
<rect x="524.21" y="1865.10" width="11.72" height="14.80" fill="#02bac3"/>
<rect x="535.53" y="1865.10" width="11.72" height="14.80" fill="#18addb"/>
<rect x="546.85" y="1865.10" width="11.72" height="14.80" fill="#259be8"/>
<rect x="558.17" y="1865.10" width="11.72" height="14.80" fill="#2e87f7"/>
<rect x="569.48" y="1865.10" width="11.72" height="14.80" fill="#3e6fff"/>
<rect x="580.80" y="1865.10" width="11.72" height="14.80" fill="#2e87f7"/>
<rect x="592.12" y="1865.10" width="11.72" height="14.80" fill="#259be8"/>
<rect x="603.44" y="1865.10" width="11.72" height="14.80" fill="#02bac3"/>
<rect x="614.76" y="1865.10" width="11.72" height="14.80" fill="#2cc4a7"/>
<rect x="626.07" y="1865.10" width="11.72" height="14.80" fill="#81cc59"/>
<rect x="637.39" y="1865.10" width="11.72" height="14.80" fill="#81cc59"/>
<rect x="648.71" y="1865.10" width="11.72" height="14.80" fill="#2cc4a7"/>
<rect x="660.03" y="1865.10" width="11.72" height="14.80" fill="#18addb"/>
<rect x="671.35" y="1865.10" width="11.72" height="14.80" fill="#2e87f7"/>
<rect x="682.66" y="1865.10" width="11.72" height="14.80" fill="#3e6fff"/>
<rect x="693.98" y="1865.10" width="11.72" height="14.80" fill="#463cde"/>
<rect x="705.30" y="1865.10" width="11.72" height="14.80" fill="#463cde"/>
<rect x="716.62" y="1865.10" width="11.72" height="14.80" fill="#4852f4"/>
<rect x="727.94" y="1865.10" width="11.72" height="14.80" fill="#3e6fff"/>
<rect x="739.25" y="1865.10" width="11.72" height="14.80" fill="#2e87f7"/>
<rect x="750.57" y="1865.10" width="11.72" height="14.80" fill="#18addb"/>
<rect x="761.89" y="1865.10" width="11.72" height="14.80" fill="#2cc4a7"/>
<rect x="773.21" y="1865.10" width="11.72" height="14.80" fill="#4acb84"/>
<rect x="784.53" y="1865.10" width="11.72" height="14.80" fill="#81cc59"/>
<rect x="795.84" y="1865.10" width="11.72" height="14.80" fill="#81cc59"/>
<rect x="807.16" y="1865.10" width="11.72" height="14.80" fill="#81cc59"/>
<rect x="818.48" y="1865.10" width="11.72" height="14.80" fill="#81cc59"/>
<rect x="829.80" y="1865.10" width="11.72" height="14.80" fill="#81cc59"/>
<rect x="841.12" y="1865.10" width="10.78" height="14.80" fill="#81cc59"/>
<rect x="136.00" y="1879.50" width="3.80" height="14.80" fill="#02bac3"/>
<rect x="139.40" y="1879.50" width="11.72" height="14.80" fill="#02bac3"/>
<rect x="150.72" y="1879.50" width="11.72" height="14.80" fill="#2cc4a7"/>
<rect x="162.04" y="1879.50" width="11.72" height="14.80" fill="#4acb84"/>
<rect x="173.35" y="1879.50" width="11.72" height="14.80" fill="#4acb84"/>
<rect x="184.67" y="1879.50" width="11.72" height="14.80" fill="#2cc4a7"/>
<rect x="195.99" y="1879.50" width="11.72" height="14.80" fill="#02bac3"/>
<rect x="207.31" y="1879.50" width="11.72" height="14.80" fill="#18addb"/>
<rect x="218.63" y="1879.50" width="11.72" height="14.80" fill="#259be8"/>
<rect x="229.94" y="1879.50" width="11.72" height="14.80" fill="#259be8"/>
<rect x="241.26" y="1879.50" width="11.72" height="14.80" fill="#02bac3"/>
<rect x="252.58" y="1879.50" width="11.72" height="14.80" fill="#4acb84"/>
<rect x="263.90" y="1879.50" width="11.72" height="14.80" fill="#dcbd29"/>
<rect x="275.22" y="1879.50" width="11.72" height="14.80" fill="#f7dc2a"/>
<rect x="286.53" y="1879.50" width="11.72" height="14.80" fill="#f7dc2a"/>
<rect x="297.85" y="1879.50" width="11.72" height="14.80" fill="#dcbd29"/>
<rect x="309.17" y="1879.50" width="11.72" height="14.80" fill="#4acb84"/>
<rect x="320.49" y="1879.50" width="11.72" height="14.80" fill="#18addb"/>
<rect x="331.81" y="1879.50" width="11.72" height="14.80" fill="#3e6fff"/>
<rect x="343.12" y="1879.50" width="11.72" height="14.80" fill="#4852f4"/>
<rect x="354.44" y="1879.50" width="11.72" height="14.80" fill="#463cde"/>
<rect x="365.76" y="1879.50" width="11.72" height="14.80" fill="#3e6fff"/>
<rect x="377.08" y="1879.50" width="11.72" height="14.80" fill="#259be8"/>
<rect x="388.40" y="1879.50" width="11.72" height="14.80" fill="#02bac3"/>
<rect x="399.71" y="1879.50" width="11.72" height="14.80" fill="#4acb84"/>
<rect x="411.03" y="1879.50" width="11.72" height="14.80" fill="#81cc59"/>
<rect x="422.35" y="1879.50" width="11.72" height="14.80" fill="#81cc59"/>
<rect x="433.67" y="1879.50" width="11.72" height="14.80" fill="#2cc4a7"/>
<rect x="444.99" y="1879.50" width="11.72" height="14.80" fill="#2cc4a7"/>
<rect x="456.30" y="1879.50" width="11.72" height="14.80" fill="#02bac3"/>
<rect x="467.62" y="1879.50" width="11.72" height="14.80" fill="#02bac3"/>
<rect x="478.94" y="1879.50" width="11.72" height="14.80" fill="#02bac3"/>
<rect x="490.26" y="1879.50" width="11.72" height="14.80" fill="#2cc4a7"/>
<rect x="501.58" y="1879.50" width="11.72" height="14.80" fill="#2cc4a7"/>
<rect x="512.89" y="1879.50" width="11.72" height="14.80" fill="#02bac3"/>
<rect x="524.21" y="1879.50" width="11.72" height="14.80" fill="#18addb"/>
<rect x="535.53" y="1879.50" width="11.72" height="14.80" fill="#259be8"/>
<rect x="546.85" y="1879.50" width="11.72" height="14.80" fill="#2e87f7"/>
<rect x="558.17" y="1879.50" width="11.72" height="14.80" fill="#3e6fff"/>
<rect x="569.48" y="1879.50" width="11.72" height="14.80" fill="#2e87f7"/>
<rect x="580.80" y="1879.50" width="11.72" height="14.80" fill="#259be8"/>
<rect x="592.12" y="1879.50" width="11.72" height="14.80" fill="#02bac3"/>
<rect x="603.44" y="1879.50" width="11.72" height="14.80" fill="#4acb84"/>
<rect x="614.76" y="1879.50" width="11.72" height="14.80" fill="#dcbd29"/>
<rect x="626.07" y="1879.50" width="11.72" height="14.80" fill="#febe3c"/>
<rect x="637.39" y="1879.50" width="11.72" height="14.80" fill="#dcbd29"/>
<rect x="648.71" y="1879.50" width="11.72" height="14.80" fill="#81cc59"/>
<rect x="660.03" y="1879.50" width="11.72" height="14.80" fill="#02bac3"/>
<rect x="671.35" y="1879.50" width="11.72" height="14.80" fill="#259be8"/>
<rect x="682.66" y="1879.50" width="11.72" height="14.80" fill="#3e6fff"/>
<rect x="693.98" y="1879.50" width="11.72" height="14.80" fill="#4852f4"/>
<rect x="705.30" y="1879.50" width="11.72" height="14.80" fill="#4852f4"/>
<rect x="716.62" y="1879.50" width="11.72" height="14.80" fill="#3e6fff"/>
<rect x="727.94" y="1879.50" width="11.72" height="14.80" fill="#2e87f7"/>
<rect x="739.25" y="1879.50" width="11.72" height="14.80" fill="#18addb"/>
<rect x="750.57" y="1879.50" width="11.72" height="14.80" fill="#02bac3"/>
<rect x="761.89" y="1879.50" width="11.72" height="14.80" fill="#4acb84"/>
<rect x="773.21" y="1879.50" width="11.72" height="14.80" fill="#4acb84"/>
<rect x="784.53" y="1879.50" width="11.72" height="14.80" fill="#4acb84"/>
<rect x="795.84" y="1879.50" width="11.72" height="14.80" fill="#2cc4a7"/>
<rect x="807.16" y="1879.50" width="11.72" height="14.80" fill="#2cc4a7"/>
<rect x="818.48" y="1879.50" width="11.72" height="14.80" fill="#02bac3"/>
<rect x="829.80" y="1879.50" width="11.72" height="14.80" fill="#02bac3"/>
<rect x="841.12" y="1879.50" width="10.78" height="14.80" fill="#02bac3"/>
<rect x="136.00" y="1893.90" width="3.80" height="14.80" fill="#abc739"/>
<rect x="139.40" y="1893.90" width="11.72" height="14.80" fill="#abc739"/>
<rect x="150.72" y="1893.90" width="11.72" height="14.80" fill="#dcbd29"/>
<rect x="162.04" y="1893.90" width="11.72" height="14.80" fill="#dcbd29"/>
<rect x="173.35" y="1893.90" width="11.72" height="14.80" fill="#abc739"/>
<rect x="184.67" y="1893.90" width="11.72" height="14.80" fill="#4acb84"/>
<rect x="195.99" y="1893.90" width="11.72" height="14.80" fill="#02bac3"/>
<rect x="207.31" y="1893.90" width="11.72" height="14.80" fill="#259be8"/>
<rect x="218.63" y="1893.90" width="11.72" height="14.80" fill="#2e87f7"/>
<rect x="229.94" y="1893.90" width="11.72" height="14.80" fill="#2e87f7"/>
<rect x="241.26" y="1893.90" width="11.72" height="14.80" fill="#259be8"/>
<rect x="252.58" y="1893.90" width="11.72" height="14.80" fill="#18addb"/>
<rect x="263.90" y="1893.90" width="11.72" height="14.80" fill="#2cc4a7"/>
<rect x="275.22" y="1893.90" width="11.72" height="14.80" fill="#abc739"/>
<rect x="286.53" y="1893.90" width="11.72" height="14.80" fill="#dcbd29"/>
<rect x="297.85" y="1893.90" width="11.72" height="14.80" fill="#abc739"/>
<rect x="309.17" y="1893.90" width="11.72" height="14.80" fill="#2cc4a7"/>
<rect x="320.49" y="1893.90" width="11.72" height="14.80" fill="#18addb"/>
<rect x="331.81" y="1893.90" width="11.72" height="14.80" fill="#2e87f7"/>
<rect x="343.12" y="1893.90" width="11.72" height="14.80" fill="#4852f4"/>
<rect x="354.44" y="1893.90" width="11.72" height="14.80" fill="#4852f4"/>
<rect x="365.76" y="1893.90" width="11.72" height="14.80" fill="#3e6fff"/>
<rect x="377.08" y="1893.90" width="11.72" height="14.80" fill="#2e87f7"/>
<rect x="388.40" y="1893.90" width="11.72" height="14.80" fill="#18addb"/>
<rect x="399.71" y="1893.90" width="11.72" height="14.80" fill="#2cc4a7"/>
<rect x="411.03" y="1893.90" width="11.72" height="14.80" fill="#4acb84"/>
<rect x="422.35" y="1893.90" width="11.72" height="14.80" fill="#4acb84"/>
<rect x="433.67" y="1893.90" width="11.72" height="14.80" fill="#4acb84"/>
<rect x="444.99" y="1893.90" width="11.72" height="14.80" fill="#4acb84"/>
<rect x="456.30" y="1893.90" width="11.72" height="14.80" fill="#2cc4a7"/>
<rect x="467.62" y="1893.90" width="11.72" height="14.80" fill="#2cc4a7"/>
<rect x="478.94" y="1893.90" width="11.72" height="14.80" fill="#2cc4a7"/>
<rect x="490.26" y="1893.90" width="11.72" height="14.80" fill="#2cc4a7"/>
<rect x="501.58" y="1893.90" width="11.72" height="14.80" fill="#02bac3"/>
<rect x="512.89" y="1893.90" width="11.72" height="14.80" fill="#18addb"/>
<rect x="524.21" y="1893.90" width="11.72" height="14.80" fill="#259be8"/>
<rect x="535.53" y="1893.90" width="11.72" height="14.80" fill="#2e87f7"/>
<rect x="546.85" y="1893.90" width="11.72" height="14.80" fill="#3e6fff"/>
<rect x="558.17" y="1893.90" width="11.72" height="14.80" fill="#3e6fff"/>
<rect x="569.48" y="1893.90" width="11.72" height="14.80" fill="#2e87f7"/>
<rect x="580.80" y="1893.90" width="11.72" height="14.80" fill="#18addb"/>
<rect x="592.12" y="1893.90" width="11.72" height="14.80" fill="#2cc4a7"/>
<rect x="603.44" y="1893.90" width="11.72" height="14.80" fill="#abc739"/>
<rect x="614.76" y="1893.90" width="11.72" height="14.80" fill="#febe3c"/>
<rect x="626.07" y="1893.90" width="11.72" height="14.80" fill="#febe3c"/>
<rect x="637.39" y="1893.90" width="11.72" height="14.80" fill="#dcbd29"/>
<rect x="648.71" y="1893.90" width="11.72" height="14.80" fill="#81cc59"/>
<rect x="660.03" y="1893.90" width="11.72" height="14.80" fill="#2cc4a7"/>
<rect x="671.35" y="1893.90" width="11.72" height="14.80" fill="#18addb"/>
<rect x="682.66" y="1893.90" width="11.72" height="14.80" fill="#259be8"/>
<rect x="693.98" y="1893.90" width="11.72" height="14.80" fill="#2e87f7"/>
<rect x="705.30" y="1893.90" width="11.72" height="14.80" fill="#2e87f7"/>
<rect x="716.62" y="1893.90" width="11.72" height="14.80" fill="#259be8"/>
<rect x="727.94" y="1893.90" width="11.72" height="14.80" fill="#18addb"/>
<rect x="739.25" y="1893.90" width="11.72" height="14.80" fill="#4acb84"/>
<rect x="750.57" y="1893.90" width="11.72" height="14.80" fill="#81cc59"/>
<rect x="761.89" y="1893.90" width="11.72" height="14.80" fill="#81cc59"/>
<rect x="773.21" y="1893.90" width="11.72" height="14.80" fill="#4acb84"/>
<rect x="784.53" y="1893.90" width="11.72" height="14.80" fill="#2cc4a7"/>
<rect x="795.84" y="1893.90" width="11.72" height="14.80" fill="#18addb"/>
<rect x="807.16" y="1893.90" width="11.72" height="14.80" fill="#259be8"/>
<rect x="818.48" y="1893.90" width="11.72" height="14.80" fill="#259be8"/>
<rect x="829.80" y="1893.90" width="11.72" height="14.80" fill="#2e87f7"/>
<rect x="841.12" y="1893.90" width="10.78" height="14.80" fill="#2e87f7"/>
<rect x="136.00" y="1908.30" width="3.80" height="10.60" fill="#febe3c"/>
<rect x="139.40" y="1908.30" width="11.72" height="10.60" fill="#febe3c"/>
<rect x="150.72" y="1908.30" width="11.72" height="10.60" fill="#f7dc2a"/>
<rect x="162.04" y="1908.30" width="11.72" height="10.60" fill="#f7dc2a"/>
<rect x="173.35" y="1908.30" width="11.72" height="10.60" fill="#febe3c"/>
<rect x="184.67" y="1908.30" width="11.72" height="10.60" fill="#dcbd29"/>
<rect x="195.99" y="1908.30" width="11.72" height="10.60" fill="#2cc4a7"/>
<rect x="207.31" y="1908.30" width="11.72" height="10.60" fill="#18addb"/>
<rect x="218.63" y="1908.30" width="11.72" height="10.60" fill="#2e87f7"/>
<rect x="229.94" y="1908.30" width="11.72" height="10.60" fill="#3e6fff"/>
<rect x="241.26" y="1908.30" width="11.72" height="10.60" fill="#3e6fff"/>
<rect x="252.58" y="1908.30" width="11.72" height="10.60" fill="#2e87f7"/>
<rect x="263.90" y="1908.30" width="11.72" height="10.60" fill="#18addb"/>
<rect x="275.22" y="1908.30" width="11.72" height="10.60" fill="#02bac3"/>
<rect x="286.53" y="1908.30" width="11.72" height="10.60" fill="#4acb84"/>
<rect x="297.85" y="1908.30" width="11.72" height="10.60" fill="#4acb84"/>
<rect x="309.17" y="1908.30" width="11.72" height="10.60" fill="#2cc4a7"/>
<rect x="320.49" y="1908.30" width="11.72" height="10.60" fill="#18addb"/>
<rect x="331.81" y="1908.30" width="11.72" height="10.60" fill="#259be8"/>
<rect x="343.12" y="1908.30" width="11.72" height="10.60" fill="#2e87f7"/>
<rect x="354.44" y="1908.30" width="11.72" height="10.60" fill="#2e87f7"/>
<rect x="365.76" y="1908.30" width="11.72" height="10.60" fill="#2e87f7"/>
<rect x="377.08" y="1908.30" width="11.72" height="10.60" fill="#259be8"/>
<rect x="388.40" y="1908.30" width="11.72" height="10.60" fill="#18addb"/>
<rect x="399.71" y="1908.30" width="11.72" height="10.60" fill="#02bac3"/>
<rect x="411.03" y="1908.30" width="11.72" height="10.60" fill="#2cc4a7"/>
<rect x="422.35" y="1908.30" width="11.72" height="10.60" fill="#2cc4a7"/>
<rect x="433.67" y="1908.30" width="11.72" height="10.60" fill="#2cc4a7"/>
<rect x="444.99" y="1908.30" width="11.72" height="10.60" fill="#4acb84"/>
<rect x="456.30" y="1908.30" width="11.72" height="10.60" fill="#4acb84"/>
<rect x="467.62" y="1908.30" width="11.72" height="10.60" fill="#4acb84"/>
<rect x="478.94" y="1908.30" width="11.72" height="10.60" fill="#2cc4a7"/>
<rect x="490.26" y="1908.30" width="11.72" height="10.60" fill="#2cc4a7"/>
<rect x="501.58" y="1908.30" width="11.72" height="10.60" fill="#02bac3"/>
<rect x="512.89" y="1908.30" width="11.72" height="10.60" fill="#18addb"/>
<rect x="524.21" y="1908.30" width="11.72" height="10.60" fill="#259be8"/>
<rect x="535.53" y="1908.30" width="11.72" height="10.60" fill="#2e87f7"/>
<rect x="546.85" y="1908.30" width="11.72" height="10.60" fill="#2e87f7"/>
<rect x="558.17" y="1908.30" width="11.72" height="10.60" fill="#259be8"/>
<rect x="569.48" y="1908.30" width="11.72" height="10.60" fill="#18addb"/>
<rect x="580.80" y="1908.30" width="11.72" height="10.60" fill="#02bac3"/>
<rect x="592.12" y="1908.30" width="11.72" height="10.60" fill="#81cc59"/>
<rect x="603.44" y="1908.30" width="11.72" height="10.60" fill="#abc739"/>
<rect x="614.76" y="1908.30" width="11.72" height="10.60" fill="#dcbd29"/>
<rect x="626.07" y="1908.30" width="11.72" height="10.60" fill="#dcbd29"/>
<rect x="637.39" y="1908.30" width="11.72" height="10.60" fill="#81cc59"/>
<rect x="648.71" y="1908.30" width="11.72" height="10.60" fill="#4acb84"/>
<rect x="660.03" y="1908.30" width="11.72" height="10.60" fill="#02bac3"/>
<rect x="671.35" y="1908.30" width="11.72" height="10.60" fill="#18addb"/>
<rect x="682.66" y="1908.30" width="11.72" height="10.60" fill="#18addb"/>
<rect x="693.98" y="1908.30" width="11.72" height="10.60" fill="#18addb"/>
<rect x="705.30" y="1908.30" width="11.72" height="10.60" fill="#02bac3"/>
<rect x="716.62" y="1908.30" width="11.72" height="10.60" fill="#2cc4a7"/>
<rect x="727.94" y="1908.30" width="11.72" height="10.60" fill="#81cc59"/>
<rect x="739.25" y="1908.30" width="11.72" height="10.60" fill="#abc739"/>
<rect x="750.57" y="1908.30" width="11.72" height="10.60" fill="#abc739"/>
<rect x="761.89" y="1908.30" width="11.72" height="10.60" fill="#81cc59"/>
<rect x="773.21" y="1908.30" width="11.72" height="10.60" fill="#2cc4a7"/>
<rect x="784.53" y="1908.30" width="11.72" height="10.60" fill="#02bac3"/>
<rect x="795.84" y="1908.30" width="11.72" height="10.60" fill="#259be8"/>
<rect x="807.16" y="1908.30" width="11.72" height="10.60" fill="#2e87f7"/>
<rect x="818.48" y="1908.30" width="11.72" height="10.60" fill="#3e6fff"/>
<rect x="829.80" y="1908.30" width="11.72" height="10.60" fill="#3e6fff"/>
<rect x="841.12" y="1908.30" width="10.78" height="10.60" fill="#3e6fff"/>
</g>
<g shape-rendering="crispEdges">
<rect x="873.5" y="1910.02" width="65.90" height="8.88" fill="#3e26a8"/>
<rect x="873.5" y="1901.53" width="65.90" height="8.88" fill="#402ab4"/>
<rect x="873.5" y="1893.05" width="65.90" height="8.88" fill="#422ec0"/>
<rect x="873.5" y="1884.56" width="65.90" height="8.88" fill="#4332cb"/>
<rect x="873.5" y="1876.08" width="65.90" height="8.88" fill="#4537d5"/>
<rect x="873.5" y="1867.59" width="65.90" height="8.88" fill="#463cde"/>
<rect x="873.5" y="1859.11" width="65.90" height="8.88" fill="#4741e5"/>
<rect x="873.5" y="1850.62" width="65.90" height="8.88" fill="#4747eb"/>
<rect x="873.5" y="1842.14" width="65.90" height="8.88" fill="#484df0"/>
<rect x="873.5" y="1833.66" width="65.90" height="8.88" fill="#4852f4"/>
<rect x="873.5" y="1825.17" width="65.90" height="8.88" fill="#4758f8"/>
<rect x="873.5" y="1816.69" width="65.90" height="8.88" fill="#465efb"/>
<rect x="873.5" y="1808.20" width="65.90" height="8.88" fill="#4563fd"/>
<rect x="873.5" y="1799.72" width="65.90" height="8.88" fill="#4269fe"/>
<rect x="873.5" y="1791.23" width="65.90" height="8.88" fill="#3e6fff"/>
<rect x="873.5" y="1782.75" width="65.90" height="8.88" fill="#3875fe"/>
<rect x="873.5" y="1774.27" width="65.90" height="8.88" fill="#327cfc"/>
<rect x="873.5" y="1765.78" width="65.90" height="8.88" fill="#2f81fa"/>
<rect x="873.5" y="1757.30" width="65.90" height="8.88" fill="#2e87f7"/>
<rect x="873.5" y="1748.81" width="65.90" height="8.88" fill="#2d8cf3"/>
<rect x="873.5" y="1740.33" width="65.90" height="8.88" fill="#2b91ef"/>
<rect x="873.5" y="1731.84" width="65.90" height="8.88" fill="#2797eb"/>
<rect x="873.5" y="1723.36" width="65.90" height="8.88" fill="#259be8"/>
<rect x="873.5" y="1714.88" width="65.90" height="8.88" fill="#23a0e5"/>
<rect x="873.5" y="1706.39" width="65.90" height="8.88" fill="#20a5e3"/>
<rect x="873.5" y="1697.91" width="65.90" height="8.88" fill="#1ca9df"/>
<rect x="873.5" y="1689.42" width="65.90" height="8.88" fill="#18addb"/>
<rect x="873.5" y="1680.94" width="65.90" height="8.88" fill="#12b1d6"/>
<rect x="873.5" y="1672.45" width="65.90" height="8.88" fill="#08b5d0"/>
<rect x="873.5" y="1663.97" width="65.90" height="8.88" fill="#01b8ca"/>
<rect x="873.5" y="1655.48" width="65.90" height="8.88" fill="#02bac3"/>
<rect x="873.5" y="1647.00" width="65.90" height="8.88" fill="#0bbdbd"/>
<rect x="873.5" y="1638.52" width="65.90" height="8.88" fill="#19bfb6"/>
<rect x="873.5" y="1630.03" width="65.90" height="8.88" fill="#24c1ae"/>
<rect x="873.5" y="1621.55" width="65.90" height="8.88" fill="#2cc4a7"/>
<rect x="873.5" y="1613.06" width="65.90" height="8.88" fill="#31c69f"/>
<rect x="873.5" y="1604.58" width="65.90" height="8.88" fill="#37c897"/>
<rect x="873.5" y="1596.09" width="65.90" height="8.88" fill="#3fca8e"/>
<rect x="873.5" y="1587.61" width="65.90" height="8.88" fill="#4acb84"/>
<rect x="873.5" y="1579.12" width="65.90" height="8.88" fill="#57cc7a"/>
<rect x="873.5" y="1570.64" width="65.90" height="8.88" fill="#64cd6f"/>
<rect x="873.5" y="1562.16" width="65.90" height="8.88" fill="#72cd64"/>
<rect x="873.5" y="1553.67" width="65.90" height="8.88" fill="#81cc59"/>
<rect x="873.5" y="1545.19" width="65.90" height="8.88" fill="#8fcb4e"/>
<rect x="873.5" y="1536.70" width="65.90" height="8.88" fill="#9dc943"/>
<rect x="873.5" y="1528.22" width="65.90" height="8.88" fill="#abc739"/>
<rect x="873.5" y="1519.73" width="65.90" height="8.88" fill="#b9c431"/>
<rect x="873.5" y="1511.25" width="65.90" height="8.88" fill="#c5c22a"/>
<rect x="873.5" y="1502.77" width="65.90" height="8.88" fill="#d1bf27"/>
<rect x="873.5" y="1494.28" width="65.90" height="8.88" fill="#dcbd29"/>
<rect x="873.5" y="1485.80" width="65.90" height="8.88" fill="#e6bb2d"/>
<rect x="873.5" y="1477.31" width="65.90" height="8.88" fill="#f0ba36"/>
<rect x="873.5" y="1468.83" width="65.90" height="8.88" fill="#f8ba3d"/>
<rect x="873.5" y="1460.34" width="65.90" height="8.88" fill="#febe3c"/>
<rect x="873.5" y="1451.86" width="65.90" height="8.88" fill="#fec338"/>
<rect x="873.5" y="1443.38" width="65.90" height="8.88" fill="#fec934"/>
<rect x="873.5" y="1434.89" width="65.90" height="8.88" fill="#fccf30"/>
<rect x="873.5" y="1426.41" width="65.90" height="8.88" fill="#fad62d"/>
<rect x="873.5" y="1417.92" width="65.90" height="8.88" fill="#f7dc2a"/>
<rect x="873.5" y="1409.44" width="65.90" height="8.88" fill="#f5e327"/>
<rect x="873.5" y="1400.95" width="65.90" height="8.88" fill="#f5e924"/>
<rect x="873.5" y="1392.47" width="65.90" height="8.88" fill="#f6ef20"/>
<rect x="873.5" y="1383.98" width="65.90" height="8.88" fill="#f7f51b"/>
<rect x="873.5" y="1375.50" width="65.90" height="8.88" fill="#f9fb15"/>
</g>
<rect x="136.0" y="72.4" width="760.5" height="543.0" fill="none" stroke="#262626" stroke-width="1.3"/>
<rect x="136.0" y="638.8" width="760.5" height="542.7" fill="none" stroke="#262626" stroke-width="1.3"/>
<path d="M136.0,181.2 h9 M896.5,181.2 h-9" stroke="#262626" stroke-width="1.3"/>
<path d="M136.0,344.3 h9 M896.5,344.3 h-9" stroke="#262626" stroke-width="1.3"/>
<path d="M136.0,507.2 h9 M896.5,507.2 h-9" stroke="#262626" stroke-width="1.3"/>
<path d="M136.0,747.5999999999999 h9 M896.5,747.5999999999999 h-9" stroke="#262626" stroke-width="1.3"/>
<path d="M136.0,910.7 h9 M896.5,910.7 h-9" stroke="#262626" stroke-width="1.3"/>
<path d="M136.0,1073.6 h9 M896.5,1073.6 h-9" stroke="#262626" stroke-width="1.3"/>
<path d="M259.1,1181.5 v-9 M259.1,638.8 v9" stroke="#262626" stroke-width="1.3"/>
<path d="M388.0,1181.5 v-9 M388.0,638.8 v9" stroke="#262626" stroke-width="1.3"/>
<path d="M516.9,1181.5 v-9 M516.9,638.8 v9" stroke="#262626" stroke-width="1.3"/>
<path d="M645.8,1181.5 v-9 M645.8,638.8 v9" stroke="#262626" stroke-width="1.3"/>
<path d="M774.7,1181.5 v-9 M774.7,638.8 v9" stroke="#262626" stroke-width="1.3"/>
<rect x="136.0" y="1375.5" width="715.5" height="543.0" fill="none" stroke="#4d4d4d" stroke-width="1"/>
<rect x="873.5" y="1375.5" width="65.89999999999998" height="543.0" fill="none" stroke="#262626" stroke-width="1.3"/>
<path d="M939.4,1503.9 h-6.5" stroke="#262626" stroke-width="1.3"/>
<path d="M939.4,1660.6 h-6.5" stroke="#262626" stroke-width="1.3"/>
<path d="M939.4,1817.2 h-6.5" stroke="#262626" stroke-width="1.3"/>
<text x="148.6" y="38.2" font-family="'Liberation Sans', Arial, sans-serif" font-size="43" text-anchor="middle" fill="#000" >0</text>
<text x="866.4" y="38.3" font-family="'Liberation Sans', Arial, sans-serif" font-size="43" text-anchor="middle" fill="#000" >1920</text>
<text x="385.8" y="32.3" font-family="'Liberation Serif', 'Times New Roman', serif" font-size="44" text-anchor="start" fill="#000" textLength="292" lengthAdjust="spacing">Sensor x (pixel)</text>
<text x="910.9" y="96.6" font-family="'Liberation Sans', Arial, sans-serif" font-size="43" text-anchor="start" fill="#000" >0</text>
<text x="1005.7" y="613.1" font-family="'Liberation Sans', Arial, sans-serif" font-size="43" text-anchor="end" fill="#000" >1080</text>
<text x="911.3" y="661.8" font-family="'Liberation Sans', Arial, sans-serif" font-size="43" text-anchor="start" fill="#000" >0</text>
<text x="1005.7" y="1197.2" font-family="'Liberation Sans', Arial, sans-serif" font-size="43" text-anchor="end" fill="#000" >1080</text>
<text transform="translate(1010,505.0) rotate(-90)" font-family="'Liberation Serif', 'Times New Roman', serif" font-size="44" fill="#000" textLength="286.4" lengthAdjust="spacing">Sensor y (pixel)</text>
<text transform="translate(1010,1069.5) rotate(-90)" font-family="'Liberation Serif', 'Times New Roman', serif" font-size="44" fill="#000" textLength="286.4" lengthAdjust="spacing">Sensor y (pixel)</text>
<text x="122.3" y="198.4" font-family="'Liberation Sans', Arial, sans-serif" font-size="43" text-anchor="end" fill="#262626" >25</text>
<text x="122.3" y="361.6" font-family="'Liberation Sans', Arial, sans-serif" font-size="43" text-anchor="end" fill="#262626" >0</text>
<text x="122.3" y="522.6" font-family="'Liberation Sans', Arial, sans-serif" font-size="43" text-anchor="end" fill="#262626" >-25</text>
<text x="122.3" y="763.4" font-family="'Liberation Sans', Arial, sans-serif" font-size="43" text-anchor="end" fill="#262626" >25</text>
<text x="122.3" y="926.3" font-family="'Liberation Sans', Arial, sans-serif" font-size="43" text-anchor="end" fill="#262626" >0</text>
<text x="122.3" y="1082.7" font-family="'Liberation Sans', Arial, sans-serif" font-size="43" text-anchor="end" fill="#262626" >-25</text>
<text transform="translate(38.2,520.0) rotate(-90)" font-family="'Liberation Serif', 'Times New Roman', serif" font-size="44" fill="#262626" textLength="349.8" lengthAdjust="spacing">Sensor y/<tspan font-style="italic">a</tspan><tspan font-size="31" dy="7">SP</tspan><tspan dy="-7"> (mm)</tspan></text>
<text transform="translate(38.2,1084.7) rotate(-90)" font-family="'Liberation Serif', 'Times New Roman', serif" font-size="44" fill="#262626" textLength="349.8" lengthAdjust="spacing">Sensor y/<tspan font-style="italic">a</tspan><tspan font-size="31" dy="7">SP</tspan><tspan dy="-7"> (mm)</tspan></text>
<text x="260.0" y="1239.3" font-family="'Liberation Sans', Arial, sans-serif" font-size="43" text-anchor="middle" fill="#262626" >-50</text>
<text x="387.4" y="1239.3" font-family="'Liberation Sans', Arial, sans-serif" font-size="43" text-anchor="middle" fill="#262626" >-25</text>
<text x="516.9" y="1239.3" font-family="'Liberation Sans', Arial, sans-serif" font-size="43" text-anchor="middle" fill="#262626" >0</text>
<text x="645.8" y="1239.3" font-family="'Liberation Sans', Arial, sans-serif" font-size="43" text-anchor="middle" fill="#262626" >25</text>
<text x="774.7" y="1239.3" font-family="'Liberation Sans', Arial, sans-serif" font-size="43" text-anchor="middle" fill="#262626" >50</text>
<text x="337.4" y="1288.5" font-family="'Liberation Serif', 'Times New Roman', serif" font-size="44" fill="#262626" textLength="357" lengthAdjust="spacing">Sensor x/<tspan font-style="italic">a</tspan><tspan font-size="31" dy="7">SP</tspan><tspan dy="-7"> (mm)</tspan></text>
<text x="183" y="127" font-family="'Liberation Serif', 'Times New Roman', serif" font-size="44" fill="#ffffff" textLength="287" lengthAdjust="spacing">(a) Flat surface</text>
<text x="183.2" y="692.2" font-family="'Liberation Serif', 'Times New Roman', serif" font-size="44" fill="#ffffff" textLength="346.1" lengthAdjust="spacing">(b) Curved surface</text>
<text x="184.4" y="1445.3" font-family="'Liberation Serif', 'Times New Roman', serif" font-size="43.5" fill="#000000" textLength="470.2" lengthAdjust="spacing">(c) Reconstructed surface</text>
<text x="122.3" y="1407.6" font-family="'Liberation Sans', Arial, sans-serif" font-size="43" text-anchor="end" fill="#262626" >20</text>
<text x="122.3" y="1553.1" font-family="'Liberation Sans', Arial, sans-serif" font-size="43" text-anchor="end" fill="#262626" >10</text>
<text x="122.3" y="1700.6" font-family="'Liberation Sans', Arial, sans-serif" font-size="43" text-anchor="end" fill="#262626" >0</text>
<text x="122.3" y="1846.8" font-family="'Liberation Sans', Arial, sans-serif" font-size="43" text-anchor="end" fill="#262626" >-10</text>
<text x="205.8" y="1976.5" font-family="'Liberation Sans', Arial, sans-serif" font-size="43" text-anchor="middle" fill="#262626" >-20</text>
<text x="435.5" y="1976.5" font-family="'Liberation Sans', Arial, sans-serif" font-size="43" text-anchor="middle" fill="#262626" >0</text>
<text x="666.5" y="1976.5" font-family="'Liberation Sans', Arial, sans-serif" font-size="43" text-anchor="middle" fill="#262626" >20</text>
<text x="952.3" y="1519.5" font-family="'Liberation Sans', Arial, sans-serif" font-size="39" text-anchor="start" fill="#262626" >0.5</text>
<text x="952.3" y="1675.8" font-family="'Liberation Sans', Arial, sans-serif" font-size="39" text-anchor="start" fill="#262626" >0</text>
<text x="952.3" y="1832.6" font-family="'Liberation Sans', Arial, sans-serif" font-size="39" text-anchor="start" fill="#262626" >-0.5</text>
<text x="844" y="1348.6" font-family="'Liberation Serif', 'Times New Roman', serif" font-size="41" fill="#262626"><tspan font-style="italic" font-size="44">ζ</tspan><tspan x="877.5">(mm)</tspan></text>
<text x="405.5" y="2029.3" font-family="'Liberation Serif', 'Times New Roman', serif" font-size="46" fill="#262626">x̃<tspan font-size="32" dy="7">L</tspan><tspan dy="-7" x="472" font-size="48">(mm)</tspan></text>
<text transform="translate(35.5,1735.6) rotate(-90)" font-family="'Liberation Serif', 'Times New Roman', serif" font-size="46" fill="#262626">ỹ<tspan font-size="32" dy="7">L</tspan><tspan dy="-7" x="66.5" font-size="48">(mm)</tspan></text>
</svg></body></html>
